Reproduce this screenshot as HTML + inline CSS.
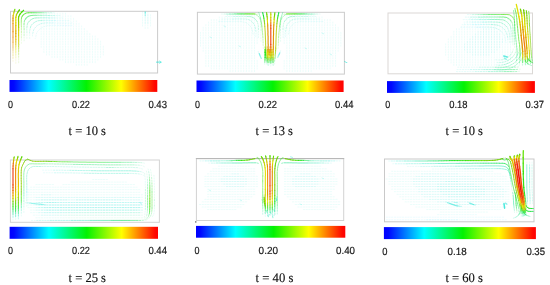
<!DOCTYPE html>
<html lang="en"><head><meta charset="utf-8"><title>Velocity vector fields</title>
<style>
html,body{margin:0;padding:0;background:#fff;}
body{width:550px;height:285px;overflow:hidden;position:relative;}
svg{position:absolute;left:0;top:0;display:block;}
text{text-rendering:geometricPrecision;}
.tk{font-family:"Liberation Sans",sans-serif;font-size:10.4px;fill:#161616;stroke:#161616;stroke-width:0.18px;}
.cp{font-family:"Liberation Serif",serif;font-size:13.1px;fill:#111;stroke:#111;stroke-width:0.15px;}
</style></head><body>
<svg width="550" height="285" viewBox="0 0 550 285">
<defs>
<linearGradient id="jet" x1="0" y1="0" x2="1" y2="0">
<stop offset="0" stop-color="#0000ff"/><stop offset="0.03" stop-color="#0008ff"/><stop offset="0.265" stop-color="#00ffff"/>
<stop offset="0.52" stop-color="#02f202"/><stop offset="0.755" stop-color="#ffff00"/>
<stop offset="0.98" stop-color="#ff0800"/><stop offset="1" stop-color="#ff0000"/>
</linearGradient>
<filter id="soft" x="-5%" y="-5%" width="110%" height="110%"><feGaussianBlur stdDeviation="0.4"/></filter>
</defs>
<rect x="0" y="0" width="550" height="285" fill="#ffffff"/>
<g id="panel1">
<rect x="10.5" y="11.3" width="147.1" height="61.7" fill="none" stroke="#cbcbcb" stroke-width="1"/>
<g fill="none" stroke-linecap="round" filter="url(#soft)">
<path stroke="#00b0ff" stroke-opacity=".1" stroke-width="0.95" d="M65.4 25.6l1.1 0.0"/>
<path stroke="#00c0ff" stroke-opacity=".1" stroke-width="0.95" d="M59.9 23.0l1.2 0.0M62.7 25.5l1.1 0.0M68.1 25.6l1.1 0.0"/>
<path stroke="#00d0ff" stroke-opacity=".1" stroke-width="0.95" d="M57.2 23.0l1.2 0.0M62.6 23.0l1.2 0.0M60.0 25.5l1.1 0.0M70.8 25.6l1.1 -0.0"/>
<path stroke="#00e000" stroke-opacity=".1" stroke-width="1.05" d="M24.1 40.8l0.0 -1.1M24.1 38.1l0.0 -1.2"/>
<path stroke="#00e080" stroke-opacity=".1" stroke-width="0.95" d="M26.9 38.3l0.0 -1.1M26.9 35.6l-0.0 -1.2"/>
<path stroke="#00e0b0" stroke-opacity=".1" stroke-width="0.95" d="M29.7 38.5l0.0 -1.1M29.7 35.8l-0.0 -1.1"/>
<path stroke="#00e0b0" stroke-opacity=".1" stroke-width="1.05" d="M53.1 12.8l1.2 0.0"/>
<path stroke="#00e0c0" stroke-opacity=".1" stroke-width="0.95" d="M32.5 36.0l0.0 -1.1"/>
<path stroke="#00e0c0" stroke-opacity=".1" stroke-width="1.05" d="M56.1 15.4l1.2 0.0"/>
<path stroke="#00e0d0" stroke-opacity=".1" stroke-width="0.8" d="M43.9 14.3l0.0 -1.2M46.6 14.3l0.0 -1.2M49.3 14.3l0.0 -1.2M52.0 14.3l0.0 -1.2M54.7 14.3l0.0 -1.2M57.4 14.3l0.0 -1.2M60.1 14.3l0.0 -1.2M62.8 14.3l0.0 -1.2M65.5 14.3l0.0 -1.2M41.2 16.9l0.0 -1.2M43.9 16.9l0.0 -1.2M46.6 16.9l0.0 -1.2M49.3 16.9l0.0 -1.2M52.0 16.9l0.0 -1.2M54.7 16.9l0.0 -1.2M57.4 16.9l0.0 -1.2M60.1 16.9l0.0 -1.2M62.8 16.9l0.0 -1.2M65.5 16.9l0.0 -1.2M68.2 16.9l0.0 -1.2M70.9 16.9l0.0 -1.2M41.2 19.4l0.0 -1.2M43.9 19.4l0.0 -1.2M46.6 19.4l0.0 -1.2M49.3 19.4l0.0 -1.2M52.0 19.4l0.0 -1.2M54.7 19.4l0.0 -1.2M57.4 19.4l0.0 -1.2M60.1 19.4l0.0 -1.2M62.8 19.4l0.0 -1.2M65.5 19.4l0.0 -1.2M68.2 19.4l0.0 -1.2M70.9 19.4l0.0 -1.2M73.6 19.4l0.0 -1.2M41.2 22.0l0.0 -1.2M43.9 22.0l0.0 -1.2M46.6 22.0l0.0 -1.2M49.3 22.0l0.0 -1.2M52.0 22.0l0.0 -1.2M54.7 22.0l0.0 -1.2M57.4 22.0l0.0 -1.2M60.1 22.0l0.0 -1.2M62.8 22.0l0.0 -1.2M65.5 22.0l0.0 -1.2M68.2 22.0l0.0 -1.2M70.9 22.0l0.0 -1.2M73.6 22.0l0.0 -1.2M76.3 22.0l0.0 -1.2M41.2 24.5l0.0 -1.2M43.9 24.5l0.0 -1.2M46.6 24.5l0.0 -1.2M49.3 24.5l0.0 -1.2M52.0 24.5l0.0 -1.2M54.7 24.5l0.0 -1.2M57.4 24.5l0.0 -1.2M60.1 24.5l0.0 -1.2M62.8 24.5l0.0 -1.2M65.5 24.5l0.0 -1.2M68.2 24.5l0.0 -1.2M70.9 24.5l0.0 -1.2M73.6 24.5l0.0 -1.2M76.3 24.5l0.0 -1.2M79.0 24.5l0.0 -1.2M41.2 27.1l0.0 -1.2M43.9 27.1l0.0 -1.2M46.6 27.1l0.0 -1.2M49.3 27.1l0.0 -1.2M52.0 27.1l0.0 -1.2M54.7 27.1l0.0 -1.2M57.4 27.1l0.0 -1.2M60.1 27.1l0.0 -1.2M62.8 27.1l0.0 -1.2M65.5 27.1l0.0 -1.2M68.2 27.1l0.0 -1.2M70.9 27.1l0.0 -1.2M73.6 27.1l0.0 -1.2M76.3 27.1l0.0 -1.2M79.0 27.1l0.0 -1.2M81.7 27.1l0.0 -1.2M41.2 29.6l0.0 -1.2M43.9 29.6l0.0 -1.2M46.6 29.6l0.0 -1.2M49.3 29.6l0.0 -1.2M52.0 29.6l0.0 -1.2M54.7 29.6l0.0 -1.2M57.4 29.6l0.0 -1.2M60.1 29.6l0.0 -1.2M62.8 29.6l0.0 -1.2M65.5 29.6l0.0 -1.2M68.2 29.6l0.0 -1.2M70.9 29.6l0.0 -1.2M73.6 29.6l0.0 -1.2M76.3 29.6l0.0 -1.2M79.0 29.6l0.0 -1.2M81.7 29.6l0.0 -1.2M84.4 29.6l0.0 -1.2M41.2 32.2l0.0 -1.2M43.9 32.2l0.0 -1.2M46.6 32.2l0.0 -1.2M49.3 32.2l0.0 -1.2M52.0 32.2l0.0 -1.2M54.7 32.2l0.0 -1.2M57.4 32.2l0.0 -1.2M60.1 32.2l0.0 -1.2M62.8 32.2l0.0 -1.2M65.5 32.2l0.0 -1.2M68.2 32.2l0.0 -1.2M70.9 32.2l0.0 -1.2M73.6 32.2l0.0 -1.2M76.3 32.2l0.0 -1.2M79.0 32.2l0.0 -1.2M81.7 32.2l0.0 -1.2M84.4 32.2l0.0 -1.2M87.1 32.2l0.0 -1.2M41.2 34.7l0.0 -1.2M43.9 34.7l0.0 -1.2M46.6 34.7l0.0 -1.2M49.3 34.7l0.0 -1.2M52.0 34.7l0.0 -1.2M54.7 34.7l0.0 -1.2M57.4 34.7l0.0 -1.2M60.1 34.7l0.0 -1.2M62.8 34.7l0.0 -1.2M65.5 34.7l0.0 -1.2M68.2 34.7l0.0 -1.2M70.9 34.7l0.0 -1.2M73.6 34.7l0.0 -1.2M76.3 34.7l0.0 -1.2M79.0 34.7l0.0 -1.2M81.7 34.7l0.0 -1.2M84.4 34.7l0.0 -1.2M87.1 34.7l0.0 -1.2M89.8 34.7l0.0 -1.2M41.2 37.2l0.0 -1.2M43.9 37.2l0.0 -1.2M46.6 37.2l0.0 -1.2M49.3 37.2l0.0 -1.2M52.0 37.2l0.0 -1.2M54.7 37.2l0.0 -1.2M57.4 37.2l0.0 -1.2M60.1 37.2l0.0 -1.2M62.8 37.2l0.0 -1.2M65.5 37.2l0.0 -1.2M68.2 37.2l0.0 -1.2M70.9 37.2l0.0 -1.2M73.6 37.2l0.0 -1.2M76.3 37.2l0.0 -1.2M79.0 37.2l0.0 -1.2M81.7 37.2l0.0 -1.2M84.4 37.2l0.0 -1.2M87.1 37.2l0.0 -1.2M89.8 37.2l0.0 -1.2M92.5 37.2l0.0 -1.2M95.2 37.2l0.0 -1.2M41.2 39.8l0.0 -1.2M43.9 39.8l0.0 -1.2M46.6 39.8l0.0 -1.2M49.3 39.8l0.0 -1.2M52.0 39.8l0.0 -1.2M54.7 39.8l0.0 -1.2M57.4 39.8l0.0 -1.2M60.1 39.8l0.0 -1.2M62.8 39.8l0.0 -1.2M65.5 39.8l0.0 -1.2M68.2 39.8l0.0 -1.2M70.9 39.8l0.0 -1.2M73.6 39.8l0.0 -1.2M76.3 39.8l0.0 -1.2M79.0 39.8l0.0 -1.2M81.7 39.8l0.0 -1.2M84.4 39.8l0.0 -1.2M87.1 39.8l0.0 -1.2M89.8 39.8l0.0 -1.2M92.5 39.8l0.0 -1.2M95.2 39.8l0.0 -1.2M97.9 39.8l0.0 -1.2M41.2 42.3l0.0 -1.2M43.9 42.3l0.0 -1.2M46.6 42.3l0.0 -1.2M49.3 42.3l0.0 -1.2M52.0 42.3l0.0 -1.2M54.7 42.3l0.0 -1.2M57.4 42.3l0.0 -1.2M60.1 42.3l0.0 -1.2M62.8 42.3l0.0 -1.2M65.5 42.3l0.0 -1.2M68.2 42.3l0.0 -1.2M70.9 42.3l0.0 -1.2M73.6 42.3l0.0 -1.2M76.3 42.3l0.0 -1.2M79.0 42.3l0.0 -1.2M81.7 42.3l0.0 -1.2M84.4 42.3l0.0 -1.2M87.1 42.3l0.0 -1.2M89.8 42.3l0.0 -1.2M92.5 42.3l0.0 -1.2M95.2 42.3l0.0 -1.2M97.9 42.3l0.0 -1.2M100.6 42.3l0.0 -1.2M41.2 44.9l0.0 -1.2M43.9 44.9l0.0 -1.2M46.6 44.9l0.0 -1.2M49.3 44.9l0.0 -1.2M52.0 44.9l0.0 -1.2M54.7 44.9l0.0 -1.2M57.4 44.9l0.0 -1.2M60.1 44.9l0.0 -1.2M62.8 44.9l0.0 -1.2M65.5 44.9l0.0 -1.2M68.2 44.9l0.0 -1.2M70.9 44.9l0.0 -1.2M73.6 44.9l0.0 -1.2M76.3 44.9l0.0 -1.2M79.0 44.9l0.0 -1.2M81.7 44.9l0.0 -1.2M84.4 44.9l0.0 -1.2M87.1 44.9l0.0 -1.2M89.8 44.9l0.0 -1.2M92.5 44.9l0.0 -1.2M95.2 44.9l0.0 -1.2M97.9 44.9l0.0 -1.2M100.6 44.9l0.0 -1.2M41.2 47.4l0.0 -1.2M43.9 47.4l0.0 -1.2M46.6 47.4l0.0 -1.2M49.3 47.4l0.0 -1.2M52.0 47.4l0.0 -1.2M54.7 47.4l0.0 -1.2M57.4 47.4l0.0 -1.2M60.1 47.4l0.0 -1.2M62.8 47.4l0.0 -1.2M65.5 47.4l0.0 -1.2M68.2 47.4l0.0 -1.2M70.9 47.4l0.0 -1.2M73.6 47.4l0.0 -1.2M76.3 47.4l0.0 -1.2M79.0 47.4l0.0 -1.2M81.7 47.4l0.0 -1.2M84.4 47.4l0.0 -1.2M87.1 47.4l0.0 -1.2M89.8 47.4l0.0 -1.2M92.5 47.4l0.0 -1.2M95.2 47.4l0.0 -1.2M97.9 47.4l0.0 -1.2M100.6 47.4l0.0 -1.2M103.3 47.4l0.0 -1.2M43.9 50.0l0.0 -1.2M46.6 50.0l0.0 -1.2M49.3 50.0l0.0 -1.2M52.0 50.0l0.0 -1.2M54.7 50.0l0.0 -1.2M57.4 50.0l0.0 -1.2M60.1 50.0l0.0 -1.2M62.8 50.0l0.0 -1.2M65.5 50.0l0.0 -1.2M68.2 50.0l0.0 -1.2M70.9 50.0l0.0 -1.2M73.6 50.0l0.0 -1.2M76.3 50.0l0.0 -1.2M79.0 50.0l0.0 -1.2M81.7 50.0l0.0 -1.2M84.4 50.0l0.0 -1.2M87.1 50.0l0.0 -1.2M89.8 50.0l0.0 -1.2M92.5 50.0l0.0 -1.2M95.2 50.0l0.0 -1.2M97.9 50.0l0.0 -1.2M100.6 50.0l0.0 -1.2M103.3 50.0l0.0 -1.2M43.9 52.5l0.0 -1.2M46.6 52.5l0.0 -1.2M49.3 52.5l0.0 -1.2M52.0 52.5l0.0 -1.2M54.7 52.5l0.0 -1.2M57.4 52.5l0.0 -1.2M60.1 52.5l0.0 -1.2M62.8 52.5l0.0 -1.2M65.5 52.5l0.0 -1.2M68.2 52.5l0.0 -1.2M70.9 52.5l0.0 -1.2M73.6 52.5l0.0 -1.2M76.3 52.5l0.0 -1.2M79.0 52.5l0.0 -1.2M81.7 52.5l0.0 -1.2M84.4 52.5l0.0 -1.2M87.1 52.5l0.0 -1.2M89.8 52.5l0.0 -1.2M92.5 52.5l0.0 -1.2M95.2 52.5l0.0 -1.2M97.9 52.5l0.0 -1.2M100.6 52.5l0.0 -1.2M103.3 52.5l0.0 -1.2M46.6 55.1l0.0 -1.2M49.3 55.1l0.0 -1.2M52.0 55.1l0.0 -1.2M54.7 55.1l0.0 -1.2M57.4 55.1l0.0 -1.2M60.1 55.1l0.0 -1.2M62.8 55.1l0.0 -1.2M65.5 55.1l0.0 -1.2M68.2 55.1l0.0 -1.2M70.9 55.1l0.0 -1.2M73.6 55.1l0.0 -1.2M76.3 55.1l0.0 -1.2M79.0 55.1l0.0 -1.2M81.7 55.1l0.0 -1.2M84.4 55.1l0.0 -1.2M87.1 55.1l0.0 -1.2M89.8 55.1l0.0 -1.2M92.5 55.1l0.0 -1.2M95.2 55.1l0.0 -1.2M97.9 55.1l0.0 -1.2M100.6 55.1l0.0 -1.2M103.3 55.1l0.0 -1.2M52.0 57.6l0.0 -1.2M54.7 57.6l0.0 -1.2M57.4 57.6l0.0 -1.2M60.1 57.6l0.0 -1.2M62.8 57.6l0.0 -1.2M65.5 57.6l0.0 -1.2M68.2 57.6l0.0 -1.2M70.9 57.6l0.0 -1.2M73.6 57.6l0.0 -1.2M76.3 57.6l0.0 -1.2M79.0 57.6l0.0 -1.2M81.7 57.6l0.0 -1.2M84.4 57.6l0.0 -1.2M87.1 57.6l0.0 -1.2M89.8 57.6l0.0 -1.2M92.5 57.6l0.0 -1.2M95.2 57.6l0.0 -1.2M97.9 57.6l0.0 -1.2M100.6 57.6l0.0 -1.2M60.1 60.2l0.0 -1.2M62.8 60.2l0.0 -1.2M65.5 60.2l0.0 -1.2M68.2 60.2l0.0 -1.2M70.9 60.2l0.0 -1.2M73.6 60.2l0.0 -1.2M76.3 60.2l0.0 -1.2M79.0 60.2l0.0 -1.2M81.7 60.2l0.0 -1.2M84.4 60.2l0.0 -1.2M87.1 60.2l0.0 -1.2M89.8 60.2l0.0 -1.2M92.5 60.2l0.0 -1.2M95.2 60.2l0.0 -1.2M97.9 60.2l0.0 -1.2M65.5 62.7l0.0 -1.2M68.2 62.7l0.0 -1.2M70.9 62.7l0.0 -1.2M73.6 62.7l0.0 -1.2M76.3 62.7l0.0 -1.2M79.0 62.7l0.0 -1.2M81.7 62.7l0.0 -1.2M84.4 62.7l0.0 -1.2M87.1 62.7l0.0 -1.2M89.8 62.7l0.0 -1.2M92.5 62.7l0.0 -1.2M95.2 62.7l0.0 -1.2M76.3 65.3l0.0 -1.2M79.0 65.3l0.0 -1.2M81.7 65.3l0.0 -1.2M84.4 65.3l0.0 -1.2M87.1 65.3l0.0 -1.2M142.5 12.0l0.0 1.3M147.9 12.0l0.0 1.3M142.5 14.6l0.0 1.3M150.6 14.6l0.0 1.3M142.5 17.1l0.0 1.3M150.6 17.1l0.0 1.3M142.5 19.7l0.0 1.3M150.6 19.7l0.0 1.3M142.5 22.2l0.0 1.3M150.6 22.2l0.0 1.3M142.5 24.8l0.0 1.3M145.2 24.8l0.0 1.3M147.9 24.8l0.0 1.3M150.6 24.8l0.0 1.3M145.2 27.3l0.0 1.3M147.9 27.3l0.0 1.3"/>
<path stroke="#00e0d0" stroke-opacity=".1" stroke-width="0.95" d="M56.5 17.9l1.3 0.0M59.2 17.9l1.2 0.0M61.9 17.9l1.1 -0.0M35.2 38.5l0.3 -0.5M35.8 36.5l0.3 -1.1M36.4 33.9l0.4 -1.1M37.6 31.5l0.8 -0.9M39.4 29.5l0.9 -0.8M41.6 27.8l1.0 -0.6M44.0 26.6l1.1 -0.4M46.6 25.9l1.2 -0.2"/>
<path stroke="#00e0d0" stroke-opacity=".1" stroke-width="1.05" d="M58.8 15.4l1.1 0.0"/>
<path stroke="#00e0e0" stroke-opacity=".1" stroke-width="0.95" d="M67.7 20.4l1.1 0.0M49.2 25.6l1.2 -0.1"/>
<path stroke="#00e0f0" stroke-opacity=".1" stroke-width="0.95" d="M62.3 20.4l1.2 0.0M65.0 20.4l1.1 0.0M70.7 23.0l1.1 0.0M51.9 25.4l1.2 -0.0"/>
<path stroke="#00e0ff" stroke-opacity=".1" stroke-width="0.95" d="M56.9 20.4l1.3 0.0M59.6 20.4l1.2 0.0M54.5 22.9l1.2 0.0M65.3 23.0l1.1 0.0M68.0 23.0l1.1 0.0M54.6 25.4l1.2 0.0M57.3 25.4l1.2 0.0"/>
<path stroke="#60e000" stroke-opacity=".1" stroke-width="1.05" d="M21.4 43.3l0.0 -1.1M21.4 40.6l0.0 -1.2"/>
<path stroke="#70d000" stroke-opacity=".1" stroke-width="1.2" d="M18.6 62.6l0.0 -1.1"/>
<path stroke="#80d000" stroke-opacity=".1" stroke-width="1.2" d="M18.6 59.9l0.0 -1.2"/>
<path stroke="#c0d000" stroke-opacity=".1" stroke-width="1.2" d="M15.8 63.3l0.0 -1.1M15.8 60.6l0.0 -1.2"/>
<path stroke="#e0d000" stroke-opacity=".1" stroke-width="1.2" d="M13.0 61.3l0.0 -1.1"/>
<path stroke="#00e000" stroke-opacity=".2" stroke-width="1.05" d="M24.1 35.4l0.0 -1.3M24.1 32.7l-0.0 -1.3"/>
<path stroke="#00e070" stroke-opacity=".2" stroke-width="0.95" d="M26.8 30.2l-0.0 -1.4"/>
<path stroke="#00e080" stroke-opacity=".2" stroke-width="0.95" d="M26.9 32.9l-0.0 -1.3"/>
<path stroke="#00e080" stroke-opacity=".2" stroke-width="1.05" d="M47.7 12.8l1.5 -0.0"/>
<path stroke="#00e090" stroke-opacity=".2" stroke-width="1.05" d="M50.4 12.8l1.4 0.0"/>
<path stroke="#00e0a0" stroke-opacity=".2" stroke-width="0.95" d="M29.8 30.4l0.2 -1.4"/>
<path stroke="#00e0a0" stroke-opacity=".2" stroke-width="1.05" d="M50.7 15.4l1.4 0.0"/>
<path stroke="#00e0b0" stroke-opacity=".2" stroke-width="0.95" d="M29.6 33.1l-0.0 -1.3"/>
<path stroke="#00e0b0" stroke-opacity=".2" stroke-width="1.05" d="M53.4 15.4l1.3 0.0"/>
<path stroke="#00e0c0" stroke-opacity=".2" stroke-width="0.95" d="M43.4 20.4l1.5 -0.0M32.8 33.4l0.3 -1.2M33.4 30.7l0.5 -1.2M34.6 28.3l0.9 -1.0M36.4 26.3l1.0 -0.8M38.6 24.8l1.2 -0.6M41.0 23.6l1.3 -0.3M43.7 23.1l1.3 -0.1"/>
<path stroke="#00e0d0" stroke-opacity=".2" stroke-width="0.8" d="M147.9 14.6l0.0 1.3M145.2 17.1l0.0 1.3M147.9 17.1l0.0 1.3M145.2 19.7l0.0 1.3M147.9 19.7l0.0 1.3M145.2 22.2l0.0 1.3M147.9 22.2l0.0 1.3"/>
<path stroke="#00e0d0" stroke-opacity=".2" stroke-width="0.95" d="M51.1 17.9l1.4 0.0M53.8 17.9l1.3 0.0M46.1 20.3l1.4 0.0M46.4 22.9l1.3 -0.0"/>
<path stroke="#00e0e0" stroke-opacity=".2" stroke-width="0.95" d="M48.8 20.4l1.4 0.0M49.1 22.9l1.3 -0.0"/>
<path stroke="#00e0f0" stroke-opacity=".2" stroke-width="0.95" d="M51.5 20.4l1.3 0.0M51.8 22.9l1.3 0.0"/>
<path stroke="#00e0ff" stroke-opacity=".2" stroke-width="0.95" d="M54.2 20.4l1.3 0.0"/>
<path stroke="#60e000" stroke-opacity=".2" stroke-width="1.05" d="M21.4 37.9l-0.0 -1.3M21.4 35.2l0.0 -1.4"/>
<path stroke="#80d000" stroke-opacity=".2" stroke-width="1.2" d="M18.6 57.2l0.0 -1.4"/>
<path stroke="#d0d000" stroke-opacity=".2" stroke-width="1.2" d="M15.8 57.9l-0.0 -1.4"/>
<path stroke="#e0c000" stroke-opacity=".2" stroke-width="1.2" d="M13.0 58.6l0.0 -1.3"/>
<path stroke="#00e000" stroke-opacity=".3" stroke-width="1.05" d="M24.1 30.0l-0.0 -1.4"/>
<path stroke="#00e010" stroke-opacity=".3" stroke-width="1.05" d="M24.0 27.3l-0.0 -1.5"/>
<path stroke="#00e060" stroke-opacity=".3" stroke-width="1.05" d="M45.0 12.8l1.6 0.0"/>
<path stroke="#00e070" stroke-opacity=".3" stroke-width="0.95" d="M26.9 27.5l0.2 -1.5M27.2 24.8l0.5 -1.5"/>
<path stroke="#00e070" stroke-opacity=".3" stroke-width="1.05" d="M42.6 15.3l1.7 0.0"/>
<path stroke="#00e090" stroke-opacity=".3" stroke-width="0.95" d="M40.3 17.8l1.6 0.0"/>
<path stroke="#00e090" stroke-opacity=".3" stroke-width="1.05" d="M45.3 15.3l1.6 0.0"/>
<path stroke="#00e0a0" stroke-opacity=".3" stroke-width="0.95" d="M43.0 17.8l1.6 0.0M30.3 27.8l0.5 -1.4M31.4 25.3l0.9 -1.2M33.3 23.3l1.2 -0.9M35.5 21.8l1.3 -0.6M38.0 20.8l1.5 -0.2M40.7 20.5l1.5 -0.1"/>
<path stroke="#00e0a0" stroke-opacity=".3" stroke-width="1.05" d="M48.0 15.4l1.5 0.0"/>
<path stroke="#00e0b0" stroke-opacity=".3" stroke-width="0.95" d="M45.7 17.8l1.5 0.0"/>
<path stroke="#00e0c0" stroke-opacity=".3" stroke-width="0.95" d="M48.4 17.9l1.5 0.0"/>
<path stroke="#60e000" stroke-opacity=".3" stroke-width="1.05" d="M21.4 32.5l-0.0 -1.5M21.4 29.8l-0.0 -1.6"/>
<path stroke="#90d000" stroke-opacity=".3" stroke-width="1.2" d="M18.6 54.5l0.0 -1.5"/>
<path stroke="#d0e000" stroke-opacity=".3" stroke-width="1.2" d="M15.8 55.2l0.0 -1.5"/>
<path stroke="#e0b000" stroke-opacity=".3" stroke-width="1.2" d="M13.0 53.2l0.0 -1.6"/>
<path stroke="#e0c000" stroke-opacity=".3" stroke-width="1.2" d="M13.0 55.9l0.0 -1.4"/>
<path stroke="#00e010" stroke-opacity=".4" stroke-width="1.05" d="M24.0 24.6l0.1 -1.6"/>
<path stroke="#00e020" stroke-opacity=".4" stroke-width="1.05" d="M24.2 21.9l0.5 -1.7"/>
<path stroke="#00e040" stroke-opacity=".4" stroke-width="1.05" d="M42.3 12.8l1.8 0.0"/>
<path stroke="#00e050" stroke-opacity=".4" stroke-width="1.05" d="M37.2 15.3l1.8 0.0"/>
<path stroke="#00e060" stroke-opacity=".4" stroke-width="1.05" d="M39.9 15.3l1.7 0.0"/>
<path stroke="#00e070" stroke-opacity=".4" stroke-width="0.95" d="M28.3 22.4l1.1 -1.3M30.1 20.4l1.4 -1.0M32.3 18.9l1.6 -0.6M34.9 18.1l1.7 -0.2"/>
<path stroke="#00e080" stroke-opacity=".4" stroke-width="0.95" d="M37.6 17.9l1.7 -0.0"/>
<path stroke="#50e000" stroke-opacity=".4" stroke-width="1.05" d="M21.3 24.4l-0.0 -1.8"/>
<path stroke="#60e000" stroke-opacity=".4" stroke-width="1.05" d="M21.4 27.1l-0.0 -1.7"/>
<path stroke="#a0d000" stroke-opacity=".4" stroke-width="1.2" d="M18.6 51.8l0.0 -1.7"/>
<path stroke="#e0a000" stroke-opacity=".4" stroke-width="1.2" d="M13.0 50.5l0.0 -1.8"/>
<path stroke="#e0e000" stroke-opacity=".4" stroke-width="1.2" d="M15.8 52.5l0.0 -1.7"/>
<path stroke="#00e020" stroke-opacity=".5" stroke-width="1.05" d="M36.9 12.8l2.0 0.0"/>
<path stroke="#00e030" stroke-opacity=".5" stroke-width="1.05" d="M39.6 12.8l1.9 0.0M25.2 19.4l1.2 -1.5M26.9 17.4l1.6 -1.1M29.2 16.0l1.9 -0.5M31.8 15.4l1.9 -0.1"/>
<path stroke="#00e040" stroke-opacity=".5" stroke-width="1.05" d="M34.5 15.3l1.9 -0.0"/>
<path stroke="#50e000" stroke-opacity=".5" stroke-width="1.05" d="M21.3 21.7l0.0 -1.9"/>
<path stroke="#b0d000" stroke-opacity=".5" stroke-width="1.2" d="M18.6 49.1l0.0 -1.9"/>
<path stroke="#e09000" stroke-opacity=".5" stroke-width="1.2" d="M13.0 47.8l0.0 -1.9"/>
<path stroke="#e0e000" stroke-opacity=".5" stroke-width="1.2" d="M15.8 49.8l0.0 -1.9"/>
<path stroke="#00e000" stroke-opacity=".6" stroke-width="1.05" d="M31.5 12.7l2.2 0.0"/>
<path stroke="#00e010" stroke-opacity=".6" stroke-width="1.05" d="M34.2 12.7l2.1 0.0"/>
<path stroke="#00e0d0" stroke-opacity=".6" stroke-width="0.8" d="M145.2 14.6l0.0 1.3"/>
<path stroke="#40e000" stroke-opacity=".6" stroke-width="1.05" d="M21.4 19.0l0.3 -2.0"/>
<path stroke="#b0d000" stroke-opacity=".6" stroke-width="1.2" d="M18.6 46.4l0.0 -2.1"/>
<path stroke="#e0d000" stroke-opacity=".6" stroke-width="1.2" d="M15.8 47.1l0.0 -2.1"/>
<path stroke="#f0a010" stroke-opacity=".6" stroke-width="1.2" d="M13.0 45.1l0.0 -2.1"/>
<path stroke="#20e000" stroke-opacity=".7" stroke-width="1.05" d="M28.8 12.8l2.3 -0.0"/>
<path stroke="#30e000" stroke-opacity=".7" stroke-width="1.05" d="M22.1 16.4l1.4 -1.7M23.8 14.4l2.0 -1.2M26.2 13.1l2.3 -0.3"/>
<path stroke="#c0d000" stroke-opacity=".7" stroke-width="1.2" d="M18.6 43.7l0.0 -2.2"/>
<path stroke="#e0c000" stroke-opacity=".7" stroke-width="1.2" d="M15.8 44.4l0.0 -2.3"/>
<path stroke="#f09010" stroke-opacity=".7" stroke-width="1.2" d="M13.0 42.4l0.0 -2.2M13.0 39.7l0.0 -2.4"/>
<path stroke="#d0d000" stroke-opacity=".8" stroke-width="1.2" d="M18.6 41.0l-0.0 -2.4M18.6 38.3l0.0 -2.5"/>
<path stroke="#e0b000" stroke-opacity=".8" stroke-width="1.2" d="M15.8 39.0l-0.0 -2.6"/>
<path stroke="#e0c000" stroke-opacity=".8" stroke-width="1.2" d="M15.8 41.7l-0.0 -2.4"/>
<path stroke="#f09010" stroke-opacity=".8" stroke-width="1.2" d="M13.0 37.0l0.0 -2.5M13.0 34.3l0.0 -2.6"/>
<path stroke="#00e0d0" stroke-opacity=".9" stroke-width="0.8" d="M145.2 12.0l0.0 1.3"/>
<path stroke="#60e000" stroke-opacity=".9" stroke-width="1.2" d="M14.6 10.2l0.3 -0.9"/>
<path stroke="#a0d000" stroke-opacity=".9" stroke-width="1.2" d="M13.8 12.8l0.8 -2.6"/>
<path stroke="#c0d000" stroke-opacity=".9" stroke-width="1.2" d="M18.6 30.2l0.0 -2.8"/>
<path stroke="#d0d000" stroke-opacity=".9" stroke-width="1.2" d="M18.6 35.6l0.0 -2.6M18.6 32.9l-0.0 -2.7"/>
<path stroke="#e09000" stroke-opacity=".9" stroke-width="1.2" d="M13.0 20.8l-0.0 -2.7"/>
<path stroke="#e0a000" stroke-opacity=".9" stroke-width="1.2" d="M13.0 18.1l0.2 -2.7"/>
<path stroke="#e0b000" stroke-opacity=".9" stroke-width="1.2" d="M15.8 36.3l0.0 -2.7"/>
<path stroke="#e0d000" stroke-opacity=".9" stroke-width="1.2" d="M13.2 15.4l0.7 -2.6"/>
<path stroke="#f09010" stroke-opacity=".9" stroke-width="1.2" d="M13.0 31.6l0.0 -2.7M13.0 28.9l0.0 -2.7M13.0 26.2l-0.0 -2.7"/>
<path stroke="#f0a010" stroke-opacity=".9" stroke-width="1.2" d="M13.0 23.5l-0.0 -2.7"/>
<path stroke="#40e000" stroke-width="1.2" d="M19.3 10.2l0.2 -0.3M21.6 12.3l2.0 -1.9M23.6 10.4l0.0 -0.0"/>
<path stroke="#50e000" stroke-width="1.2" d="M19.8 14.3l1.9 -2.1"/>
<path stroke="#60d000" stroke-width="1.2" d="M17.7 12.4l1.6 -2.3"/>
<path stroke="#60e000" stroke-width="1.2" d="M18.7 16.7l1.2 -2.5"/>
<path stroke="#80d000" stroke-width="1.2" d="M18.5 19.4l0.2 -2.8"/>
<path stroke="#90d000" stroke-width="1.2" d="M16.4 14.8l1.4 -2.5M18.6 22.1l-0.1 -2.8"/>
<path stroke="#a0d000" stroke-width="1.2" d="M18.6 24.8l-0.0 -2.8"/>
<path stroke="#b0d000" stroke-width="1.2" d="M18.6 27.5l0.0 -2.8"/>
<path stroke="#c0d000" stroke-width="1.2" d="M15.8 17.4l0.7 -2.7"/>
<path stroke="#d0e000" stroke-width="1.2" d="M15.8 20.1l0.0 -2.8"/>
<path stroke="#e0b000" stroke-width="1.2" d="M15.8 33.6l0.0 -2.8"/>
<path stroke="#e0c000" stroke-width="1.2" d="M15.8 30.9l-0.0 -2.8M15.8 28.2l0.0 -2.8"/>
<path stroke="#e0d000" stroke-width="1.2" d="M15.8 25.5l0.0 -2.8"/>
<path stroke="#e0e000" stroke-width="1.2" d="M15.8 22.8l-0.0 -2.8"/>
</g>
<g fill="none" stroke-linecap="round" filter="url(#soft)">
<path stroke="#00e0d0" stroke-opacity=".4" stroke-width="0.9" d="M159.5 60.9l1.6 1.3M159.5 63.5l1.6 -1.3"/>
<path stroke="#00e0d0" stroke-opacity=".5" stroke-width="1.2" d="M156.5 62.2l4.2 0.0"/>
</g>
<rect x="9.5" y="80.0" width="147.8" height="11.9" fill="url(#jet)"/>
</g>
<g id="panel2">
<rect x="197.4" y="12.3" width="147.0" height="61.8" fill="none" stroke="#cbcbcb" stroke-width="1"/>
<g fill="none" stroke-linecap="round" filter="url(#soft)">
<path stroke="#00e010" stroke-opacity=".1" stroke-width="0.9" d="M263.4 48.5l-0.2 -1.2M278.1 48.5l0.2 -1.2"/>
<path stroke="#00e060" stroke-opacity=".1" stroke-width="1.0" d="M261.0 33.2l0.0 -1.2M280.5 33.2l-0.0 -1.2"/>
<path stroke="#00e070" stroke-opacity=".1" stroke-width="1.0" d="M260.9 35.9l0.0 -1.2M280.6 35.9l0.0 -1.2"/>
<path stroke="#00e080" stroke-opacity=".1" stroke-width="1.0" d="M260.9 38.6l0.0 -1.1M280.6 38.6l0.0 -1.1"/>
<path stroke="#00e090" stroke-opacity=".1" stroke-width="1.0" d="M260.9 41.3l-0.0 -1.1M280.6 41.3l0.0 -1.1"/>
<path stroke="#00e090" stroke-opacity=".1" stroke-width="1.1" d="M267.0 64.0l-0.1 -1.2M274.5 64.0l0.1 -1.2"/>
<path stroke="#00e0a0" stroke-opacity=".1" stroke-width="1.0" d="M233.3 14.0l-1.3 0.0M258.5 32.3l0.0 -1.2M308.2 14.0l1.3 0.0M283.0 32.3l-0.0 -1.2"/>
<path stroke="#00e0b0" stroke-opacity=".1" stroke-width="1.0" d="M230.6 14.0l-1.2 0.0M258.4 35.0l0.0 -1.1M310.9 14.0l1.2 0.0M283.1 35.0l-0.0 -1.1"/>
<path stroke="#00e0b0" stroke-opacity=".1" stroke-width="1.1" d="M270.8 66.0l0.0 -1.1M222.7 14.0l-1.3 -0.0M318.8 14.0l1.3 -0.0"/>
<path stroke="#00e0b0" stroke-opacity=".1" stroke-width="1.3" d="M267.1 63.0l-0.0 1.0M269.8 63.0l0.0 1.0M272.1 63.0l0.0 1.0M264.7 63.0l-0.1 1.0"/>
<path stroke="#00e0c0" stroke-opacity=".1" stroke-width="1.0" d="M258.4 37.7l0.0 -1.1M232.2 16.5l-1.3 0.0M229.5 16.5l-1.2 0.0M250.6 26.6l-0.8 -1.0M248.8 24.6l-0.9 -0.8M246.7 23.0l-1.1 -0.6M244.2 22.0l-1.2 -0.2M283.1 37.7l0.0 -1.1M309.3 16.5l1.3 0.0M312.0 16.5l1.2 0.0M290.9 26.6l0.8 -1.0M292.7 24.6l0.9 -0.8M294.8 23.0l1.1 -0.6M297.3 22.0l1.2 -0.2"/>
<path stroke="#00e0d0" stroke-opacity=".1" stroke-width="0.8" d="M227.5 15.6l0.0 -1.2M230.2 15.6l0.0 -1.2M232.9 15.6l0.0 -1.2M235.6 15.6l0.0 -1.2M238.3 15.6l0.0 -1.2M241.0 15.6l0.0 -1.2M243.7 15.6l0.0 -1.2M246.4 15.6l0.0 -1.2M249.1 15.6l0.0 -1.2M251.8 15.6l0.0 -1.2M254.5 15.6l0.0 -1.2M286.9 15.6l0.0 -1.2M289.6 15.6l0.0 -1.2M292.3 15.6l0.0 -1.2M295.0 15.6l0.0 -1.2M297.7 15.6l0.0 -1.2M300.4 15.6l0.0 -1.2M303.1 15.6l0.0 -1.2M305.8 15.6l0.0 -1.2M308.5 15.6l0.0 -1.2M311.2 15.6l0.0 -1.2M313.9 15.6l0.0 -1.2M219.4 18.1l0.0 -1.2M222.1 18.1l0.0 -1.2M224.8 18.1l0.0 -1.2M227.5 18.1l0.0 -1.2M230.2 18.1l0.0 -1.2M232.9 18.1l0.0 -1.2M235.6 18.1l0.0 -1.2M238.3 18.1l0.0 -1.2M241.0 18.1l0.0 -1.2M243.7 18.1l0.0 -1.2M246.4 18.1l0.0 -1.2M249.1 18.1l0.0 -1.2M251.8 18.1l0.0 -1.2M254.5 18.1l0.0 -1.2M286.9 18.1l0.0 -1.2M289.6 18.1l0.0 -1.2M292.3 18.1l0.0 -1.2M295.0 18.1l0.0 -1.2M297.7 18.1l0.0 -1.2M300.4 18.1l0.0 -1.2M303.1 18.1l0.0 -1.2M305.8 18.1l0.0 -1.2M308.5 18.1l0.0 -1.2M311.2 18.1l0.0 -1.2M313.9 18.1l0.0 -1.2M316.6 18.1l0.0 -1.2M319.3 18.1l0.0 -1.2M322.0 18.1l0.0 -1.2M211.3 20.7l0.0 -1.2M214.0 20.7l0.0 -1.2M216.7 20.7l0.0 -1.2M219.4 20.7l0.0 -1.2M222.1 20.7l0.0 -1.2M224.8 20.7l0.0 -1.2M227.5 20.7l0.0 -1.2M230.2 20.7l0.0 -1.2M232.9 20.7l0.0 -1.2M235.6 20.7l0.0 -1.2M238.3 20.7l0.0 -1.2M241.0 20.7l0.0 -1.2M243.7 20.7l0.0 -1.2M246.4 20.7l0.0 -1.2M249.1 20.7l0.0 -1.2M251.8 20.7l0.0 -1.2M254.5 20.7l0.0 -1.2M286.9 20.7l0.0 -1.2M289.6 20.7l0.0 -1.2M292.3 20.7l0.0 -1.2M295.0 20.7l0.0 -1.2M297.7 20.7l0.0 -1.2M300.4 20.7l0.0 -1.2M303.1 20.7l0.0 -1.2M305.8 20.7l0.0 -1.2M308.5 20.7l0.0 -1.2M311.2 20.7l0.0 -1.2M313.9 20.7l0.0 -1.2M316.6 20.7l0.0 -1.2M319.3 20.7l0.0 -1.2M322.0 20.7l0.0 -1.2M324.7 20.7l0.0 -1.2M327.4 20.7l0.0 -1.2M330.1 20.7l0.0 -1.2M208.6 23.2l0.0 -1.2M211.3 23.2l0.0 -1.2M214.0 23.2l0.0 -1.2M216.7 23.2l0.0 -1.2M219.4 23.2l0.0 -1.2M222.1 23.2l0.0 -1.2M224.8 23.2l0.0 -1.2M227.5 23.2l0.0 -1.2M230.2 23.2l0.0 -1.2M232.9 23.2l0.0 -1.2M235.6 23.2l0.0 -1.2M238.3 23.2l0.0 -1.2M241.0 23.2l0.0 -1.2M243.7 23.2l0.0 -1.2M246.4 23.2l0.0 -1.2M249.1 23.2l0.0 -1.2M251.8 23.2l0.0 -1.2M254.5 23.2l0.0 -1.2M286.9 23.2l0.0 -1.2M289.6 23.2l0.0 -1.2M292.3 23.2l0.0 -1.2M295.0 23.2l0.0 -1.2M297.7 23.2l0.0 -1.2M300.4 23.2l0.0 -1.2M303.1 23.2l0.0 -1.2M305.8 23.2l0.0 -1.2M308.5 23.2l0.0 -1.2M311.2 23.2l0.0 -1.2M313.9 23.2l0.0 -1.2M316.6 23.2l0.0 -1.2M319.3 23.2l0.0 -1.2M322.0 23.2l0.0 -1.2M324.7 23.2l0.0 -1.2M327.4 23.2l0.0 -1.2M330.1 23.2l0.0 -1.2M332.8 23.2l0.0 -1.2M205.9 25.8l0.0 -1.2M208.6 25.8l0.0 -1.2M211.3 25.8l0.0 -1.2M214.0 25.8l0.0 -1.2M216.7 25.8l0.0 -1.2M219.4 25.8l0.0 -1.2M222.1 25.8l0.0 -1.2M224.8 25.8l0.0 -1.2M227.5 25.8l0.0 -1.2M230.2 25.8l0.0 -1.2M232.9 25.8l0.0 -1.2M235.6 25.8l0.0 -1.2M238.3 25.8l0.0 -1.2M241.0 25.8l0.0 -1.2M243.7 25.8l0.0 -1.2M246.4 25.8l0.0 -1.2M249.1 25.8l0.0 -1.2M251.8 25.8l0.0 -1.2M254.5 25.8l0.0 -1.2M286.9 25.8l0.0 -1.2M289.6 25.8l0.0 -1.2M292.3 25.8l0.0 -1.2M295.0 25.8l0.0 -1.2M297.7 25.8l0.0 -1.2M300.4 25.8l0.0 -1.2M303.1 25.8l0.0 -1.2M305.8 25.8l0.0 -1.2M308.5 25.8l0.0 -1.2M311.2 25.8l0.0 -1.2M313.9 25.8l0.0 -1.2M316.6 25.8l0.0 -1.2M319.3 25.8l0.0 -1.2M322.0 25.8l0.0 -1.2M324.7 25.8l0.0 -1.2M327.4 25.8l0.0 -1.2M330.1 25.8l0.0 -1.2M332.8 25.8l0.0 -1.2M335.5 25.8l0.0 -1.2M203.2 28.4l0.0 -1.2M205.9 28.4l0.0 -1.2M208.6 28.4l0.0 -1.2M211.3 28.4l0.0 -1.2M214.0 28.4l0.0 -1.2M216.7 28.4l0.0 -1.2M219.4 28.4l0.0 -1.2M222.1 28.4l0.0 -1.2M224.8 28.4l0.0 -1.2M227.5 28.4l0.0 -1.2M230.2 28.4l0.0 -1.2M232.9 28.4l0.0 -1.2M235.6 28.4l0.0 -1.2M238.3 28.4l0.0 -1.2M241.0 28.4l0.0 -1.2M243.7 28.4l0.0 -1.2M246.4 28.4l0.0 -1.2M249.1 28.4l0.0 -1.2M251.8 28.4l0.0 -1.2M254.5 28.4l0.0 -1.2M257.2 28.4l0.0 -1.2M284.2 28.4l0.0 -1.2M286.9 28.4l0.0 -1.2M289.6 28.4l0.0 -1.2M292.3 28.4l0.0 -1.2M295.0 28.4l0.0 -1.2M297.7 28.4l0.0 -1.2M300.4 28.4l0.0 -1.2M303.1 28.4l0.0 -1.2M305.8 28.4l0.0 -1.2M308.5 28.4l0.0 -1.2M311.2 28.4l0.0 -1.2M313.9 28.4l0.0 -1.2M316.6 28.4l0.0 -1.2M319.3 28.4l0.0 -1.2M322.0 28.4l0.0 -1.2M324.7 28.4l0.0 -1.2M327.4 28.4l0.0 -1.2M330.1 28.4l0.0 -1.2M332.8 28.4l0.0 -1.2M335.5 28.4l0.0 -1.2M338.2 28.4l0.0 -1.2M203.2 30.9l0.0 -1.2M205.9 30.9l0.0 -1.2M208.6 30.9l0.0 -1.2M211.3 30.9l0.0 -1.2M214.0 30.9l0.0 -1.2M216.7 30.9l0.0 -1.2M219.4 30.9l0.0 -1.2M222.1 30.9l0.0 -1.2M224.8 30.9l0.0 -1.2M227.5 30.9l0.0 -1.2M230.2 30.9l0.0 -1.2M232.9 30.9l0.0 -1.2M235.6 30.9l0.0 -1.2M238.3 30.9l0.0 -1.2M241.0 30.9l0.0 -1.2M243.7 30.9l0.0 -1.2M246.4 30.9l0.0 -1.2M249.1 30.9l0.0 -1.2M251.8 30.9l0.0 -1.2M254.5 30.9l0.0 -1.2M257.2 30.9l0.0 -1.2M284.2 30.9l0.0 -1.2M286.9 30.9l0.0 -1.2M289.6 30.9l0.0 -1.2M292.3 30.9l0.0 -1.2M295.0 30.9l0.0 -1.2M297.7 30.9l0.0 -1.2M300.4 30.9l0.0 -1.2M303.1 30.9l0.0 -1.2M305.8 30.9l0.0 -1.2M308.5 30.9l0.0 -1.2M311.2 30.9l0.0 -1.2M313.9 30.9l0.0 -1.2M316.6 30.9l0.0 -1.2M319.3 30.9l0.0 -1.2M322.0 30.9l0.0 -1.2M324.7 30.9l0.0 -1.2M327.4 30.9l0.0 -1.2M330.1 30.9l0.0 -1.2M332.8 30.9l0.0 -1.2M335.5 30.9l0.0 -1.2M338.2 30.9l0.0 -1.2M200.5 33.5l0.0 -1.2M203.2 33.5l0.0 -1.2M205.9 33.5l0.0 -1.2M208.6 33.5l0.0 -1.2M211.3 33.5l0.0 -1.2M214.0 33.5l0.0 -1.2M216.7 33.5l0.0 -1.2M219.4 33.5l0.0 -1.2M222.1 33.5l0.0 -1.2M224.8 33.5l0.0 -1.2M227.5 33.5l0.0 -1.2M230.2 33.5l0.0 -1.2M232.9 33.5l0.0 -1.2M235.6 33.5l0.0 -1.2M238.3 33.5l0.0 -1.2M241.0 33.5l0.0 -1.2M243.7 33.5l0.0 -1.2M246.4 33.5l0.0 -1.2M249.1 33.5l0.0 -1.2M251.8 33.5l0.0 -1.2M254.5 33.5l0.0 -1.2M257.2 33.5l0.0 -1.2M284.2 33.5l0.0 -1.2M286.9 33.5l0.0 -1.2M289.6 33.5l0.0 -1.2M292.3 33.5l0.0 -1.2M295.0 33.5l0.0 -1.2M297.7 33.5l0.0 -1.2M300.4 33.5l0.0 -1.2M303.1 33.5l0.0 -1.2M305.8 33.5l0.0 -1.2M308.5 33.5l0.0 -1.2M311.2 33.5l0.0 -1.2M313.9 33.5l0.0 -1.2M316.6 33.5l0.0 -1.2M319.3 33.5l0.0 -1.2M322.0 33.5l0.0 -1.2M324.7 33.5l0.0 -1.2M327.4 33.5l0.0 -1.2M330.1 33.5l0.0 -1.2M332.8 33.5l0.0 -1.2M335.5 33.5l0.0 -1.2M338.2 33.5l0.0 -1.2M340.9 33.5l0.0 -1.2M200.5 36.0l0.0 -1.2M203.2 36.0l0.0 -1.2M205.9 36.0l0.0 -1.2M208.6 36.0l0.0 -1.2M211.3 36.0l0.0 -1.2M214.0 36.0l0.0 -1.2M216.7 36.0l0.0 -1.2M219.4 36.0l0.0 -1.2M222.1 36.0l0.0 -1.2M224.8 36.0l0.0 -1.2M227.5 36.0l0.0 -1.2M230.2 36.0l0.0 -1.2M232.9 36.0l0.0 -1.2M235.6 36.0l0.0 -1.2M238.3 36.0l0.0 -1.2M241.0 36.0l0.0 -1.2M243.7 36.0l0.0 -1.2M246.4 36.0l0.0 -1.2M249.1 36.0l0.0 -1.2M251.8 36.0l0.0 -1.2M254.5 36.0l0.0 -1.2M257.2 36.0l0.0 -1.2M284.2 36.0l0.0 -1.2M286.9 36.0l0.0 -1.2M289.6 36.0l0.0 -1.2M292.3 36.0l0.0 -1.2M295.0 36.0l0.0 -1.2M297.7 36.0l0.0 -1.2M300.4 36.0l0.0 -1.2M303.1 36.0l0.0 -1.2M305.8 36.0l0.0 -1.2M308.5 36.0l0.0 -1.2M311.2 36.0l0.0 -1.2M313.9 36.0l0.0 -1.2M316.6 36.0l0.0 -1.2M319.3 36.0l0.0 -1.2M322.0 36.0l0.0 -1.2M324.7 36.0l0.0 -1.2M327.4 36.0l0.0 -1.2M330.1 36.0l0.0 -1.2M332.8 36.0l0.0 -1.2M335.5 36.0l0.0 -1.2M338.2 36.0l0.0 -1.2M340.9 36.0l0.0 -1.2M200.5 38.5l0.0 -1.2M203.2 38.5l0.0 -1.2M205.9 38.5l0.0 -1.2M208.6 38.5l0.0 -1.2M211.3 38.5l0.0 -1.2M214.0 38.5l0.0 -1.2M216.7 38.5l0.0 -1.2M219.4 38.5l0.0 -1.2M222.1 38.5l0.0 -1.2M224.8 38.5l0.0 -1.2M227.5 38.5l0.0 -1.2M230.2 38.5l0.0 -1.2M232.9 38.5l0.0 -1.2M235.6 38.5l0.0 -1.2M238.3 38.5l0.0 -1.2M241.0 38.5l0.0 -1.2M243.7 38.5l0.0 -1.2M246.4 38.5l0.0 -1.2M249.1 38.5l0.0 -1.2M251.8 38.5l0.0 -1.2M254.5 38.5l0.0 -1.2M257.2 38.5l0.0 -1.2M284.2 38.5l0.0 -1.2M286.9 38.5l0.0 -1.2M289.6 38.5l0.0 -1.2M292.3 38.5l0.0 -1.2M295.0 38.5l0.0 -1.2M297.7 38.5l0.0 -1.2M300.4 38.5l0.0 -1.2M303.1 38.5l0.0 -1.2M305.8 38.5l0.0 -1.2M308.5 38.5l0.0 -1.2M311.2 38.5l0.0 -1.2M313.9 38.5l0.0 -1.2M316.6 38.5l0.0 -1.2M319.3 38.5l0.0 -1.2M322.0 38.5l0.0 -1.2M324.7 38.5l0.0 -1.2M327.4 38.5l0.0 -1.2M330.1 38.5l0.0 -1.2M332.8 38.5l0.0 -1.2M335.5 38.5l0.0 -1.2M338.2 38.5l0.0 -1.2M340.9 38.5l0.0 -1.2M200.5 41.1l0.0 -1.2M203.2 41.1l0.0 -1.2M205.9 41.1l0.0 -1.2M208.6 41.1l0.0 -1.2M211.3 41.1l0.0 -1.2M214.0 41.1l0.0 -1.2M216.7 41.1l0.0 -1.2M219.4 41.1l0.0 -1.2M222.1 41.1l0.0 -1.2M224.8 41.1l0.0 -1.2M227.5 41.1l0.0 -1.2M230.2 41.1l0.0 -1.2M232.9 41.1l0.0 -1.2M235.6 41.1l0.0 -1.2M238.3 41.1l0.0 -1.2M241.0 41.1l0.0 -1.2M243.7 41.1l0.0 -1.2M246.4 41.1l0.0 -1.2M249.1 41.1l0.0 -1.2M251.8 41.1l0.0 -1.2M254.5 41.1l0.0 -1.2M257.2 41.1l0.0 -1.2M284.2 41.1l0.0 -1.2M286.9 41.1l0.0 -1.2M289.6 41.1l0.0 -1.2M292.3 41.1l0.0 -1.2M295.0 41.1l0.0 -1.2M297.7 41.1l0.0 -1.2M300.4 41.1l0.0 -1.2M303.1 41.1l0.0 -1.2M305.8 41.1l0.0 -1.2M308.5 41.1l0.0 -1.2M311.2 41.1l0.0 -1.2M313.9 41.1l0.0 -1.2M316.6 41.1l0.0 -1.2M319.3 41.1l0.0 -1.2M322.0 41.1l0.0 -1.2M324.7 41.1l0.0 -1.2M327.4 41.1l0.0 -1.2M330.1 41.1l0.0 -1.2M332.8 41.1l0.0 -1.2M335.5 41.1l0.0 -1.2M338.2 41.1l0.0 -1.2M340.9 41.1l0.0 -1.2M200.5 43.6l0.0 -1.2M203.2 43.6l0.0 -1.2M205.9 43.6l0.0 -1.2M208.6 43.6l0.0 -1.2M211.3 43.6l0.0 -1.2M214.0 43.6l0.0 -1.2M216.7 43.6l0.0 -1.2M219.4 43.6l0.0 -1.2M222.1 43.6l0.0 -1.2M224.8 43.6l0.0 -1.2M227.5 43.6l0.0 -1.2M230.2 43.6l0.0 -1.2M232.9 43.6l0.0 -1.2M235.6 43.6l0.0 -1.2M238.3 43.6l0.0 -1.2M241.0 43.6l0.0 -1.2M243.7 43.6l0.0 -1.2M246.4 43.6l0.0 -1.2M249.1 43.6l0.0 -1.2M251.8 43.6l0.0 -1.2M254.5 43.6l0.0 -1.2M257.2 43.6l0.0 -1.2M284.2 43.6l0.0 -1.2M286.9 43.6l0.0 -1.2M289.6 43.6l0.0 -1.2M292.3 43.6l0.0 -1.2M295.0 43.6l0.0 -1.2M297.7 43.6l0.0 -1.2M300.4 43.6l0.0 -1.2M303.1 43.6l0.0 -1.2M305.8 43.6l0.0 -1.2M308.5 43.6l0.0 -1.2M311.2 43.6l0.0 -1.2M313.9 43.6l0.0 -1.2M316.6 43.6l0.0 -1.2M319.3 43.6l0.0 -1.2M322.0 43.6l0.0 -1.2M324.7 43.6l0.0 -1.2M327.4 43.6l0.0 -1.2M330.1 43.6l0.0 -1.2M332.8 43.6l0.0 -1.2M335.5 43.6l0.0 -1.2M338.2 43.6l0.0 -1.2M340.9 43.6l0.0 -1.2M200.5 46.2l0.0 -1.2M203.2 46.2l0.0 -1.2M205.9 46.2l0.0 -1.2M208.6 46.2l0.0 -1.2M211.3 46.2l0.0 -1.2M214.0 46.2l0.0 -1.2M216.7 46.2l0.0 -1.2M219.4 46.2l0.0 -1.2M222.1 46.2l0.0 -1.2M224.8 46.2l0.0 -1.2M227.5 46.2l0.0 -1.2M230.2 46.2l0.0 -1.2M232.9 46.2l0.0 -1.2M235.6 46.2l0.0 -1.2M238.3 46.2l0.0 -1.2M241.0 46.2l0.0 -1.2M243.7 46.2l0.0 -1.2M246.4 46.2l0.0 -1.2M249.1 46.2l0.0 -1.2M251.8 46.2l0.0 -1.2M254.5 46.2l0.0 -1.2M286.9 46.2l0.0 -1.2M289.6 46.2l0.0 -1.2M292.3 46.2l0.0 -1.2M295.0 46.2l0.0 -1.2M297.7 46.2l0.0 -1.2M300.4 46.2l0.0 -1.2M303.1 46.2l0.0 -1.2M305.8 46.2l0.0 -1.2M308.5 46.2l0.0 -1.2M311.2 46.2l0.0 -1.2M313.9 46.2l0.0 -1.2M316.6 46.2l0.0 -1.2M319.3 46.2l0.0 -1.2M322.0 46.2l0.0 -1.2M324.7 46.2l0.0 -1.2M327.4 46.2l0.0 -1.2M330.1 46.2l0.0 -1.2M332.8 46.2l0.0 -1.2M335.5 46.2l0.0 -1.2M338.2 46.2l0.0 -1.2M340.9 46.2l0.0 -1.2M203.2 48.7l0.0 -1.2M205.9 48.7l0.0 -1.2M208.6 48.7l0.0 -1.2M211.3 48.7l0.0 -1.2M214.0 48.7l0.0 -1.2M216.7 48.7l0.0 -1.2M219.4 48.7l0.0 -1.2M222.1 48.7l0.0 -1.2M224.8 48.7l0.0 -1.2M227.5 48.7l0.0 -1.2M230.2 48.7l0.0 -1.2M232.9 48.7l0.0 -1.2M235.6 48.7l0.0 -1.2M238.3 48.7l0.0 -1.2M241.0 48.7l0.0 -1.2M243.7 48.7l0.0 -1.2M246.4 48.7l0.0 -1.2M249.1 48.7l0.0 -1.2M251.8 48.7l0.0 -1.2M254.5 48.7l0.0 -1.2M286.9 48.7l0.0 -1.2M289.6 48.7l0.0 -1.2M292.3 48.7l0.0 -1.2M295.0 48.7l0.0 -1.2M297.7 48.7l0.0 -1.2M300.4 48.7l0.0 -1.2M303.1 48.7l0.0 -1.2M305.8 48.7l0.0 -1.2M308.5 48.7l0.0 -1.2M311.2 48.7l0.0 -1.2M313.9 48.7l0.0 -1.2M316.6 48.7l0.0 -1.2M319.3 48.7l0.0 -1.2M322.0 48.7l0.0 -1.2M324.7 48.7l0.0 -1.2M327.4 48.7l0.0 -1.2M330.1 48.7l0.0 -1.2M332.8 48.7l0.0 -1.2M335.5 48.7l0.0 -1.2M338.2 48.7l0.0 -1.2M203.2 51.3l0.0 -1.2M205.9 51.3l0.0 -1.2M208.6 51.3l0.0 -1.2M211.3 51.3l0.0 -1.2M214.0 51.3l0.0 -1.2M216.7 51.3l0.0 -1.2M219.4 51.3l0.0 -1.2M222.1 51.3l0.0 -1.2M224.8 51.3l0.0 -1.2M227.5 51.3l0.0 -1.2M230.2 51.3l0.0 -1.2M232.9 51.3l0.0 -1.2M235.6 51.3l0.0 -1.2M238.3 51.3l0.0 -1.2M241.0 51.3l0.0 -1.2M243.7 51.3l0.0 -1.2M246.4 51.3l0.0 -1.2M249.1 51.3l0.0 -1.2M251.8 51.3l0.0 -1.2M254.5 51.3l0.0 -1.2M286.9 51.3l0.0 -1.2M289.6 51.3l0.0 -1.2M292.3 51.3l0.0 -1.2M295.0 51.3l0.0 -1.2M297.7 51.3l0.0 -1.2M300.4 51.3l0.0 -1.2M303.1 51.3l0.0 -1.2M305.8 51.3l0.0 -1.2M308.5 51.3l0.0 -1.2M311.2 51.3l0.0 -1.2M313.9 51.3l0.0 -1.2M316.6 51.3l0.0 -1.2M319.3 51.3l0.0 -1.2M322.0 51.3l0.0 -1.2M324.7 51.3l0.0 -1.2M327.4 51.3l0.0 -1.2M330.1 51.3l0.0 -1.2M332.8 51.3l0.0 -1.2M335.5 51.3l0.0 -1.2M338.2 51.3l0.0 -1.2M205.9 53.8l0.0 -1.2M208.6 53.8l0.0 -1.2M211.3 53.8l0.0 -1.2M214.0 53.8l0.0 -1.2M216.7 53.8l0.0 -1.2M219.4 53.8l0.0 -1.2M222.1 53.8l0.0 -1.2M224.8 53.8l0.0 -1.2M227.5 53.8l0.0 -1.2M230.2 53.8l0.0 -1.2M232.9 53.8l0.0 -1.2M235.6 53.8l0.0 -1.2M238.3 53.8l0.0 -1.2M241.0 53.8l0.0 -1.2M243.7 53.8l0.0 -1.2M246.4 53.8l0.0 -1.2M249.1 53.8l0.0 -1.2M251.8 53.8l0.0 -1.2M254.5 53.8l0.0 -1.2M286.9 53.8l0.0 -1.2M289.6 53.8l0.0 -1.2M292.3 53.8l0.0 -1.2M295.0 53.8l0.0 -1.2M297.7 53.8l0.0 -1.2M300.4 53.8l0.0 -1.2M303.1 53.8l0.0 -1.2M305.8 53.8l0.0 -1.2M308.5 53.8l0.0 -1.2M311.2 53.8l0.0 -1.2M313.9 53.8l0.0 -1.2M316.6 53.8l0.0 -1.2M319.3 53.8l0.0 -1.2M322.0 53.8l0.0 -1.2M324.7 53.8l0.0 -1.2M327.4 53.8l0.0 -1.2M330.1 53.8l0.0 -1.2M332.8 53.8l0.0 -1.2M335.5 53.8l0.0 -1.2M205.9 56.4l0.0 -1.2M208.6 56.4l0.0 -1.2M211.3 56.4l0.0 -1.2M214.0 56.4l0.0 -1.2M216.7 56.4l0.0 -1.2M219.4 56.4l0.0 -1.2M222.1 56.4l0.0 -1.2M224.8 56.4l0.0 -1.2M227.5 56.4l0.0 -1.2M230.2 56.4l0.0 -1.2M232.9 56.4l0.0 -1.2M235.6 56.4l0.0 -1.2M238.3 56.4l0.0 -1.2M241.0 56.4l0.0 -1.2M243.7 56.4l0.0 -1.2M246.4 56.4l0.0 -1.2M249.1 56.4l0.0 -1.2M251.8 56.4l0.0 -1.2M254.5 56.4l0.0 -1.2M286.9 56.4l0.0 -1.2M289.6 56.4l0.0 -1.2M292.3 56.4l0.0 -1.2M295.0 56.4l0.0 -1.2M297.7 56.4l0.0 -1.2M300.4 56.4l0.0 -1.2M303.1 56.4l0.0 -1.2M305.8 56.4l0.0 -1.2M308.5 56.4l0.0 -1.2M311.2 56.4l0.0 -1.2M313.9 56.4l0.0 -1.2M316.6 56.4l0.0 -1.2M319.3 56.4l0.0 -1.2M322.0 56.4l0.0 -1.2M324.7 56.4l0.0 -1.2M327.4 56.4l0.0 -1.2M330.1 56.4l0.0 -1.2M332.8 56.4l0.0 -1.2M335.5 56.4l0.0 -1.2M205.9 58.9l0.0 -1.2M208.6 58.9l0.0 -1.2M211.3 58.9l0.0 -1.2M214.0 58.9l0.0 -1.2M216.7 58.9l0.0 -1.2M219.4 58.9l0.0 -1.2M222.1 58.9l0.0 -1.2M224.8 58.9l0.0 -1.2M227.5 58.9l0.0 -1.2M230.2 58.9l0.0 -1.2M232.9 58.9l0.0 -1.2M235.6 58.9l0.0 -1.2M238.3 58.9l0.0 -1.2M241.0 58.9l0.0 -1.2M243.7 58.9l0.0 -1.2M246.4 58.9l0.0 -1.2M249.1 58.9l0.0 -1.2M251.8 58.9l0.0 -1.2M254.5 58.9l0.0 -1.2M286.9 58.9l0.0 -1.2M289.6 58.9l0.0 -1.2M292.3 58.9l0.0 -1.2M295.0 58.9l0.0 -1.2M297.7 58.9l0.0 -1.2M300.4 58.9l0.0 -1.2M303.1 58.9l0.0 -1.2M305.8 58.9l0.0 -1.2M308.5 58.9l0.0 -1.2M311.2 58.9l0.0 -1.2M313.9 58.9l0.0 -1.2M316.6 58.9l0.0 -1.2M319.3 58.9l0.0 -1.2M322.0 58.9l0.0 -1.2M324.7 58.9l0.0 -1.2M327.4 58.9l0.0 -1.2M330.1 58.9l0.0 -1.2M332.8 58.9l0.0 -1.2M335.5 58.9l0.0 -1.2M205.9 61.5l0.0 -1.2M208.6 61.5l0.0 -1.2M211.3 61.5l0.0 -1.2M214.0 61.5l0.0 -1.2M216.7 61.5l0.0 -1.2M219.4 61.5l0.0 -1.2M222.1 61.5l0.0 -1.2M224.8 61.5l0.0 -1.2M227.5 61.5l0.0 -1.2M230.2 61.5l0.0 -1.2M232.9 61.5l0.0 -1.2M235.6 61.5l0.0 -1.2M238.3 61.5l0.0 -1.2M241.0 61.5l0.0 -1.2M243.7 61.5l0.0 -1.2M246.4 61.5l0.0 -1.2M249.1 61.5l0.0 -1.2M251.8 61.5l0.0 -1.2M254.5 61.5l0.0 -1.2M257.2 61.5l0.0 -1.2M284.2 61.5l0.0 -1.2M286.9 61.5l0.0 -1.2M289.6 61.5l0.0 -1.2M292.3 61.5l0.0 -1.2M295.0 61.5l0.0 -1.2M297.7 61.5l0.0 -1.2M300.4 61.5l0.0 -1.2M303.1 61.5l0.0 -1.2M305.8 61.5l0.0 -1.2M308.5 61.5l0.0 -1.2M311.2 61.5l0.0 -1.2M313.9 61.5l0.0 -1.2M316.6 61.5l0.0 -1.2M319.3 61.5l0.0 -1.2M322.0 61.5l0.0 -1.2M324.7 61.5l0.0 -1.2M327.4 61.5l0.0 -1.2M330.1 61.5l0.0 -1.2M332.8 61.5l0.0 -1.2M335.5 61.5l0.0 -1.2M205.9 64.0l0.0 -1.2M208.6 64.0l0.0 -1.2M211.3 64.0l0.0 -1.2M214.0 64.0l0.0 -1.2M216.7 64.0l0.0 -1.2M219.4 64.0l0.0 -1.2M222.1 64.0l0.0 -1.2M224.8 64.0l0.0 -1.2M227.5 64.0l0.0 -1.2M230.2 64.0l0.0 -1.2M232.9 64.0l0.0 -1.2M235.6 64.0l0.0 -1.2M238.3 64.0l0.0 -1.2M241.0 64.0l0.0 -1.2M243.7 64.0l0.0 -1.2M246.4 64.0l0.0 -1.2M249.1 64.0l0.0 -1.2M251.8 64.0l0.0 -1.2M254.5 64.0l0.0 -1.2M257.2 64.0l0.0 -1.2M284.2 64.0l0.0 -1.2M286.9 64.0l0.0 -1.2M289.6 64.0l0.0 -1.2M292.3 64.0l0.0 -1.2M295.0 64.0l0.0 -1.2M297.7 64.0l0.0 -1.2M300.4 64.0l0.0 -1.2M303.1 64.0l0.0 -1.2M305.8 64.0l0.0 -1.2M308.5 64.0l0.0 -1.2M311.2 64.0l0.0 -1.2M313.9 64.0l0.0 -1.2M316.6 64.0l0.0 -1.2M319.3 64.0l0.0 -1.2M322.0 64.0l0.0 -1.2M324.7 64.0l0.0 -1.2M327.4 64.0l0.0 -1.2M330.1 64.0l0.0 -1.2M332.8 64.0l0.0 -1.2M335.5 64.0l0.0 -1.2M205.9 66.6l0.0 -1.2M208.6 66.6l0.0 -1.2M211.3 66.6l0.0 -1.2M214.0 66.6l0.0 -1.2M216.7 66.6l0.0 -1.2M219.4 66.6l0.0 -1.2M222.1 66.6l0.0 -1.2M224.8 66.6l0.0 -1.2M227.5 66.6l0.0 -1.2M230.2 66.6l0.0 -1.2M232.9 66.6l0.0 -1.2M235.6 66.6l0.0 -1.2M238.3 66.6l0.0 -1.2M241.0 66.6l0.0 -1.2M243.7 66.6l0.0 -1.2M246.4 66.6l0.0 -1.2M249.1 66.6l0.0 -1.2M251.8 66.6l0.0 -1.2M254.5 66.6l0.0 -1.2M257.2 66.6l0.0 -1.2M284.2 66.6l0.0 -1.2M286.9 66.6l0.0 -1.2M289.6 66.6l0.0 -1.2M292.3 66.6l0.0 -1.2M295.0 66.6l0.0 -1.2M297.7 66.6l0.0 -1.2M300.4 66.6l0.0 -1.2M303.1 66.6l0.0 -1.2M305.8 66.6l0.0 -1.2M308.5 66.6l0.0 -1.2M311.2 66.6l0.0 -1.2M313.9 66.6l0.0 -1.2M316.6 66.6l0.0 -1.2M319.3 66.6l0.0 -1.2M322.0 66.6l0.0 -1.2M324.7 66.6l0.0 -1.2M327.4 66.6l0.0 -1.2M330.1 66.6l0.0 -1.2M332.8 66.6l0.0 -1.2M335.5 66.6l0.0 -1.2M211.3 69.1l0.0 -1.2M214.0 69.1l0.0 -1.2M216.7 69.1l0.0 -1.2M219.4 69.1l0.0 -1.2M222.1 69.1l0.0 -1.2M224.8 69.1l0.0 -1.2M227.5 69.1l0.0 -1.2M230.2 69.1l0.0 -1.2M232.9 69.1l0.0 -1.2M235.6 69.1l0.0 -1.2M238.3 69.1l0.0 -1.2M241.0 69.1l0.0 -1.2M243.7 69.1l0.0 -1.2M246.4 69.1l0.0 -1.2M249.1 69.1l0.0 -1.2M251.8 69.1l0.0 -1.2M254.5 69.1l0.0 -1.2M257.2 69.1l0.0 -1.2M284.2 69.1l0.0 -1.2M286.9 69.1l0.0 -1.2M289.6 69.1l0.0 -1.2M292.3 69.1l0.0 -1.2M295.0 69.1l0.0 -1.2M297.7 69.1l0.0 -1.2M300.4 69.1l0.0 -1.2M303.1 69.1l0.0 -1.2M305.8 69.1l0.0 -1.2M308.5 69.1l0.0 -1.2M311.2 69.1l0.0 -1.2M313.9 69.1l0.0 -1.2M316.6 69.1l0.0 -1.2M319.3 69.1l0.0 -1.2M322.0 69.1l0.0 -1.2M324.7 69.1l0.0 -1.2M327.4 69.1l0.0 -1.2M330.1 69.1l0.0 -1.2M230.2 71.7l0.0 -1.2M232.9 71.7l0.0 -1.2M235.6 71.7l0.0 -1.2M238.3 71.7l0.0 -1.2M241.0 71.7l0.0 -1.2M243.7 71.7l0.0 -1.2M246.4 71.7l0.0 -1.2M249.1 71.7l0.0 -1.2M251.8 71.7l0.0 -1.2M254.5 71.7l0.0 -1.2M286.9 71.7l0.0 -1.2M289.6 71.7l0.0 -1.2M292.3 71.7l0.0 -1.2M295.0 71.7l0.0 -1.2M297.7 71.7l0.0 -1.2M300.4 71.7l0.0 -1.2M303.1 71.7l0.0 -1.2M305.8 71.7l0.0 -1.2M308.5 71.7l0.0 -1.2M311.2 71.7l0.0 -1.2"/>
<path stroke="#00e0d0" stroke-opacity=".1" stroke-width="1.0" d="M226.8 16.5l-1.1 0.0M255.9 34.1l0.1 -1.1M230.9 19.0l-1.2 0.0M228.2 19.0l-1.2 0.0M225.5 19.0l-1.1 0.0M222.8 19.0l-1.1 0.0M253.1 34.2l-0.2 -1.2M252.6 31.6l-0.3 -1.2M251.9 29.0l-0.5 -1.1M241.5 21.5l-1.2 -0.1M238.8 21.4l-1.2 -0.0M314.7 16.5l1.1 0.0M285.6 34.1l-0.1 -1.1M310.6 19.0l1.2 0.0M313.3 19.0l1.2 0.0M316.0 19.0l1.1 -0.0M318.7 19.0l1.1 0.0M288.4 34.2l0.2 -1.2M288.9 31.6l0.3 -1.2M289.6 29.0l0.5 -1.1M300.0 21.5l1.2 -0.1M302.7 21.4l1.2 -0.0"/>
<path stroke="#00e0d0" stroke-opacity=".1" stroke-width="1.2" d="M258.2 51.5l0.4 0.8M280.6 50.8l-0.3 0.8"/>
<path stroke="#00e0e0" stroke-opacity=".1" stroke-width="1.0" d="M236.1 21.4l-1.2 0.0M233.4 21.4l-1.2 0.0M219.9 21.5l-1.1 0.0M305.4 21.4l1.2 0.0M308.1 21.4l1.2 0.0M321.6 21.5l1.1 0.0"/>
<path stroke="#00e0f0" stroke-opacity=".1" stroke-width="1.0" d="M255.8 36.8l0.0 -1.1M230.7 21.5l-1.2 0.0M228.0 21.5l-1.2 0.0M225.3 21.5l-1.1 0.0M222.6 21.5l-1.1 0.0M285.6 36.8l-0.0 -1.1M310.8 21.5l1.2 0.0M313.5 21.5l1.2 0.0M316.2 21.5l1.1 0.0M318.9 21.5l1.1 0.0"/>
<path stroke="#00e050" stroke-opacity=".2" stroke-width="1.0" d="M261.0 27.8l0.0 -1.4M280.5 27.8l-0.0 -1.4"/>
<path stroke="#00e060" stroke-opacity=".2" stroke-width="1.0" d="M261.0 30.5l0.0 -1.3M280.5 30.5l-0.0 -1.3"/>
<path stroke="#00e070" stroke-opacity=".2" stroke-width="1.0" d="M238.7 14.0l-1.5 0.0M302.8 14.0l1.5 0.0"/>
<path stroke="#00e080" stroke-opacity=".2" stroke-width="1.0" d="M258.4 26.9l-0.2 -1.4M258.0 24.2l-0.4 -1.4M283.1 26.9l0.2 -1.4M283.5 24.2l0.4 -1.4"/>
<path stroke="#00e090" stroke-opacity=".2" stroke-width="1.0" d="M236.0 14.0l-1.4 0.0M258.5 29.6l-0.0 -1.3M245.7 16.4l-1.4 0.0M305.5 14.0l1.4 0.0M283.0 29.6l0.0 -1.3M295.8 16.4l1.4 0.0"/>
<path stroke="#00e090" stroke-opacity=".2" stroke-width="1.1" d="M268.2 65.5l0.0 -1.2M273.2 65.5l0.0 -1.2M225.4 14.0l-1.4 -0.0M316.1 14.0l1.4 -0.0"/>
<path stroke="#00e0a0" stroke-opacity=".2" stroke-width="1.0" d="M243.0 16.4l-1.4 0.0M240.3 16.5l-1.4 0.0M253.6 23.7l-0.8 -1.1M251.9 21.7l-1.0 -0.8M249.7 20.1l-1.2 -0.6M298.5 16.4l1.4 0.0M301.2 16.5l1.4 0.0M287.9 23.7l0.8 -1.1M289.6 21.7l1.0 -0.8M291.8 20.1l1.2 -0.6"/>
<path stroke="#00e0b0" stroke-opacity=".2" stroke-width="1.0" d="M237.6 16.5l-1.4 0.0M234.9 16.5l-1.3 0.0M255.9 31.4l-0.2 -1.2M255.5 28.7l-0.3 -1.3M254.9 26.1l-0.5 -1.2M247.1 19.2l-1.3 -0.2M244.4 19.0l-1.3 -0.1M303.9 16.5l1.4 0.0M306.6 16.5l1.3 0.0M285.6 31.4l0.2 -1.2M286.0 28.7l0.3 -1.3M286.6 26.1l0.5 -1.2M294.4 19.2l1.3 -0.2M297.1 19.0l1.3 -0.1"/>
<path stroke="#00e0c0" stroke-opacity=".2" stroke-width="1.0" d="M241.7 18.9l-1.3 0.0M239.0 18.9l-1.3 0.0M299.8 18.9l1.3 0.0M302.5 18.9l1.3 0.0"/>
<path stroke="#00e0d0" stroke-opacity=".2" stroke-width="1.0" d="M236.3 18.9l-1.3 0.0M233.6 19.0l-1.3 0.0M305.2 18.9l1.3 0.0M307.9 19.0l1.3 0.0M210.0 37.0l1.6 0.8M239.0 46.0l1.6 0.8M305.0 48.0l1.6 0.8M322.0 33.0l1.6 0.8M330.0 54.0l1.6 0.8M224.0 26.0l1.6 0.8"/>
<path stroke="#30e000" stroke-opacity=".2" stroke-width="0.9" d="M263.2 45.8l-0.1 -1.4M278.3 45.8l0.1 -1.4"/>
<path stroke="#50e000" stroke-opacity=".2" stroke-width="1.1" d="M257.8 14.2l-1.1 -0.2M283.8 14.2l1.1 -0.2"/>
<path stroke="#00e020" stroke-opacity=".3" stroke-width="1.0" d="M257.3 15.5l-1.4 -0.9M254.9 14.2l-1.6 -0.2M252.2 14.0l-1.6 -0.0M284.2 15.5l1.4 -0.9M286.6 14.2l1.6 -0.2M289.3 14.0l1.6 -0.0"/>
<path stroke="#00e030" stroke-opacity=".3" stroke-width="1.0" d="M259.2 17.4l-1.1 -1.2M249.5 13.9l-1.6 0.0M282.3 17.4l1.1 -1.2M292.0 13.9l1.6 0.0"/>
<path stroke="#00e040" stroke-opacity=".3" stroke-width="1.0" d="M261.0 25.1l-0.0 -1.4M260.9 22.4l-0.2 -1.5M260.4 19.8l-0.7 -1.4M246.8 13.9l-1.6 0.0M280.5 25.1l0.0 -1.4M280.6 22.4l0.2 -1.5M281.1 19.8l0.7 -1.4M294.7 13.9l1.6 0.0"/>
<path stroke="#00e040" stroke-opacity=".3" stroke-width="1.1" d="M266.9 61.3l-0.1 -1.5M274.6 61.3l0.1 -1.5"/>
<path stroke="#00e050" stroke-opacity=".3" stroke-width="1.0" d="M244.1 14.0l-1.5 0.0M297.4 14.0l1.5 0.0"/>
<path stroke="#00e060" stroke-opacity=".3" stroke-width="1.0" d="M241.4 14.0l-1.5 0.0M300.1 14.0l1.5 0.0"/>
<path stroke="#00e070" stroke-opacity=".3" stroke-width="1.0" d="M255.6 19.5l-1.1 -1.0M253.5 17.8l-1.3 -0.7M285.9 19.5l1.1 -1.0M288.0 17.8l1.3 -0.7"/>
<path stroke="#00e080" stroke-opacity=".3" stroke-width="1.0" d="M257.2 21.7l-0.8 -1.2M251.1 16.7l-1.5 -0.2M284.3 21.7l0.8 -1.2M290.4 16.7l1.5 -0.2"/>
<path stroke="#00e080" stroke-opacity=".3" stroke-width="1.1" d="M228.1 14.0l-1.6 0.0M313.4 14.0l1.6 0.0"/>
<path stroke="#00e090" stroke-opacity=".3" stroke-width="1.0" d="M248.4 16.5l-1.5 -0.0M293.1 16.5l1.5 -0.0"/>
<path stroke="#30e000" stroke-opacity=".3" stroke-width="0.9" d="M263.1 43.1l-0.0 -1.5M263.0 40.4l-0.1 -1.6M278.4 43.1l0.0 -1.5M278.5 40.4l0.1 -1.6"/>
<path stroke="#00e010" stroke-opacity=".4" stroke-width="0.9" d="M261.2 21.6l-0.4 -1.8M280.3 21.6l0.4 -1.8"/>
<path stroke="#00e030" stroke-opacity=".4" stroke-width="1.3" d="M267.2 60.3l-0.1 1.9M269.8 60.3l0.0 1.9M272.1 60.3l0.1 1.9M264.9 60.3l-0.1 1.9"/>
<path stroke="#00e040" stroke-opacity=".4" stroke-width="1.1" d="M236.2 13.9l-1.9 0.0M305.3 13.9l1.9 0.0"/>
<path stroke="#00e050" stroke-opacity=".4" stroke-width="1.1" d="M233.5 14.0l-1.8 0.0M308.0 14.0l1.8 0.0"/>
<path stroke="#00e060" stroke-opacity=".4" stroke-width="0.9" d="M260.0 16.4l-0.6 -1.8M281.5 16.4l0.6 -1.8"/>
<path stroke="#00e070" stroke-opacity=".4" stroke-width="0.9" d="M259.2 13.8l-0.4 -1.2M282.3 13.8l0.4 -1.2"/>
<path stroke="#00e070" stroke-opacity=".4" stroke-width="1.1" d="M230.8 14.0l-1.7 0.0M310.7 14.0l1.7 0.0"/>
<path stroke="#00e0d0" stroke-opacity=".4" stroke-width="1.2" d="M260.0 55.5l0.6 1.4M260.9 57.5l0.4 1.0M278.9 54.8l-0.6 1.3M278.0 56.8l-0.2 0.4"/>
<path stroke="#10e000" stroke-opacity=".4" stroke-width="0.9" d="M261.7 24.3l-0.3 -1.8M279.8 24.3l0.3 -1.8"/>
<path stroke="#30e000" stroke-opacity=".4" stroke-width="0.9" d="M262.9 37.7l-0.1 -1.7M262.7 35.0l-0.1 -1.8M262.5 32.3l-0.2 -1.8M262.3 29.7l-0.2 -1.8M278.6 37.7l0.1 -1.7M278.8 35.0l0.1 -1.8M279.0 32.3l0.2 -1.8M279.2 29.7l0.2 -1.8"/>
<path stroke="#30e000" stroke-opacity=".4" stroke-width="1.3" d="M265.1 46.8l0.0 1.3"/>
<path stroke="#e0b000" stroke-opacity=".4" stroke-width="1.3" d="M267.4 46.8l0.0 1.3"/>
<path stroke="#e0e000" stroke-opacity=".4" stroke-width="1.3" d="M271.9 46.8l0.0 1.3"/>
<path stroke="#f09010" stroke-opacity=".4" stroke-width="1.3" d="M269.8 46.8l0.0 1.3"/>
<path stroke="#00e000" stroke-opacity=".5" stroke-width="1.1" d="M241.6 13.9l-2.0 0.0M299.9 13.9l2.0 0.0"/>
<path stroke="#00e010" stroke-opacity=".5" stroke-width="1.1" d="M268.2 62.8l0.0 -1.8M273.2 62.8l0.0 -1.8"/>
<path stroke="#00e020" stroke-opacity=".5" stroke-width="1.1" d="M270.8 63.3l0.0 -1.7M238.9 13.9l-1.9 0.0M302.6 13.9l1.9 0.0"/>
<path stroke="#00e040" stroke-opacity=".5" stroke-width="0.9" d="M260.7 19.0l-0.4 -1.8M280.8 19.0l0.4 -1.8"/>
<path stroke="#00e0d0" stroke-opacity=".5" stroke-width="1.2" d="M259.2 53.5l0.6 1.4M279.8 52.8l-0.6 1.4"/>
<path stroke="#10e000" stroke-opacity=".5" stroke-width="1.1" d="M244.3 13.9l-2.1 0.0M297.2 13.9l2.1 0.0"/>
<path stroke="#30e000" stroke-opacity=".5" stroke-width="0.9" d="M262.0 27.0l-0.2 -1.8M279.5 27.0l0.2 -1.8"/>
<path stroke="#30e000" stroke-opacity=".5" stroke-width="1.1" d="M266.6 58.6l-0.2 -1.9M274.9 58.6l0.2 -1.9"/>
<path stroke="#00e000" stroke-opacity=".6" stroke-width="1.3" d="M265.1 57.6l-0.1 2.3"/>
<path stroke="#30e000" stroke-opacity=".6" stroke-width="1.1" d="M247.0 13.9l-2.1 -0.0M294.5 13.9l2.1 -0.0"/>
<path stroke="#30e000" stroke-opacity=".6" stroke-width="1.3" d="M272.0 57.6l0.1 2.3"/>
<path stroke="#40e000" stroke-opacity=".6" stroke-width="1.1" d="M249.7 13.9l-2.2 0.0M291.8 13.9l2.2 0.0"/>
<path stroke="#40e000" stroke-opacity=".6" stroke-width="1.3" d="M267.3 57.6l-0.1 2.3"/>
<path stroke="#50e000" stroke-opacity=".6" stroke-width="1.1" d="M252.4 13.9l-2.2 0.0M289.1 13.9l2.2 0.0"/>
<path stroke="#60e000" stroke-opacity=".6" stroke-width="1.1" d="M255.1 13.9l-2.2 -0.0M286.4 13.9l2.2 -0.0"/>
<path stroke="#60e000" stroke-opacity=".6" stroke-width="1.3" d="M269.8 57.6l0.0 2.3"/>
<path stroke="#70d000" stroke-opacity=".6" stroke-width="1.1" d="M266.4 55.9l-0.2 -2.1M275.1 55.9l0.2 -2.1"/>
<path stroke="#60d000" stroke-opacity=".7" stroke-width="1.1" d="M270.8 60.6l0.0 -2.3"/>
<path stroke="#90d000" stroke-opacity=".7" stroke-width="1.1" d="M266.1 53.2l-0.2 -2.3M275.4 53.2l0.2 -2.3"/>
<path stroke="#00e000" stroke-opacity=".8" stroke-width="1.1" d="M263.9 18.2l-0.5 -2.5M277.6 18.2l0.5 -2.5"/>
<path stroke="#00e000" stroke-opacity=".8" stroke-width="1.3" d="M265.2 54.9l-0.1 2.6"/>
<path stroke="#00e030" stroke-opacity=".8" stroke-width="1.1" d="M263.4 15.6l-0.6 -2.5M278.1 15.6l0.6 -2.5"/>
<path stroke="#00e040" stroke-opacity=".8" stroke-width="1.1" d="M262.8 12.9l-0.1 -0.3M278.7 12.9l0.1 -0.3"/>
<path stroke="#40e000" stroke-opacity=".8" stroke-width="1.1" d="M264.3 20.9l-0.4 -2.5M277.2 20.9l0.4 -2.5"/>
<path stroke="#70d000" stroke-opacity=".8" stroke-width="1.1" d="M268.2 60.1l0.0 -2.3M264.6 23.6l-0.3 -2.5M273.2 60.1l0.0 -2.3M276.9 23.6l0.3 -2.5"/>
<path stroke="#80d000" stroke-opacity=".8" stroke-width="1.3" d="M271.9 54.9l0.0 2.6"/>
<path stroke="#a0d000" stroke-opacity=".8" stroke-width="1.1" d="M265.9 50.5l-0.2 -2.4M264.8 26.3l-0.2 -2.5M275.6 50.5l0.2 -2.4M276.7 26.3l0.2 -2.5"/>
<path stroke="#b0d000" stroke-opacity=".8" stroke-width="1.1" d="M265.8 47.9l-0.1 -2.5M265.6 45.2l-0.0 -2.5M265.6 42.5l-0.1 -2.5M265.5 39.8l-0.1 -2.5M265.4 37.1l-0.1 -2.5M265.3 34.4l-0.1 -2.5M265.2 31.7l-0.2 -2.5M265.0 29.0l-0.2 -2.5M275.7 47.9l0.1 -2.5M275.9 45.2l0.0 -2.5M275.9 42.5l0.1 -2.5M276.0 39.8l0.1 -2.5M276.1 37.1l0.1 -2.5M276.2 34.4l0.1 -2.5M276.3 31.7l0.2 -2.5M276.5 29.0l0.2 -2.5"/>
<path stroke="#b0d000" stroke-opacity=".8" stroke-width="1.3" d="M267.4 54.9l-0.0 2.6"/>
<path stroke="#e0e000" stroke-opacity=".8" stroke-width="1.3" d="M269.8 54.9l0.0 2.6"/>
<path stroke="#10e000" stroke-opacity=".9" stroke-width="1.3" d="M265.2 52.2l-0.0 2.7"/>
<path stroke="#20e000" stroke-opacity=".9" stroke-width="1.3" d="M265.1 49.5l0.0 2.7"/>
<path stroke="#b0d000" stroke-opacity=".9" stroke-width="1.3" d="M271.9 52.2l0.0 2.7"/>
<path stroke="#c0d000" stroke-opacity=".9" stroke-width="1.1" d="M270.8 57.9l0.0 -2.6"/>
<path stroke="#d0e000" stroke-opacity=".9" stroke-width="1.1" d="M268.2 57.4l0.0 -2.7M273.2 57.4l-0.0 -2.7"/>
<path stroke="#d0e000" stroke-opacity=".9" stroke-width="1.3" d="M271.9 49.5l-0.0 2.7"/>
<path stroke="#e09000" stroke-opacity=".9" stroke-width="1.3" d="M269.8 49.5l0.0 2.7"/>
<path stroke="#e0a000" stroke-opacity=".9" stroke-width="1.3" d="M269.8 52.2l0.0 2.7"/>
<path stroke="#e0c000" stroke-opacity=".9" stroke-width="1.3" d="M267.4 49.5l0.0 2.7"/>
<path stroke="#e0e000" stroke-opacity=".9" stroke-width="1.3" d="M267.4 52.2l-0.0 2.7"/>
<path stroke="#60e000" stroke-width="1.1" d="M266.8 14.2l-0.2 -1.6M274.7 14.2l0.2 -1.6"/>
<path stroke="#70d000" stroke-width="1.1" d="M267.1 16.9l-0.3 -2.8M274.4 16.9l0.3 -2.8"/>
<path stroke="#a0d000" stroke-width="1.1" d="M267.4 19.6l-0.2 -2.8M274.1 19.6l0.2 -2.8"/>
<path stroke="#b0d000" stroke-width="1.1" d="M270.8 14.7l0.0 -2.1"/>
<path stroke="#d0e000" stroke-width="1.1" d="M270.8 17.4l0.0 -2.8"/>
<path stroke="#e09000" stroke-width="1.1" d="M270.8 52.5l0.0 -2.8M268.2 49.3l-0.1 -2.8M268.2 46.6l-0.0 -2.8M268.1 43.9l-0.0 -2.8M268.1 41.2l-0.0 -2.8M268.1 38.5l-0.0 -2.8M268.0 35.8l-0.1 -2.8M268.0 33.1l-0.1 -2.8M267.9 30.4l-0.1 -2.8M267.8 27.7l-0.1 -2.8M273.3 49.3l0.1 -2.8M273.3 46.6l0.0 -2.8M273.4 43.9l0.0 -2.8M273.4 41.2l0.0 -2.8M273.4 38.5l0.0 -2.8M273.5 35.8l0.1 -2.8M273.5 33.1l0.1 -2.8M273.6 30.4l0.1 -2.8M273.7 27.7l0.1 -2.8"/>
<path stroke="#e0a000" stroke-width="1.1" d="M268.3 52.0l-0.0 -2.8M273.2 52.0l0.0 -2.8"/>
<path stroke="#e0b000" stroke-width="1.1" d="M267.7 25.0l-0.2 -2.8M273.8 25.0l0.2 -2.8"/>
<path stroke="#e0c000" stroke-width="1.1" d="M270.8 55.2l0.0 -2.8M270.8 20.1l0.0 -2.8M268.3 54.7l-0.0 -2.8M273.2 54.7l0.0 -2.8"/>
<path stroke="#e0e000" stroke-width="1.1" d="M267.5 22.3l-0.2 -2.8M274.0 22.3l0.2 -2.8"/>
<path stroke="#f04010" stroke-width="1.1" d="M270.8 44.4l0.0 -2.8M270.8 41.7l0.0 -2.8M270.8 39.0l0.0 -2.8M270.8 36.3l0.0 -2.8M270.8 33.6l0.0 -2.8M270.8 30.9l0.0 -2.8"/>
<path stroke="#f05010" stroke-width="1.1" d="M270.8 47.1l0.0 -2.8M270.8 28.2l0.0 -2.8"/>
<path stroke="#f06010" stroke-width="1.1" d="M270.8 25.5l0.0 -2.8"/>
<path stroke="#f07010" stroke-width="1.1" d="M270.8 49.8l0.0 -2.8"/>
<path stroke="#f0a010" stroke-width="1.1" d="M270.8 22.8l0.0 -2.8"/>
</g>
<g fill="none" stroke-linecap="round" filter="url(#soft)">
<path stroke="#00e0d0" stroke-opacity=".5" stroke-width="1.0" d="M344.6 61.5l2.6 1.4"/>
</g>
<rect x="196.5" y="80.5" width="147.1" height="11.5" fill="url(#jet)"/>
</g>
<g id="panel3">
<rect x="388.0" y="13.0" width="144.5" height="60.8" fill="none" stroke="#dbd8d5" stroke-width="1"/>
<g fill="none" stroke-linecap="round" filter="url(#soft)">
<path stroke="#00d0ff" stroke-opacity=".1" stroke-width="0.95" d="M475.3 27.2l-1.3 0.0M472.6 27.2l-1.2 0.0M469.9 27.2l-1.2 0.0"/>
<path stroke="#00e040" stroke-opacity=".1" stroke-width="1.0" d="M516.3 46.6l-0.0 1.1M519.2 46.8l-0.0 1.1M522.2 46.9l-0.0 1.1M525.2 47.1l-0.0 1.1"/>
<path stroke="#00e050" stroke-opacity=".1" stroke-width="1.0" d="M513.2 49.1l-0.2 1.1M516.1 49.3l-0.1 1.2M519.1 49.5l-0.1 1.2M522.1 49.6l-0.1 1.2M525.0 49.8l-0.1 1.2M520.3 69.2l-1.1 0.1M519.6 71.3l-1.2 0.1"/>
<path stroke="#00e050" stroke-opacity=".1" stroke-width="1.05" d="M516.2 63.3l0.2 -1.2"/>
<path stroke="#00e060" stroke-opacity=".1" stroke-width="1.05" d="M514.6 47.3l0.0 -1.1M512.9 44.8l0.0 -1.2"/>
<path stroke="#00e080" stroke-opacity=".1" stroke-width="0.95" d="M511.2 42.3l0.0 -1.1M511.2 39.6l-0.0 -1.2"/>
<path stroke="#00e080" stroke-opacity=".1" stroke-width="1.05" d="M519.2 65.6l0.1 -1.1"/>
<path stroke="#00e090" stroke-opacity=".1" stroke-width="0.95" d="M509.5 42.5l0.0 -1.1"/>
<path stroke="#00e0a0" stroke-opacity=".1" stroke-width="1.0" d="M499.6 60.0l-1.2 0.0M498.4 62.6l-1.3 -0.1M497.6 70.4l-1.2 -0.1"/>
<path stroke="#00e0a0" stroke-opacity=".1" stroke-width="1.05" d="M471.2 14.5l-1.2 0.0"/>
<path stroke="#00e0b0" stroke-opacity=".1" stroke-width="0.95" d="M509.5 39.8l0.0 -1.2"/>
<path stroke="#00e0b0" stroke-opacity=".1" stroke-width="1.0" d="M496.9 59.9l-1.1 -0.2M497.2 65.1l-1.2 -0.2M496.1 67.6l-1.2 -0.2M494.9 70.1l-1.1 -0.2"/>
<path stroke="#00e0c0" stroke-opacity=".1" stroke-width="1.0" d="M477.8 67.2l-1.3 0.0M475.1 67.2l-1.2 0.0M472.4 67.2l-1.2 0.0M473.7 71.6l-1.3 0.0"/>
<path stroke="#00e0c0" stroke-opacity=".1" stroke-width="1.05" d="M468.5 14.5l-1.1 0.0M469.1 17.1l-1.2 -0.0"/>
<path stroke="#00e0d0" stroke-opacity=".1" stroke-width="0.8" d="M472.7 15.9l0.0 1.2M475.4 15.9l0.0 1.2M478.1 15.9l0.0 1.2M480.8 15.9l0.0 1.2M483.5 15.9l0.0 1.2M486.2 15.9l0.0 1.2M488.9 15.9l0.0 1.2M491.6 15.9l0.0 1.2M494.3 15.9l0.0 1.2M497.0 15.9l0.0 1.2M499.7 15.9l0.0 1.2M502.4 15.9l0.0 1.2M505.1 15.9l0.0 1.2M470.0 18.4l0.0 1.2M472.7 18.4l0.0 1.2M475.4 18.4l0.0 1.2M478.1 18.4l0.0 1.2M480.8 18.4l0.0 1.2M483.5 18.4l0.0 1.2M486.2 18.4l0.0 1.2M488.9 18.4l0.0 1.2M491.6 18.4l0.0 1.2M494.3 18.4l0.0 1.2M497.0 18.4l0.0 1.2M499.7 18.4l0.0 1.2M502.4 18.4l0.0 1.2M505.1 18.4l0.0 1.2M507.8 18.4l0.0 1.2M467.3 21.0l0.0 1.2M470.0 21.0l0.0 1.2M472.7 21.0l0.0 1.2M475.4 21.0l0.0 1.2M478.1 21.0l0.0 1.2M480.8 21.0l0.0 1.2M483.5 21.0l0.0 1.2M486.2 21.0l0.0 1.2M488.9 21.0l0.0 1.2M491.6 21.0l0.0 1.2M494.3 21.0l0.0 1.2M497.0 21.0l0.0 1.2M499.7 21.0l0.0 1.2M502.4 21.0l0.0 1.2M505.1 21.0l0.0 1.2M507.8 21.0l0.0 1.2M510.5 21.0l0.0 1.2M464.6 23.6l0.0 1.2M467.3 23.6l0.0 1.2M470.0 23.6l0.0 1.2M472.7 23.6l0.0 1.2M475.4 23.6l0.0 1.2M478.1 23.6l0.0 1.2M480.8 23.6l0.0 1.2M483.5 23.6l0.0 1.2M486.2 23.6l0.0 1.2M488.9 23.6l0.0 1.2M491.6 23.6l0.0 1.2M494.3 23.6l0.0 1.2M497.0 23.6l0.0 1.2M499.7 23.6l0.0 1.2M502.4 23.6l0.0 1.2M505.1 23.6l0.0 1.2M507.8 23.6l0.0 1.2M510.5 23.6l0.0 1.2M461.9 26.1l0.0 1.2M464.6 26.1l0.0 1.2M467.3 26.1l0.0 1.2M470.0 26.1l0.0 1.2M472.7 26.1l0.0 1.2M475.4 26.1l0.0 1.2M478.1 26.1l0.0 1.2M480.8 26.1l0.0 1.2M483.5 26.1l0.0 1.2M486.2 26.1l0.0 1.2M488.9 26.1l0.0 1.2M491.6 26.1l0.0 1.2M494.3 26.1l0.0 1.2M497.0 26.1l0.0 1.2M499.7 26.1l0.0 1.2M502.4 26.1l0.0 1.2M505.1 26.1l0.0 1.2M507.8 26.1l0.0 1.2M510.5 26.1l0.0 1.2M456.5 28.7l0.0 1.2M459.2 28.7l0.0 1.2M461.9 28.7l0.0 1.2M464.6 28.7l0.0 1.2M467.3 28.7l0.0 1.2M470.0 28.7l0.0 1.2M472.7 28.7l0.0 1.2M475.4 28.7l0.0 1.2M478.1 28.7l0.0 1.2M480.8 28.7l0.0 1.2M497.0 28.7l0.0 1.2M499.7 28.7l0.0 1.2M502.4 28.7l0.0 1.2M505.1 28.7l0.0 1.2M507.8 28.7l0.0 1.2M510.5 28.7l0.0 1.2M453.8 31.2l0.0 1.2M456.5 31.2l0.0 1.2M459.2 31.2l0.0 1.2M461.9 31.2l0.0 1.2M464.6 31.2l0.0 1.2M467.3 31.2l0.0 1.2M470.0 31.2l0.0 1.2M472.7 31.2l0.0 1.2M475.4 31.2l0.0 1.2M499.7 31.2l0.0 1.2M502.4 31.2l0.0 1.2M505.1 31.2l0.0 1.2M507.8 31.2l0.0 1.2M510.5 31.2l0.0 1.2M453.8 33.8l0.0 1.2M456.5 33.8l0.0 1.2M459.2 33.8l0.0 1.2M461.9 33.8l0.0 1.2M464.6 33.8l0.0 1.2M467.3 33.8l0.0 1.2M470.0 33.8l0.0 1.2M472.7 33.8l0.0 1.2M502.4 33.8l0.0 1.2M505.1 33.8l0.0 1.2M507.8 33.8l0.0 1.2M510.5 33.8l0.0 1.2M451.1 36.3l0.0 1.2M453.8 36.3l0.0 1.2M456.5 36.3l0.0 1.2M459.2 36.3l0.0 1.2M461.9 36.3l0.0 1.2M464.6 36.3l0.0 1.2M467.3 36.3l0.0 1.2M470.0 36.3l0.0 1.2M502.4 36.3l0.0 1.2M505.1 36.3l0.0 1.2M507.8 36.3l0.0 1.2M510.5 36.3l0.0 1.2M448.4 38.8l0.0 1.2M451.1 38.8l0.0 1.2M453.8 38.8l0.0 1.2M456.5 38.8l0.0 1.2M459.2 38.8l0.0 1.2M461.9 38.8l0.0 1.2M464.6 38.8l0.0 1.2M467.3 38.8l0.0 1.2M505.1 38.8l0.0 1.2M507.8 38.8l0.0 1.2M510.5 38.8l0.0 1.2M448.4 41.4l0.0 1.2M451.1 41.4l0.0 1.2M453.8 41.4l0.0 1.2M456.5 41.4l0.0 1.2M459.2 41.4l0.0 1.2M461.9 41.4l0.0 1.2M464.6 41.4l0.0 1.2M505.1 41.4l0.0 1.2M507.8 41.4l0.0 1.2M510.5 41.4l0.0 1.2M445.7 43.9l0.0 1.2M448.4 43.9l0.0 1.2M451.1 43.9l0.0 1.2M453.8 43.9l0.0 1.2M456.5 43.9l0.0 1.2M459.2 43.9l0.0 1.2M461.9 43.9l0.0 1.2M502.4 43.9l0.0 1.2M505.1 43.9l0.0 1.2M507.8 43.9l0.0 1.2M510.5 43.9l0.0 1.2M445.7 46.5l0.0 1.2M448.4 46.5l0.0 1.2M451.1 46.5l0.0 1.2M453.8 46.5l0.0 1.2M456.5 46.5l0.0 1.2M459.2 46.5l0.0 1.2M461.9 46.5l0.0 1.2M502.4 46.5l0.0 1.2M505.1 46.5l0.0 1.2M507.8 46.5l0.0 1.2M510.5 46.5l0.0 1.2M445.7 49.0l0.0 1.2M448.4 49.0l0.0 1.2M451.1 49.0l0.0 1.2M453.8 49.0l0.0 1.2M456.5 49.0l0.0 1.2M459.2 49.0l0.0 1.2M461.9 49.0l0.0 1.2M499.7 49.0l0.0 1.2M502.4 49.0l0.0 1.2M505.1 49.0l0.0 1.2M507.8 49.0l0.0 1.2M510.5 49.0l0.0 1.2M445.7 51.6l0.0 1.2M448.4 51.6l0.0 1.2M451.1 51.6l0.0 1.2M453.8 51.6l0.0 1.2M456.5 51.6l0.0 1.2M459.2 51.6l0.0 1.2M461.9 51.6l0.0 1.2M464.6 51.6l0.0 1.2M497.0 51.6l0.0 1.2M499.7 51.6l0.0 1.2M502.4 51.6l0.0 1.2M505.1 51.6l0.0 1.2M507.8 51.6l0.0 1.2M510.5 51.6l0.0 1.2M445.7 54.1l0.0 1.2M448.4 54.1l0.0 1.2M451.1 54.1l0.0 1.2M453.8 54.1l0.0 1.2M456.5 54.1l0.0 1.2M459.2 54.1l0.0 1.2M461.9 54.1l0.0 1.2M464.6 54.1l0.0 1.2M467.3 54.1l0.0 1.2M470.0 54.1l0.0 1.2M491.6 54.1l0.0 1.2M494.3 54.1l0.0 1.2M497.0 54.1l0.0 1.2M499.7 54.1l0.0 1.2M502.4 54.1l0.0 1.2M505.1 54.1l0.0 1.2M507.8 54.1l0.0 1.2M510.5 54.1l0.0 1.2M448.4 56.7l0.0 1.2M451.1 56.7l0.0 1.2M453.8 56.7l0.0 1.2M456.5 56.7l0.0 1.2M459.2 56.7l0.0 1.2M461.9 56.7l0.0 1.2M464.6 56.7l0.0 1.2M467.3 56.7l0.0 1.2M470.0 56.7l0.0 1.2M472.7 56.7l0.0 1.2M475.4 56.7l0.0 1.2M478.1 56.7l0.0 1.2M480.8 56.7l0.0 1.2M483.5 56.7l0.0 1.2M486.2 56.7l0.0 1.2M488.9 56.7l0.0 1.2M491.6 56.7l0.0 1.2M494.3 56.7l0.0 1.2M497.0 56.7l0.0 1.2M499.7 56.7l0.0 1.2M502.4 56.7l0.0 1.2M505.1 56.7l0.0 1.2M507.8 56.7l0.0 1.2M510.5 56.7l0.0 1.2M448.4 59.2l0.0 1.2M451.1 59.2l0.0 1.2M453.8 59.2l0.0 1.2M456.5 59.2l0.0 1.2M459.2 59.2l0.0 1.2M461.9 59.2l0.0 1.2M464.6 59.2l0.0 1.2M467.3 59.2l0.0 1.2M470.0 59.2l0.0 1.2M472.7 59.2l0.0 1.2M475.4 59.2l0.0 1.2M478.1 59.2l0.0 1.2M480.8 59.2l0.0 1.2M483.5 59.2l0.0 1.2M486.2 59.2l0.0 1.2M488.9 59.2l0.0 1.2M491.6 59.2l0.0 1.2M494.3 59.2l0.0 1.2M497.0 59.2l0.0 1.2M499.7 59.2l0.0 1.2M502.4 59.2l0.0 1.2M505.1 59.2l0.0 1.2M507.8 59.2l0.0 1.2M510.5 59.2l0.0 1.2M451.1 61.8l0.0 1.2M453.8 61.8l0.0 1.2M456.5 61.8l0.0 1.2M459.2 61.8l0.0 1.2M461.9 61.8l0.0 1.2M464.6 61.8l0.0 1.2M467.3 61.8l0.0 1.2M470.0 61.8l0.0 1.2M472.7 61.8l0.0 1.2M475.4 61.8l0.0 1.2M478.1 61.8l0.0 1.2M480.8 61.8l0.0 1.2M483.5 61.8l0.0 1.2M486.2 61.8l0.0 1.2M488.9 61.8l0.0 1.2M491.6 61.8l0.0 1.2M494.3 61.8l0.0 1.2M497.0 61.8l0.0 1.2M499.7 61.8l0.0 1.2M502.4 61.8l0.0 1.2M505.1 61.8l0.0 1.2M507.8 61.8l0.0 1.2M453.8 64.3l0.0 1.2M456.5 64.3l0.0 1.2M459.2 64.3l0.0 1.2M461.9 64.3l0.0 1.2M464.6 64.3l0.0 1.2M467.3 64.3l0.0 1.2M470.0 64.3l0.0 1.2M472.7 64.3l0.0 1.2M475.4 64.3l0.0 1.2M478.1 64.3l0.0 1.2M480.8 64.3l0.0 1.2M483.5 64.3l0.0 1.2M486.2 64.3l0.0 1.2M488.9 64.3l0.0 1.2M491.6 64.3l0.0 1.2M494.3 64.3l0.0 1.2M497.0 64.3l0.0 1.2M499.7 64.3l0.0 1.2M502.4 64.3l0.0 1.2M505.1 64.3l0.0 1.2"/>
<path stroke="#00e0d0" stroke-opacity=".1" stroke-width="0.95" d="M469.8 19.6l-1.2 0.0M467.1 19.6l-1.2 0.0M464.4 19.6l-1.1 0.0M507.9 40.0l-0.0 -1.2M504.4 35.8l-0.6 -1.1M503.0 33.5l-0.8 -1.0"/>
<path stroke="#00e0d0" stroke-opacity=".1" stroke-width="1.0" d="M469.7 67.2l-1.2 0.0M467.0 67.2l-1.1 0.0M464.3 67.2l-1.1 0.0M461.6 67.2l-1.1 0.0M458.9 67.2l-1.1 0.0M469.0 69.6l-1.2 0.0M466.3 69.6l-1.2 0.0M463.6 69.6l-1.2 0.0M460.9 69.6l-1.1 0.0M458.2 69.6l-1.1 0.0M471.0 71.6l-1.2 0.0M468.3 71.6l-1.2 0.0M465.6 71.6l-1.2 0.0M462.9 71.6l-1.1 0.0M460.2 71.6l-1.1 0.0M457.5 71.6l-1.1 0.0"/>
<path stroke="#00e0d0" stroke-opacity=".1" stroke-width="1.05" d="M466.4 17.1l-1.1 0.0"/>
<path stroke="#00e0e0" stroke-opacity=".1" stroke-width="0.95" d="M470.5 22.1l-1.3 0.0M467.8 22.1l-1.2 0.0M465.1 22.1l-1.1 -0.0M463.1 24.7l-1.1 0.0M505.7 41.0l-0.2 -1.2M505.2 38.4l-0.3 -1.2"/>
<path stroke="#00e0f0" stroke-opacity=".1" stroke-width="0.95" d="M468.5 24.7l-1.2 -0.0M465.8 24.7l-1.2 -0.0M506.2 42.5l-0.2 0.0M461.8 27.2l-1.1 -0.0"/>
<path stroke="#00e0ff" stroke-opacity=".1" stroke-width="0.95" d="M471.2 24.7l-1.3 0.0M467.2 27.2l-1.2 0.0M464.5 27.2l-1.1 0.0"/>
<path stroke="#30e000" stroke-opacity=".1" stroke-width="1.0" d="M524.6 57.0l0.1 0.9"/>
<path stroke="#60e000" stroke-opacity=".1" stroke-width="1.1" d="M526.6 54.0l0.1 0.9"/>
<path stroke="#00d0ff" stroke-opacity=".2" stroke-width="0.95" d="M478.0 27.2l-1.3 0.0"/>
<path stroke="#00e050" stroke-opacity=".2" stroke-width="1.0" d="M515.6 51.9l-0.5 1.2M518.7 52.1l-0.5 1.3M521.7 52.3l-0.4 1.3M524.7 52.5l-0.3 1.2M523.9 55.0l-0.6 1.2M518.3 67.0l-1.3 0.1"/>
<path stroke="#00e050" stroke-opacity=".2" stroke-width="1.05" d="M532.8 63.4l-0.3 -1.3M512.9 39.4l0.0 -1.4"/>
<path stroke="#00e060" stroke-opacity=".2" stroke-width="1.0" d="M512.5 51.7l-0.5 1.1M511.2 54.1l-0.8 1.1M514.5 54.4l-0.8 1.2M520.8 54.8l-0.6 1.3M522.7 57.5l-0.7 1.2"/>
<path stroke="#00e060" stroke-opacity=".2" stroke-width="1.05" d="M514.6 44.6l0.0 -1.2M514.6 41.9l0.0 -1.4M512.9 42.1l0.0 -1.3"/>
<path stroke="#00e070" stroke-opacity=".2" stroke-width="1.0" d="M509.4 56.1l-1.0 0.9"/>
<path stroke="#00e070" stroke-opacity=".2" stroke-width="1.05" d="M476.6 14.5l-1.5 0.0"/>
<path stroke="#00e070" stroke-opacity=".2" stroke-width="1.3" d="M522.5 65.1l0.0 -1.2"/>
<path stroke="#00e080" stroke-opacity=".2" stroke-width="0.95" d="M511.2 36.9l0.0 -1.3M511.3 34.2l0.0 -1.3M511.3 31.5l-0.1 -1.4"/>
<path stroke="#00e080" stroke-opacity=".2" stroke-width="1.0" d="M507.3 57.7l-1.2 0.6M506.3 61.2l-1.4 0.5M510.7 68.0l-1.4 0.5"/>
<path stroke="#00e090" stroke-opacity=".2" stroke-width="1.0" d="M504.9 58.9l-1.3 0.4M502.3 59.7l-1.3 0.2M503.8 62.0l-1.4 0.3M502.6 64.9l-1.4 0.2M504.1 67.3l-1.5 0.2M508.2 68.9l-1.4 0.4M505.6 69.7l-1.4 0.3M503.0 70.1l-1.4 0.1M494.0 67.2l-1.5 0.0"/>
<path stroke="#00e090" stroke-opacity=".2" stroke-width="1.05" d="M473.9 14.5l-1.4 0.0"/>
<path stroke="#00e0a0" stroke-opacity=".2" stroke-width="0.95" d="M509.0 31.8l-0.3 -1.4M508.2 29.2l-0.7 -1.3M500.6 26.4l-1.3 -0.7"/>
<path stroke="#00e0a0" stroke-opacity=".2" stroke-width="1.0" d="M501.1 62.5l-1.4 0.1M499.9 65.2l-1.4 0.0M501.4 67.7l-1.4 0.1M498.8 67.8l-1.3 -0.0M500.3 70.3l-1.3 0.0M491.3 67.2l-1.4 0.0M488.6 67.2l-1.4 0.0M487.2 71.6l-1.4 0.0"/>
<path stroke="#00e0a0" stroke-opacity=".2" stroke-width="1.05" d="M477.2 17.1l-1.5 0.0"/>
<path stroke="#00e0b0" stroke-opacity=".2" stroke-width="0.95" d="M509.6 37.1l0.0 -1.3M509.5 34.4l-0.2 -1.4M506.2 32.2l-0.7 -1.2M504.7 29.9l-0.9 -1.0M502.8 28.0l-1.1 -0.9"/>
<path stroke="#00e0b0" stroke-opacity=".2" stroke-width="1.0" d="M485.9 67.2l-1.4 0.0M483.2 67.2l-1.3 0.0M480.5 67.2l-1.3 0.0M482.5 69.6l-1.5 0.0M479.8 69.6l-1.4 0.0M484.5 71.6l-1.4 0.0M481.8 71.6l-1.4 0.0"/>
<path stroke="#00e0b0" stroke-opacity=".2" stroke-width="1.05" d="M474.5 17.1l-1.4 0.0M471.8 17.1l-1.3 0.0"/>
<path stroke="#00e0c0" stroke-opacity=".2" stroke-width="0.95" d="M477.9 19.6l-1.5 0.0M507.6 37.4l-0.2 -1.3M507.0 34.7l-0.4 -1.3M490.1 24.6l-1.5 -0.0M499.1 29.8l-1.1 -0.7M496.7 28.5l-1.2 -0.5M494.2 27.7l-1.3 -0.2M491.5 27.3l-1.4 -0.1"/>
<path stroke="#00e0c0" stroke-opacity=".2" stroke-width="1.0" d="M477.1 69.6l-1.4 -0.0M474.4 69.6l-1.3 0.0M479.1 71.6l-1.3 0.0M476.4 71.6l-1.3 -0.0"/>
<path stroke="#00e0d0" stroke-opacity=".2" stroke-width="0.8" d="M483.5 28.7l0.0 1.2M486.2 28.7l0.0 1.2M488.9 28.7l0.0 1.2M491.6 28.7l0.0 1.2M494.3 28.7l0.0 1.2M478.1 31.2l0.0 1.2M480.8 31.2l0.0 1.2M483.5 31.2l0.0 1.2M486.2 31.2l0.0 1.2M488.9 31.2l0.0 1.2M491.6 31.2l0.0 1.2M494.3 31.2l0.0 1.2M497.0 31.2l0.0 1.2M475.4 33.8l0.0 1.2M478.1 33.8l0.0 1.2M480.8 33.8l0.0 1.2M483.5 33.8l0.0 1.2M486.2 33.8l0.0 1.2M488.9 33.8l0.0 1.2M491.6 33.8l0.0 1.2M494.3 33.8l0.0 1.2M497.0 33.8l0.0 1.2M499.7 33.8l0.0 1.2M472.7 36.3l0.0 1.2M475.4 36.3l0.0 1.2M478.1 36.3l0.0 1.2M480.8 36.3l0.0 1.2M483.5 36.3l0.0 1.2M486.2 36.3l0.0 1.2M488.9 36.3l0.0 1.2M491.6 36.3l0.0 1.2M494.3 36.3l0.0 1.2M497.0 36.3l0.0 1.2M499.7 36.3l0.0 1.2M470.0 38.8l0.0 1.2M472.7 38.8l0.0 1.2M475.4 38.8l0.0 1.2M478.1 38.8l0.0 1.2M480.8 38.8l0.0 1.2M483.5 38.8l0.0 1.2M486.2 38.8l0.0 1.2M488.9 38.8l0.0 1.2M491.6 38.8l0.0 1.2M494.3 38.8l0.0 1.2M497.0 38.8l0.0 1.2M499.7 38.8l0.0 1.2M502.4 38.8l0.0 1.2M467.3 41.4l0.0 1.2M470.0 41.4l0.0 1.2M472.7 41.4l0.0 1.2M475.4 41.4l0.0 1.2M478.1 41.4l0.0 1.2M480.8 41.4l0.0 1.2M483.5 41.4l0.0 1.2M486.2 41.4l0.0 1.2M488.9 41.4l0.0 1.2M491.6 41.4l0.0 1.2M494.3 41.4l0.0 1.2M497.0 41.4l0.0 1.2M499.7 41.4l0.0 1.2M502.4 41.4l0.0 1.2M464.6 43.9l0.0 1.2M467.3 43.9l0.0 1.2M470.0 43.9l0.0 1.2M472.7 43.9l0.0 1.2M475.4 43.9l0.0 1.2M478.1 43.9l0.0 1.2M480.8 43.9l0.0 1.2M483.5 43.9l0.0 1.2M486.2 43.9l0.0 1.2M488.9 43.9l0.0 1.2M491.6 43.9l0.0 1.2M494.3 43.9l0.0 1.2M497.0 43.9l0.0 1.2M499.7 43.9l0.0 1.2M464.6 46.5l0.0 1.2M467.3 46.5l0.0 1.2M470.0 46.5l0.0 1.2M472.7 46.5l0.0 1.2M475.4 46.5l0.0 1.2M478.1 46.5l0.0 1.2M480.8 46.5l0.0 1.2M483.5 46.5l0.0 1.2M486.2 46.5l0.0 1.2M488.9 46.5l0.0 1.2M491.6 46.5l0.0 1.2M494.3 46.5l0.0 1.2M497.0 46.5l0.0 1.2M499.7 46.5l0.0 1.2M464.6 49.0l0.0 1.2M467.3 49.0l0.0 1.2M470.0 49.0l0.0 1.2M472.7 49.0l0.0 1.2M475.4 49.0l0.0 1.2M478.1 49.0l0.0 1.2M480.8 49.0l0.0 1.2M483.5 49.0l0.0 1.2M486.2 49.0l0.0 1.2M488.9 49.0l0.0 1.2M491.6 49.0l0.0 1.2M494.3 49.0l0.0 1.2M497.0 49.0l0.0 1.2M467.3 51.6l0.0 1.2M470.0 51.6l0.0 1.2M472.7 51.6l0.0 1.2M475.4 51.6l0.0 1.2M478.1 51.6l0.0 1.2M480.8 51.6l0.0 1.2M483.5 51.6l0.0 1.2M486.2 51.6l0.0 1.2M488.9 51.6l0.0 1.2M491.6 51.6l0.0 1.2M494.3 51.6l0.0 1.2M472.7 54.1l0.0 1.2M475.4 54.1l0.0 1.2M478.1 54.1l0.0 1.2M480.8 54.1l0.0 1.2M483.5 54.1l0.0 1.2M486.2 54.1l0.0 1.2M488.9 54.1l0.0 1.2"/>
<path stroke="#00e0d0" stroke-opacity=".2" stroke-width="0.95" d="M475.2 19.6l-1.4 0.0M472.5 19.6l-1.3 0.0M487.4 24.6l-1.4 0.0M501.2 31.5l-1.0 -0.8M488.8 27.1l-1.3 -0.0"/>
<path stroke="#00e0d0" stroke-opacity=".2" stroke-width="1.0" d="M471.7 69.6l-1.3 0.0"/>
<path stroke="#00e0e0" stroke-opacity=".2" stroke-width="0.95" d="M481.3 22.1l-1.5 0.0M475.9 22.1l-1.4 0.0M473.2 22.1l-1.3 0.0M484.7 24.6l-1.4 0.0M486.1 27.1l-1.3 0.0"/>
<path stroke="#00e0f0" stroke-opacity=".2" stroke-width="0.95" d="M478.6 22.1l-1.4 0.0M482.0 24.6l-1.4 0.0M483.4 27.1l-1.3 0.0"/>
<path stroke="#00e0ff" stroke-opacity=".2" stroke-width="0.95" d="M479.3 24.7l-1.4 0.0M476.6 24.7l-1.3 0.0M473.9 24.7l-1.3 0.0M480.7 27.2l-1.3 0.0"/>
<path stroke="#00e010" stroke-opacity=".3" stroke-width="1.05" d="M514.7 28.4l0.0 -1.6"/>
<path stroke="#00e020" stroke-opacity=".3" stroke-width="1.05" d="M514.6 31.1l0.0 -1.6"/>
<path stroke="#00e030" stroke-opacity=".3" stroke-width="1.05" d="M512.3 23.3l-0.7 -1.5"/>
<path stroke="#00e040" stroke-opacity=".3" stroke-width="1.05" d="M519.5 62.9l0.1 -1.4M514.6 33.8l0.0 -1.6M512.8 25.9l-0.2 -1.5"/>
<path stroke="#00e050" stroke-opacity=".3" stroke-width="1.0" d="M515.6 67.1l-1.5 0.0M512.9 67.2l-1.6 0.0M517.6 69.4l-1.4 0.1M516.9 71.5l-1.4 0.1M514.2 71.6l-1.6 0.0M529.1 64.5l1.3 0.6"/>
<path stroke="#00e050" stroke-opacity=".3" stroke-width="1.05" d="M516.5 60.7l0.2 -1.4M530.6 63.8l-0.3 -1.4M514.6 39.2l0.0 -1.5M514.6 36.5l0.0 -1.6M482.0 14.5l-1.6 0.0M512.9 36.7l0.0 -1.5M512.9 34.0l0.0 -1.5M513.0 31.3l0.0 -1.5M513.0 28.6l-0.1 -1.5"/>
<path stroke="#00e060" stroke-opacity=".3" stroke-width="0.95" d="M507.0 22.0l-1.3 -0.9"/>
<path stroke="#00e060" stroke-opacity=".3" stroke-width="1.0" d="M517.6 54.6l-0.7 1.3M516.2 56.9l-0.9 1.2M519.5 57.2l-0.8 1.2M521.2 59.8l-0.9 1.1M510.2 67.2l-1.6 -0.0M507.5 67.2l-1.6 -0.0M504.8 67.2l-1.6 -0.0M503.4 71.6l-1.7 -0.0M531.2 65.4l0.3 0.1"/>
<path stroke="#00e060" stroke-opacity=".3" stroke-width="1.05" d="M479.3 14.5l-1.6 0.0"/>
<path stroke="#00e060" stroke-opacity=".3" stroke-width="1.3" d="M527.9 64.2l-0.1 -1.4"/>
<path stroke="#00e070" stroke-opacity=".3" stroke-width="0.95" d="M510.3 26.2l-0.7 -1.4M508.9 23.9l-1.1 -1.2"/>
<path stroke="#00e070" stroke-opacity=".3" stroke-width="1.0" d="M512.9 56.6l-1.0 1.1M511.0 58.4l-1.2 0.9M514.5 59.0l-1.1 1.1M512.5 60.8l-1.3 0.9M517.9 59.4l-1.0 1.2M516.1 61.4l-1.2 1.0M514.0 63.1l-1.3 0.9M519.5 61.8l-1.0 1.1M517.6 63.7l-1.1 0.9M502.1 67.2l-1.6 -0.0M499.4 67.2l-1.5 0.0M500.7 71.6l-1.6 0.0"/>
<path stroke="#00e070" stroke-opacity=".3" stroke-width="1.3" d="M525.5 64.7l-0.1 -1.3"/>
<path stroke="#00e080" stroke-opacity=".3" stroke-width="0.95" d="M511.0 28.8l-0.3 -1.5M502.6 23.5l-1.4 -0.7M500.2 22.5l-1.6 -0.2"/>
<path stroke="#00e080" stroke-opacity=".3" stroke-width="1.0" d="M508.8 60.0l-1.3 0.7M510.2 62.3l-1.4 0.7M507.8 63.4l-1.4 0.5M511.7 64.5l-1.4 0.7M509.3 65.7l-1.4 0.6M515.5 65.4l-1.2 0.8M513.2 66.8l-1.3 0.7M496.7 67.2l-1.5 0.0M498.0 71.6l-1.6 0.0"/>
<path stroke="#00e090" stroke-opacity=".3" stroke-width="0.95" d="M506.8 26.9l-1.0 -1.1M504.9 25.0l-1.2 -0.9M497.5 22.2l-1.6 -0.1"/>
<path stroke="#00e090" stroke-opacity=".3" stroke-width="1.0" d="M505.3 64.3l-1.5 0.4M506.7 66.6l-1.4 0.4M493.3 69.6l-1.6 -0.0M495.3 71.6l-1.5 0.0M492.6 71.6l-1.5 0.0"/>
<path stroke="#00e090" stroke-opacity=".3" stroke-width="1.05" d="M516.8 58.0l0.1 -1.6M482.6 17.1l-1.6 0.0M479.9 17.1l-1.5 0.0"/>
<path stroke="#00e0a0" stroke-opacity=".3" stroke-width="0.95" d="M488.7 19.5l-1.6 0.0M494.8 22.1l-1.6 -0.0M498.1 25.3l-1.4 -0.3M495.5 24.9l-1.5 -0.1"/>
<path stroke="#00e0a0" stroke-opacity=".3" stroke-width="1.0" d="M490.6 69.6l-1.6 0.0M487.9 69.6l-1.5 0.0M489.9 71.6l-1.5 0.0"/>
<path stroke="#00e0b0" stroke-opacity=".3" stroke-width="0.95" d="M486.0 19.6l-1.6 0.0M492.1 22.0l-1.6 0.0M489.4 22.0l-1.5 0.0M492.8 24.6l-1.5 -0.0"/>
<path stroke="#00e0b0" stroke-opacity=".3" stroke-width="1.0" d="M485.2 69.6l-1.5 0.0"/>
<path stroke="#00e0c0" stroke-opacity=".3" stroke-width="0.95" d="M483.3 19.6l-1.6 0.0M480.6 19.6l-1.5 0.0M486.7 22.1l-1.5 0.0"/>
<path stroke="#00e0d0" stroke-opacity=".3" stroke-width="0.95" d="M484.0 22.1l-1.5 0.0"/>
<path stroke="#00e000" stroke-opacity=".4" stroke-width="1.0" d="M524.9 59.3l0.6 1.4"/>
<path stroke="#00e000" stroke-opacity=".4" stroke-width="1.05" d="M514.7 25.7l-0.0 -1.7"/>
<path stroke="#00e010" stroke-opacity=".4" stroke-width="1.05" d="M532.2 60.8l-0.4 -1.6"/>
<path stroke="#00e020" stroke-opacity=".4" stroke-width="1.05" d="M519.8 60.2l0.1 -1.7M487.4 14.5l-1.8 0.0M509.1 19.0l-1.5 -1.0"/>
<path stroke="#00e030" stroke-opacity=".4" stroke-width="1.0" d="M527.2 63.2l1.3 0.9"/>
<path stroke="#00e030" stroke-opacity=".4" stroke-width="1.05" d="M514.4 20.3l-0.1 -1.7M514.3 17.6l-0.1 -1.7M514.1 14.9l-0.2 -1.7M513.8 12.2l-0.3 -1.7M484.7 14.5l-1.8 -0.0M511.0 20.9l-1.1 -1.3"/>
<path stroke="#00e040" stroke-opacity=".4" stroke-width="1.05" d="M517.0 49.9l-0.1 -1.7M516.8 47.2l-0.2 -1.7M516.5 44.5l-0.2 -1.7M516.2 41.8l-0.2 -1.7M515.9 39.1l-0.2 -1.7M515.7 36.5l-0.2 -1.7M515.4 33.8l-0.2 -1.7M515.1 31.1l-0.2 -1.7M514.9 28.4l-0.2 -1.7M514.7 25.7l-0.1 -1.7M514.5 23.0l-0.1 -1.7M498.8 17.0l-1.9 0.0"/>
<path stroke="#00e050" stroke-opacity=".4" stroke-width="1.0" d="M514.9 69.6l-1.7 0.0M512.2 69.6l-1.8 0.0M511.5 71.6l-1.7 0.0"/>
<path stroke="#00e050" stroke-opacity=".4" stroke-width="1.05" d="M517.1 52.6l-0.0 -1.7M496.1 17.0l-1.8 0.0"/>
<path stroke="#00e060" stroke-opacity=".4" stroke-width="0.95" d="M504.8 20.5l-1.6 -0.6M502.2 19.8l-1.8 -0.1M499.5 19.6l-1.8 -0.1"/>
<path stroke="#00e060" stroke-opacity=".4" stroke-width="1.0" d="M509.5 69.6l-1.8 -0.0M506.8 69.6l-1.8 -0.0M504.1 69.6l-1.8 -0.0M508.8 71.6l-1.7 -0.0M506.1 71.6l-1.7 -0.0"/>
<path stroke="#00e060" stroke-opacity=".4" stroke-width="1.05" d="M493.4 17.0l-1.8 0.0M490.7 17.0l-1.7 0.0"/>
<path stroke="#00e070" stroke-opacity=".4" stroke-width="0.95" d="M496.8 19.5l-1.7 -0.0"/>
<path stroke="#00e070" stroke-opacity=".4" stroke-width="1.0" d="M501.4 69.6l-1.8 0.0"/>
<path stroke="#00e070" stroke-opacity=".4" stroke-width="1.05" d="M517.0 55.3l0.1 -1.7M488.0 17.0l-1.7 0.0"/>
<path stroke="#00e080" stroke-opacity=".4" stroke-width="0.95" d="M494.1 19.5l-1.7 0.0"/>
<path stroke="#00e080" stroke-opacity=".4" stroke-width="1.0" d="M498.7 69.6l-1.7 0.0M496.0 69.6l-1.7 0.0"/>
<path stroke="#00e080" stroke-opacity=".4" stroke-width="1.05" d="M485.3 17.0l-1.7 0.0"/>
<path stroke="#00e090" stroke-opacity=".4" stroke-width="0.95" d="M491.4 19.5l-1.7 0.0"/>
<path stroke="#00e0d0" stroke-opacity=".4" stroke-width="1.2" d="M504.2 58.0l2.2 1.4"/>
<path stroke="#20e000" stroke-opacity=".4" stroke-width="1.05" d="M514.6 23.0l-0.1 -1.7"/>
<path stroke="#30e000" stroke-opacity=".4" stroke-width="1.05" d="M514.4 20.3l-0.7 -1.6"/>
<path stroke="#00e000" stroke-opacity=".5" stroke-width="1.05" d="M495.5 14.4l-2.0 0.0M492.8 14.5l-1.9 0.0"/>
<path stroke="#00e000" stroke-opacity=".5" stroke-width="1.3" d="M525.4 62.0l-0.1 -1.8"/>
<path stroke="#00e010" stroke-opacity=".5" stroke-width="1.0" d="M525.9 61.4l0.9 1.4"/>
<path stroke="#00e010" stroke-opacity=".5" stroke-width="1.05" d="M519.9 57.5l0.1 -1.9M490.1 14.5l-1.9 0.0"/>
<path stroke="#00e010" stroke-opacity=".5" stroke-width="1.1" d="M530.9 61.7l1.3 0.7"/>
<path stroke="#00e020" stroke-opacity=".5" stroke-width="1.05" d="M506.9 17.5l-1.8 -0.3M504.2 17.1l-1.9 -0.1"/>
<path stroke="#00e020" stroke-opacity=".5" stroke-width="1.3" d="M522.6 62.4l0.0 -1.8"/>
<path stroke="#00e030" stroke-opacity=".5" stroke-width="1.05" d="M501.5 17.0l-1.9 -0.0"/>
<path stroke="#10e000" stroke-opacity=".5" stroke-width="1.05" d="M530.1 61.1l-0.3 -1.9M498.2 14.4l-2.0 0.0"/>
<path stroke="#20e000" stroke-opacity=".5" stroke-width="1.05" d="M500.9 14.4l-2.1 0.0"/>
<path stroke="#30e000" stroke-opacity=".5" stroke-width="1.05" d="M531.7 58.1l-0.2 -1.9"/>
<path stroke="#30e000" stroke-opacity=".5" stroke-width="1.1" d="M526.9 56.3l0.5 1.5"/>
<path stroke="#40e000" stroke-opacity=".5" stroke-width="1.05" d="M513.2 17.9l-1.2 -1.4M511.3 16.0l-1.6 -1.2"/>
<path stroke="#00e000" stroke-opacity=".6" stroke-width="1.1" d="M529.1 60.3l1.4 1.1"/>
<path stroke="#00e0d0" stroke-opacity=".6" stroke-width="1.6" d="M503.8 56.0l3.4 0.9"/>
<path stroke="#10e000" stroke-opacity=".6" stroke-width="1.05" d="M520.1 54.8l0.0 -2.0"/>
<path stroke="#10e000" stroke-opacity=".6" stroke-width="1.1" d="M527.8 58.4l1.0 1.5"/>
<path stroke="#10e000" stroke-opacity=".6" stroke-width="1.3" d="M527.6 61.5l-0.2 -1.9"/>
<path stroke="#30e000" stroke-opacity=".6" stroke-width="1.05" d="M520.1 52.1l-0.1 -2.1M517.9 30.6l-0.2 -2.1M517.6 27.9l-0.2 -2.1M517.3 25.2l-0.2 -2.1M517.1 22.6l-0.2 -2.1M516.9 19.9l-0.2 -2.1M516.6 17.2l-0.3 -2.1M516.3 14.5l-0.4 -2.1M515.7 11.9l-0.5 -2.1M515.1 9.2l-0.1 -0.6M503.6 14.4l-2.1 -0.0"/>
<path stroke="#40e000" stroke-opacity=".6" stroke-width="1.05" d="M520.0 49.4l-0.2 -2.1M519.7 46.7l-0.2 -2.1M519.4 44.0l-0.3 -2.1M519.0 41.3l-0.3 -2.1M518.7 38.7l-0.2 -2.1M518.4 36.0l-0.2 -2.1M518.1 33.3l-0.2 -2.1M509.0 14.7l-2.1 -0.2M506.3 14.5l-2.2 -0.1"/>
<path stroke="#50e000" stroke-opacity=".6" stroke-width="1.05" d="M529.3 17.7l-0.1 -2.2M529.1 15.0l-0.2 -2.2M528.8 12.3l-0.1 -1.0"/>
<path stroke="#60d000" stroke-opacity=".6" stroke-width="1.05" d="M529.4 23.1l-0.1 -2.2"/>
<path stroke="#60e000" stroke-opacity=".6" stroke-width="1.05" d="M531.4 55.4l-0.2 -2.1M529.4 20.4l-0.1 -2.2"/>
<path stroke="#70d000" stroke-opacity=".6" stroke-width="1.05" d="M531.2 52.7l-0.1 -2.2M530.0 33.9l-0.1 -2.2M529.8 31.2l-0.1 -2.2M529.7 28.5l-0.1 -2.2"/>
<path stroke="#80d000" stroke-opacity=".6" stroke-width="1.05" d="M531.0 50.0l-0.1 -2.2M530.8 47.4l-0.1 -2.2M530.7 44.7l-0.1 -2.2M530.5 42.0l-0.1 -2.2M530.2 36.6l-0.1 -2.2"/>
<path stroke="#60d000" stroke-opacity=".7" stroke-width="1.05" d="M529.5 25.8l-0.1 -2.2"/>
<path stroke="#80d000" stroke-opacity=".7" stroke-width="1.05" d="M529.7 58.5l-0.2 -2.3M530.3 39.3l-0.1 -2.2"/>
<path stroke="#90d000" stroke-opacity=".7" stroke-width="1.3" d="M522.7 59.7l0.0 -2.2"/>
<path stroke="#b0d000" stroke-opacity=".8" stroke-width="1.05" d="M529.5 55.8l-0.1 -2.5"/>
<path stroke="#b0d000" stroke-opacity=".8" stroke-width="1.3" d="M527.4 58.8l-0.1 -2.4"/>
<path stroke="#d0d000" stroke-opacity=".8" stroke-width="1.3" d="M525.3 59.3l-0.1 -2.3"/>
<path stroke="#60d000" stroke-opacity=".9" stroke-width="1.05" d="M526.6 12.7l-0.3 -2.2"/>
<path stroke="#70d000" stroke-opacity=".9" stroke-width="1.05" d="M526.9 15.4l-0.3 -2.7"/>
<path stroke="#80d000" stroke-opacity=".9" stroke-width="1.05" d="M527.0 18.1l-0.2 -2.7"/>
<path stroke="#90d000" stroke-opacity=".9" stroke-width="1.05" d="M527.1 20.7l-0.1 -2.7"/>
<path stroke="#a0d000" stroke-opacity=".9" stroke-width="1.05" d="M527.2 23.4l-0.1 -2.7"/>
<path stroke="#b0d000" stroke-opacity=".9" stroke-width="1.05" d="M527.6 28.8l-0.2 -2.7M527.4 26.1l-0.2 -2.7"/>
<path stroke="#c0d000" stroke-opacity=".9" stroke-width="1.05" d="M527.8 31.5l-0.2 -2.7"/>
<path stroke="#d0d000" stroke-opacity=".9" stroke-width="1.05" d="M529.4 53.1l-0.1 -2.6M528.0 34.2l-0.2 -2.7"/>
<path stroke="#d0e000" stroke-opacity=".9" stroke-width="1.05" d="M528.2 36.9l-0.2 -2.7"/>
<path stroke="#e0a000" stroke-opacity=".9" stroke-width="1.3" d="M525.2 56.6l-0.0 -2.6"/>
<path stroke="#e0b000" stroke-opacity=".9" stroke-width="1.3" d="M522.7 54.3l-0.0 -2.8"/>
<path stroke="#e0d000" stroke-opacity=".9" stroke-width="1.3" d="M522.7 57.0l0.0 -2.6M527.2 56.1l-0.1 -2.7"/>
<path stroke="#e0e000" stroke-opacity=".9" stroke-width="1.05" d="M529.2 50.4l-0.2 -2.7M529.0 47.7l-0.2 -2.7M528.8 45.0l-0.2 -2.7M528.6 42.3l-0.2 -2.7M528.4 39.6l-0.2 -2.7"/>
<path stroke="#60d000" stroke-width="1.3" d="M523.7 10.4l-0.1 -0.5"/>
<path stroke="#70d000" stroke-width="1.3" d="M520.8 10.9l-0.4 -1.7M524.1 13.1l-0.4 -2.8"/>
<path stroke="#90d000" stroke-width="1.3" d="M524.4 15.7l-0.3 -2.8"/>
<path stroke="#a0d000" stroke-width="1.3" d="M521.4 13.6l-0.6 -2.8"/>
<path stroke="#b0d000" stroke-width="1.3" d="M524.6 18.4l-0.2 -2.8"/>
<path stroke="#c0d000" stroke-width="1.3" d="M524.7 21.1l-0.1 -2.8"/>
<path stroke="#d0d000" stroke-width="1.3" d="M521.9 16.2l-0.5 -2.8"/>
<path stroke="#d0e000" stroke-width="1.3" d="M524.8 23.8l-0.1 -2.8"/>
<path stroke="#e09000" stroke-width="1.3" d="M522.5 48.9l-0.3 -2.8M522.3 46.2l-0.3 -2.8M522.0 43.5l-0.3 -2.8M521.7 40.9l-0.3 -2.8M521.4 38.2l-0.3 -2.8M523.3 32.3l-0.3 -2.8"/>
<path stroke="#e0a000" stroke-width="1.3" d="M522.7 51.6l-0.2 -2.8M521.2 35.5l-0.2 -2.8M520.9 32.8l-0.2 -2.8M523.0 29.7l-0.3 -2.8M526.8 48.0l-0.2 -2.8M526.6 45.4l-0.3 -2.8M526.4 42.7l-0.3 -2.8M526.1 40.0l-0.2 -2.8"/>
<path stroke="#e0b000" stroke-width="1.3" d="M520.7 30.1l-0.3 -2.8M520.5 27.4l-0.3 -2.8M522.8 27.0l-0.3 -2.8M527.2 53.4l-0.1 -2.8M527.0 50.7l-0.2 -2.8M525.9 37.3l-0.2 -2.8"/>
<path stroke="#e0c000" stroke-width="1.3" d="M520.2 24.7l-0.4 -2.8M522.5 24.3l-0.2 -2.8M525.7 34.6l-0.2 -2.8"/>
<path stroke="#e0d000" stroke-width="1.3" d="M519.8 22.0l-0.4 -2.8M519.4 19.4l-0.5 -2.8M522.3 21.6l-0.2 -2.8M525.4 31.9l-0.2 -2.8M525.2 29.2l-0.2 -2.8"/>
<path stroke="#e0e000" stroke-width="1.3" d="M519.0 16.7l-0.6 -2.8M518.4 14.1l-0.6 -2.8M517.9 11.4l-0.6 -2.8M517.3 8.8l-0.6 -2.8M516.7 6.2l-0.4 -1.8M522.1 18.9l-0.3 -2.8M525.0 26.5l-0.2 -2.8"/>
<path stroke="#f08010" stroke-width="1.3" d="M525.1 51.2l-0.2 -2.8M524.9 48.5l-0.3 -2.8M524.6 45.8l-0.3 -2.8M524.3 43.1l-0.3 -2.8M524.0 40.4l-0.3 -2.8"/>
<path stroke="#f09010" stroke-width="1.3" d="M523.8 37.7l-0.3 -2.8"/>
<path stroke="#f0a010" stroke-width="1.3" d="M525.2 53.9l-0.1 -2.8M523.5 35.0l-0.3 -2.8"/>
</g>
<g fill="none" stroke-linecap="round" filter="url(#soft)">
</g>
<rect x="387.0" y="81.1" width="147.9" height="11.8" fill="url(#jet)"/>
</g>
<g id="panel4">
<rect x="10.4" y="160.0" width="149.0" height="62.3" fill="none" stroke="#d4d4d4" stroke-width="1"/>
<g fill="none" stroke-linecap="round" filter="url(#soft)">
<path stroke="#00e050" stroke-opacity=".1" stroke-width="1.0" d="M146.4 216.8l-0.6 1.1M149.7 217.4l-0.9 0.8"/>
<path stroke="#00e060" stroke-opacity=".1" stroke-width="1.0" d="M144.6 216.4l-0.3 1.0M144.7 218.9l-0.9 0.7M146.1 219.0l-1.0 0.7M151.4 174.7l0.1 1.2M147.5 219.1l-1.0 0.6M154.4 196.8l-0.0 1.3M146.0 220.2l-1.1 0.0"/>
<path stroke="#00e070" stroke-opacity=".1" stroke-width="1.0" d="M154.4 194.1l-0.0 1.2M154.4 202.2l0.0 1.3"/>
<path stroke="#00e080" stroke-opacity=".1" stroke-width="0.8" d="M72.4 217.8l-1.4 0.0M75.1 217.8l-1.4 0.0M77.8 217.8l-1.4 0.0M80.5 217.8l-1.4 0.0M83.2 217.8l-1.4 0.0M85.9 217.8l-1.4 0.0M88.6 217.8l-1.4 0.0M91.3 217.8l-1.4 0.0M94.0 217.8l-1.4 0.0M96.7 217.8l-1.4 0.0M99.4 217.8l-1.4 0.0M102.1 217.8l-1.4 0.0M104.8 217.8l-1.4 0.0M107.5 217.8l-1.4 0.0M110.2 217.8l-1.4 0.0M112.9 217.8l-1.4 0.0M115.6 217.8l-1.4 0.0M118.3 217.8l-1.4 0.0M121.0 217.8l-1.4 0.0M123.7 217.8l-1.4 0.0M126.4 217.8l-1.4 0.0M129.1 217.8l-1.4 0.0M131.8 217.8l-1.4 0.0M134.5 217.8l-1.4 0.0M137.2 217.8l-1.4 0.0M139.9 217.8l-1.4 0.0M142.6 217.8l-1.4 0.0"/>
<path stroke="#00e080" stroke-opacity=".1" stroke-width="1.0" d="M144.6 173.3l0.1 1.1M146.4 171.1l0.2 1.1M146.9 173.7l0.1 1.2M147.2 176.4l0.1 1.2M151.0 172.1l0.2 1.1M154.4 188.7l0.0 1.2M154.4 191.4l-0.0 1.2M154.4 207.6l-0.0 1.3M153.1 215.5l-0.6 0.9"/>
<path stroke="#00e090" stroke-opacity=".1" stroke-width="0.8" d="M142.6 215.2l-1.4 0.0M69.7 217.8l-1.4 0.0"/>
<path stroke="#00e090" stroke-opacity=".1" stroke-width="0.95" d="M143.4 162.9l1.1 0.3M140.7 165.4l1.2 0.2M143.3 166.1l1.0 0.5M26.8 203.6l0.0 -1.2"/>
<path stroke="#00e090" stroke-opacity=".1" stroke-width="1.0" d="M145.4 186.7l0.0 1.2M148.1 169.0l0.3 1.0M150.4 169.4l0.3 1.0"/>
<path stroke="#00e0a0" stroke-opacity=".1" stroke-width="0.8" d="M142.6 212.7l-1.4 0.0M64.3 217.8l-1.4 0.0M67.0 217.8l-1.4 0.0"/>
<path stroke="#00e0a0" stroke-opacity=".1" stroke-width="0.95" d="M138.9 168.0l1.2 0.3M141.5 168.7l1.1 0.4"/>
<path stroke="#00e0a0" stroke-opacity=".1" stroke-width="1.0" d="M144.9 175.9l0.1 1.1M145.3 184.0l0.0 1.2M144.9 213.7l-0.1 1.2M153.9 175.2l0.1 1.1M154.4 186.0l0.0 1.2M154.3 210.3l-0.1 1.2"/>
<path stroke="#00e0b0" stroke-opacity=".1" stroke-width="0.8" d="M61.6 217.8l-1.4 0.0"/>
<path stroke="#00e0b0" stroke-opacity=".1" stroke-width="0.9" d="M142.5 172.2l1.2 0.5M140.6 174.3l1.2 0.3M143.2 175.1l1.0 0.5"/>
<path stroke="#00e0b0" stroke-opacity=".1" stroke-width="0.95" d="M23.9 209.8l0.0 -1.2M26.8 206.3l0.0 -1.1"/>
<path stroke="#00e0b0" stroke-opacity=".1" stroke-width="1.0" d="M145.2 211.0l-0.1 1.2M154.3 183.3l0.0 1.1M154.0 213.0l-0.3 1.1"/>
<path stroke="#00e0c0" stroke-opacity=".1" stroke-width="0.8" d="M56.2 217.8l-1.4 0.0M58.9 217.8l-1.4 0.0"/>
<path stroke="#00e0c0" stroke-opacity=".1" stroke-width="0.95" d="M21.3 216.0l0.0 -1.1M23.9 212.5l0.0 -1.1"/>
<path stroke="#00e0c0" stroke-opacity=".1" stroke-width="1.0" d="M145.1 178.6l0.1 1.1M145.3 181.3l0.0 1.2M154.1 177.9l0.1 1.1M154.2 180.6l0.0 1.1"/>
<path stroke="#00e0d0" stroke-opacity=".1" stroke-width="0.8" d="M94.0 179.5l-1.4 0.0M96.7 179.5l-1.4 0.0M99.4 179.5l-1.4 0.0M102.1 179.5l-1.4 0.0M104.8 179.5l-1.4 0.0M107.5 179.5l-1.4 0.0M72.4 182.1l-1.4 0.0M75.1 182.1l-1.4 0.0M77.8 182.1l-1.4 0.0M80.5 182.1l-1.4 0.0M83.2 182.1l-1.4 0.0M85.9 182.1l-1.4 0.0M88.6 182.1l-1.4 0.0M91.3 182.1l-1.4 0.0M94.0 182.1l-1.4 0.0M96.7 182.1l-1.4 0.0M99.4 182.1l-1.4 0.0M102.1 182.1l-1.4 0.0M104.8 182.1l-1.4 0.0M107.5 182.1l-1.4 0.0M110.2 182.1l-1.4 0.0M112.9 182.1l-1.4 0.0M115.6 182.1l-1.4 0.0M118.3 182.1l-1.4 0.0M121.0 182.1l-1.4 0.0M123.7 182.1l-1.4 0.0M126.4 182.1l-1.4 0.0M37.3 184.6l-1.4 0.0M40.0 184.6l-1.4 0.0M42.7 184.6l-1.4 0.0M45.4 184.6l-1.4 0.0M48.1 184.6l-1.4 0.0M50.8 184.6l-1.4 0.0M53.5 184.6l-1.4 0.0M64.3 184.6l-1.4 0.0M67.0 184.6l-1.4 0.0M69.7 184.6l-1.4 0.0M72.4 184.6l-1.4 0.0M75.1 184.6l-1.4 0.0M77.8 184.6l-1.4 0.0M80.5 184.6l-1.4 0.0M83.2 184.6l-1.4 0.0M85.9 184.6l-1.4 0.0M88.6 184.6l-1.4 0.0M91.3 184.6l-1.4 0.0M94.0 184.6l-1.4 0.0M96.7 184.6l-1.4 0.0M99.4 184.6l-1.4 0.0M102.1 184.6l-1.4 0.0M104.8 184.6l-1.4 0.0M107.5 184.6l-1.4 0.0M110.2 184.6l-1.4 0.0M112.9 184.6l-1.4 0.0M115.6 184.6l-1.4 0.0M118.3 184.6l-1.4 0.0M121.0 184.6l-1.4 0.0M123.7 184.6l-1.4 0.0M126.4 184.6l-1.4 0.0M129.1 184.6l-1.4 0.0M131.8 184.6l-1.4 0.0M134.5 184.6l-1.4 0.0M31.9 187.2l-1.4 0.0M34.6 187.2l-1.4 0.0M37.3 187.2l-1.4 0.0M40.0 187.2l-1.4 0.0M42.7 187.2l-1.4 0.0M45.4 187.2l-1.4 0.0M48.1 187.2l-1.4 0.0M50.8 187.2l-1.4 0.0M53.5 187.2l-1.4 0.0M56.2 187.2l-1.4 0.0M58.9 187.2l-1.4 0.0M61.6 187.2l-1.4 0.0M64.3 187.2l-1.4 0.0M67.0 187.2l-1.4 0.0M69.7 187.2l-1.4 0.0M72.4 187.2l-1.4 0.0M75.1 187.2l-1.4 0.0M77.8 187.2l-1.4 0.0M80.5 187.2l-1.4 0.0M83.2 187.2l-1.4 0.0M85.9 187.2l-1.4 0.0M88.6 187.2l-1.4 0.0M91.3 187.2l-1.4 0.0M94.0 187.2l-1.4 0.0M96.7 187.2l-1.4 0.0M99.4 187.2l-1.4 0.0M102.1 187.2l-1.4 0.0M104.8 187.2l-1.4 0.0M107.5 187.2l-1.4 0.0M110.2 187.2l-1.4 0.0M112.9 187.2l-1.4 0.0M115.6 187.2l-1.4 0.0M118.3 187.2l-1.4 0.0M121.0 187.2l-1.4 0.0M123.7 187.2l-1.4 0.0M126.4 187.2l-1.4 0.0M129.1 187.2l-1.4 0.0M131.8 187.2l-1.4 0.0M134.5 187.2l-1.4 0.0M137.2 187.2l-1.4 0.0M29.2 189.7l-1.4 0.0M31.9 189.7l-1.4 0.0M34.6 189.7l-1.4 0.0M37.3 189.7l-1.4 0.0M40.0 189.7l-1.4 0.0M42.7 189.7l-1.4 0.0M45.4 189.7l-1.4 0.0M48.1 189.7l-1.4 0.0M50.8 189.7l-1.4 0.0M53.5 189.7l-1.4 0.0M56.2 189.7l-1.4 0.0M58.9 189.7l-1.4 0.0M61.6 189.7l-1.4 0.0M64.3 189.7l-1.4 0.0M67.0 189.7l-1.4 0.0M69.7 189.7l-1.4 0.0M72.4 189.7l-1.4 0.0M75.1 189.7l-1.4 0.0M77.8 189.7l-1.4 0.0M80.5 189.7l-1.4 0.0M83.2 189.7l-1.4 0.0M85.9 189.7l-1.4 0.0M88.6 189.7l-1.4 0.0M91.3 189.7l-1.4 0.0M94.0 189.7l-1.4 0.0M96.7 189.7l-1.4 0.0M99.4 189.7l-1.4 0.0M102.1 189.7l-1.4 0.0M104.8 189.7l-1.4 0.0M107.5 189.7l-1.4 0.0M110.2 189.7l-1.4 0.0M112.9 189.7l-1.4 0.0M115.6 189.7l-1.4 0.0M118.3 189.7l-1.4 0.0M121.0 189.7l-1.4 0.0M123.7 189.7l-1.4 0.0M126.4 189.7l-1.4 0.0M129.1 189.7l-1.4 0.0M131.8 189.7l-1.4 0.0M134.5 189.7l-1.4 0.0M137.2 189.7l-1.4 0.0M139.9 189.7l-1.4 0.0M29.2 192.3l-1.4 0.0M31.9 192.3l-1.4 0.0M34.6 192.3l-1.4 0.0M37.3 192.3l-1.4 0.0M40.0 192.3l-1.4 0.0M42.7 192.3l-1.4 0.0M45.4 192.3l-1.4 0.0M48.1 192.3l-1.4 0.0M50.8 192.3l-1.4 0.0M53.5 192.3l-1.4 0.0M56.2 192.3l-1.4 0.0M58.9 192.3l-1.4 0.0M61.6 192.3l-1.4 0.0M64.3 192.3l-1.4 0.0M67.0 192.3l-1.4 0.0M69.7 192.3l-1.4 0.0M72.4 192.3l-1.4 0.0M75.1 192.3l-1.4 0.0M77.8 192.3l-1.4 0.0M80.5 192.3l-1.4 0.0M83.2 192.3l-1.4 0.0M85.9 192.3l-1.4 0.0M88.6 192.3l-1.4 0.0M91.3 192.3l-1.4 0.0M94.0 192.3l-1.4 0.0M96.7 192.3l-1.4 0.0M99.4 192.3l-1.4 0.0M102.1 192.3l-1.4 0.0M104.8 192.3l-1.4 0.0M107.5 192.3l-1.4 0.0M110.2 192.3l-1.4 0.0M112.9 192.3l-1.4 0.0M115.6 192.3l-1.4 0.0M118.3 192.3l-1.4 0.0M121.0 192.3l-1.4 0.0M123.7 192.3l-1.4 0.0M126.4 192.3l-1.4 0.0M129.1 192.3l-1.4 0.0M131.8 192.3l-1.4 0.0M134.5 192.3l-1.4 0.0M137.2 192.3l-1.4 0.0M139.9 192.3l-1.4 0.0M29.2 194.8l-1.4 0.0M31.9 194.8l-1.4 0.0M34.6 194.8l-1.4 0.0M37.3 194.8l-1.4 0.0M40.0 194.8l-1.4 0.0M53.5 194.8l-1.4 0.0M56.2 194.8l-1.4 0.0M58.9 194.8l-1.4 0.0M61.6 194.8l-1.4 0.0M64.3 194.8l-1.4 0.0M67.0 194.8l-1.4 0.0M69.7 194.8l-1.4 0.0M72.4 194.8l-1.4 0.0M75.1 194.8l-1.4 0.0M77.8 194.8l-1.4 0.0M80.5 194.8l-1.4 0.0M83.2 194.8l-1.4 0.0M85.9 194.8l-1.4 0.0M88.6 194.8l-1.4 0.0M91.3 194.8l-1.4 0.0M94.0 194.8l-1.4 0.0M96.7 194.8l-1.4 0.0M99.4 194.8l-1.4 0.0M102.1 194.8l-1.4 0.0M104.8 194.8l-1.4 0.0M107.5 194.8l-1.4 0.0M110.2 194.8l-1.4 0.0M112.9 194.8l-1.4 0.0M115.6 194.8l-1.4 0.0M118.3 194.8l-1.4 0.0M121.0 194.8l-1.4 0.0M123.7 194.8l-1.4 0.0M126.4 194.8l-1.4 0.0M129.1 194.8l-1.4 0.0M131.8 194.8l-1.4 0.0M134.5 194.8l-1.4 0.0M137.2 194.8l-1.4 0.0M139.9 194.8l-1.4 0.0M142.6 194.8l-1.4 0.0M29.2 197.4l-1.4 0.0M31.9 197.4l-1.4 0.0M34.6 197.4l-1.4 0.0M142.6 197.4l-1.4 0.0M29.2 199.9l-1.4 0.0M31.9 199.9l-1.4 0.0M34.6 199.9l-1.4 0.0M142.6 199.9l-1.4 0.0M29.2 202.5l-1.4 0.0M31.9 202.5l-1.4 0.0M34.6 202.5l-1.4 0.0M29.2 205.0l-1.4 0.0M31.9 205.0l-1.4 0.0M34.6 205.0l-1.4 0.0M29.2 207.6l-1.4 0.0M31.9 207.6l-1.4 0.0M34.6 207.6l-1.4 0.0M31.9 210.1l-1.4 0.0M34.6 210.1l-1.4 0.0M31.9 212.7l-1.4 0.0M34.6 212.7l-1.4 0.0M37.3 212.7l-1.4 0.0M34.6 215.2l-1.4 0.0M37.3 215.2l-1.4 0.0M40.0 215.2l-1.4 0.0M37.3 217.8l-1.4 0.0M40.0 217.8l-1.4 0.0M42.7 217.8l-1.4 0.0M45.4 217.8l-1.4 0.0M48.1 217.8l-1.4 0.0M50.8 217.8l-1.4 0.0M53.5 217.8l-1.4 0.0"/>
<path stroke="#00e0d0" stroke-opacity=".1" stroke-width="0.9" d="M42.7 170.2l1.1 -0.0M45.4 170.2l1.1 -0.0M48.1 170.2l1.2 -0.0M50.8 170.2l1.2 0.0M43.5 172.8l1.1 -0.0M46.2 172.8l1.1 -0.0M48.9 172.8l1.2 -0.0M51.6 172.8l1.2 0.0"/>
<path stroke="#00e0d0" stroke-opacity=".1" stroke-width="1.0" d="M35.3 220.4l-1.2 0.0M32.6 220.4l-1.1 0.0"/>
<path stroke="#00e0d0" stroke-opacity=".1" stroke-width="1.15" d="M15.6 219.4l0.0 -1.1"/>
<path stroke="#00e0d0" stroke-opacity=".1" stroke-width="1.2" d="M25.0 202.6l0.9 0.1M44.7 204.6l1.1 0.1"/>
<path stroke="#00e0e0" stroke-opacity=".1" stroke-width="1.15" d="M13.0 220.0l0.0 -1.1"/>
<path stroke="#00e030" stroke-opacity=".2" stroke-width="1.0" d="M151.8 180.1l0.1 1.3M151.7 212.5l-0.3 1.5"/>
<path stroke="#00e040" stroke-opacity=".2" stroke-width="1.0" d="M151.0 215.1l-0.6 1.2"/>
<path stroke="#00e050" stroke-opacity=".2" stroke-width="1.0" d="M148.0 217.2l-0.9 1.1M151.6 177.4l0.1 1.3"/>
<path stroke="#00e060" stroke-opacity=".2" stroke-width="1.0" d="M145.4 197.5l0.0 1.3M145.4 200.2l0.0 1.3M149.2 174.2l0.1 1.4M154.4 199.5l0.0 1.3"/>
<path stroke="#00e070" stroke-opacity=".2" stroke-width="0.95" d="M138.0 162.4l1.5 0.1M135.3 165.0l1.5 0.1"/>
<path stroke="#00e070" stroke-opacity=".2" stroke-width="1.0" d="M145.4 192.1l-0.0 1.3M145.4 194.8l-0.0 1.3M145.4 202.9l0.0 1.3M145.4 205.6l-0.0 1.3M147.5 181.8l0.0 1.4M147.4 211.5l-0.2 1.5M147.0 214.2l-0.3 1.3M154.4 204.9l-0.0 1.3"/>
<path stroke="#00e080" stroke-opacity=".2" stroke-width="0.95" d="M140.7 162.6l1.3 0.2M138.0 165.1l1.4 0.1M114.6 167.5l1.5 -0.0M117.3 167.5l1.4 -0.0"/>
<path stroke="#00e080" stroke-opacity=".2" stroke-width="1.0" d="M145.4 189.4l0.0 1.3M147.4 179.1l0.1 1.3M148.7 171.6l0.2 1.2"/>
<path stroke="#00e090" stroke-opacity=".2" stroke-width="0.8" d="M72.4 215.2l-1.4 0.0M75.1 215.2l-1.4 0.0M77.8 215.2l-1.4 0.0M80.5 215.2l-1.4 0.0M83.2 215.2l-1.4 0.0M85.9 215.2l-1.4 0.0M88.6 215.2l-1.4 0.0M91.3 215.2l-1.4 0.0M94.0 215.2l-1.4 0.0M96.7 215.2l-1.4 0.0M99.4 215.2l-1.4 0.0M102.1 215.2l-1.4 0.0M104.8 215.2l-1.4 0.0M107.5 215.2l-1.4 0.0M110.2 215.2l-1.4 0.0M112.9 215.2l-1.4 0.0M115.6 215.2l-1.4 0.0M118.3 215.2l-1.4 0.0M121.0 215.2l-1.4 0.0M123.7 215.2l-1.4 0.0M126.4 215.2l-1.4 0.0M129.1 215.2l-1.4 0.0M131.8 215.2l-1.4 0.0M134.5 215.2l-1.4 0.0M137.2 215.2l-1.4 0.0M139.9 215.2l-1.4 0.0"/>
<path stroke="#00e090" stroke-opacity=".2" stroke-width="0.95" d="M23.9 204.4l0.0 -1.4M95.7 167.3l1.4 0.0M98.4 167.4l1.4 0.0M101.1 167.4l1.4 0.0M103.8 167.4l1.5 0.0M120.0 167.5l1.4 -0.0M122.7 167.4l1.4 -0.0M125.4 167.4l1.4 -0.0M128.1 167.4l1.4 0.0M130.8 167.4l1.4 0.0M133.5 167.5l1.4 0.1M136.2 167.6l1.3 0.1"/>
<path stroke="#00e090" stroke-opacity=".2" stroke-width="1.0" d="M145.4 208.3l-0.1 1.3"/>
<path stroke="#00e0a0" stroke-opacity=".2" stroke-width="0.8" d="M67.0 215.2l-1.4 0.0M69.7 215.2l-1.4 0.0"/>
<path stroke="#00e0a0" stroke-opacity=".2" stroke-width="0.95" d="M23.9 207.1l0.0 -1.3M41.7 166.5l1.5 -0.0M84.9 167.2l1.4 0.0M87.6 167.2l1.4 0.0M90.3 167.3l1.4 0.0M93.0 167.3l1.4 0.0"/>
<path stroke="#00e0b0" stroke-opacity=".2" stroke-width="0.8" d="M61.6 215.2l-1.4 0.0M64.3 215.2l-1.4 0.0"/>
<path stroke="#00e0b0" stroke-opacity=".2" stroke-width="0.9" d="M139.9 171.5l1.4 0.3M129.9 173.4l1.5 0.0M132.6 173.5l1.4 0.1M135.3 173.6l1.4 0.1M138.0 173.8l1.4 0.2"/>
<path stroke="#00e0b0" stroke-opacity=".2" stroke-width="0.95" d="M21.3 213.3l0.0 -1.3M26.8 200.9l0.0 -1.3M44.4 166.4l1.4 0.0M47.1 166.5l1.4 0.0M49.8 166.5l1.3 0.0M52.5 166.5l1.3 0.0M55.2 166.6l1.3 0.0M57.9 166.6l1.3 0.0M60.6 166.7l1.4 0.0M63.3 166.8l1.4 0.0M66.0 166.8l1.4 0.0M68.7 166.9l1.4 0.0M71.4 166.9l1.4 0.0M74.1 167.0l1.4 0.0M76.8 167.0l1.4 0.0M79.5 167.1l1.4 0.0M82.2 167.1l1.4 0.0"/>
<path stroke="#00e0c0" stroke-opacity=".2" stroke-width="0.8" d="M142.6 210.1l-1.4 0.0M56.2 215.2l-1.4 0.0M58.9 215.2l-1.4 0.0"/>
<path stroke="#00e0c0" stroke-opacity=".2" stroke-width="0.9" d="M64.3 170.3l1.4 0.0M67.0 170.3l1.4 0.0M65.1 172.9l1.4 0.0M67.8 172.9l1.4 0.0M70.5 172.9l1.4 0.0M73.2 173.0l1.4 0.0M75.9 173.0l1.4 0.0M78.6 173.1l1.4 0.0M81.3 173.1l1.4 0.0"/>
<path stroke="#00e0d0" stroke-opacity=".2" stroke-width="0.8" d="M42.7 194.8l-1.4 0.0M45.4 194.8l-1.4 0.0M48.1 194.8l-1.4 0.0M50.8 194.8l-1.4 0.0M37.3 197.4l-1.4 0.0M40.0 197.4l-1.4 0.0M42.7 197.4l-1.4 0.0M45.4 197.4l-1.4 0.0M48.1 197.4l-1.4 0.0M50.8 197.4l-1.4 0.0M53.5 197.4l-1.4 0.0M56.2 197.4l-1.4 0.0M58.9 197.4l-1.4 0.0M61.6 197.4l-1.4 0.0M64.3 197.4l-1.4 0.0M67.0 197.4l-1.4 0.0M69.7 197.4l-1.4 0.0M72.4 197.4l-1.4 0.0M75.1 197.4l-1.4 0.0M77.8 197.4l-1.4 0.0M80.5 197.4l-1.4 0.0M83.2 197.4l-1.4 0.0M85.9 197.4l-1.4 0.0M88.6 197.4l-1.4 0.0M91.3 197.4l-1.4 0.0M94.0 197.4l-1.4 0.0M96.7 197.4l-1.4 0.0M99.4 197.4l-1.4 0.0M102.1 197.4l-1.4 0.0M104.8 197.4l-1.4 0.0M107.5 197.4l-1.4 0.0M110.2 197.4l-1.4 0.0M112.9 197.4l-1.4 0.0M115.6 197.4l-1.4 0.0M118.3 197.4l-1.4 0.0M121.0 197.4l-1.4 0.0M123.7 197.4l-1.4 0.0M126.4 197.4l-1.4 0.0M129.1 197.4l-1.4 0.0M131.8 197.4l-1.4 0.0M134.5 197.4l-1.4 0.0M137.2 197.4l-1.4 0.0M139.9 197.4l-1.4 0.0M37.3 199.9l-1.4 0.0M40.0 199.9l-1.4 0.0M69.7 199.9l-1.4 0.0M72.4 199.9l-1.4 0.0M75.1 199.9l-1.4 0.0M123.7 199.9l-1.4 0.0M126.4 199.9l-1.4 0.0M129.1 199.9l-1.4 0.0M131.8 199.9l-1.4 0.0M134.5 199.9l-1.4 0.0M137.2 199.9l-1.4 0.0M139.9 199.9l-1.4 0.0M37.3 202.5l-1.4 0.0M142.6 202.5l-1.4 0.0M37.3 205.0l-1.4 0.0M142.6 205.0l-1.4 0.0M37.3 207.6l-1.4 0.0M142.6 207.6l-1.4 0.0M37.3 210.1l-1.4 0.0M40.0 210.1l-1.4 0.0M40.0 212.7l-1.4 0.0M42.7 212.7l-1.4 0.0M42.7 215.2l-1.4 0.0M45.4 215.2l-1.4 0.0M48.1 215.2l-1.4 0.0M50.8 215.2l-1.4 0.0M53.5 215.2l-1.4 0.0"/>
<path stroke="#00e0d0" stroke-opacity=".2" stroke-width="0.9" d="M53.5 170.2l1.3 0.0M56.2 170.2l1.3 0.0M58.9 170.2l1.3 0.0M61.6 170.2l1.4 0.0M54.3 172.8l1.3 0.0M57.0 172.8l1.3 0.0M59.7 172.8l1.4 0.0M62.4 172.8l1.4 0.0"/>
<path stroke="#00e0d0" stroke-opacity=".2" stroke-width="0.95" d="M26.8 198.2l0.0 -1.3"/>
<path stroke="#00e0d0" stroke-opacity=".2" stroke-width="1.0" d="M48.8 220.4l-1.5 0.0M46.1 220.4l-1.4 0.0M43.4 220.4l-1.4 -0.0M40.7 220.4l-1.4 0.0M38.0 220.4l-1.3 0.0"/>
<path stroke="#00e0d0" stroke-opacity=".2" stroke-width="1.15" d="M18.4 218.8l0.0 -1.2"/>
<path stroke="#00e0d0" stroke-opacity=".2" stroke-width="1.2" d="M27.2 202.9l1.1 0.1"/>
<path stroke="#00e0e0" stroke-opacity=".2" stroke-width="1.4" d="M140.2 202.4l1.2 1.8"/>
<path stroke="#00e0ff" stroke-opacity=".2" stroke-width="0.95" d="M26.8 195.5l0.0 -1.4"/>
<path stroke="#00e000" stroke-opacity=".3" stroke-width="1.0" d="M152.0 188.2l0.0 1.6"/>
<path stroke="#00e010" stroke-opacity=".3" stroke-width="1.0" d="M152.0 185.5l0.0 1.5M151.9 209.8l-0.1 1.6"/>
<path stroke="#00e020" stroke-opacity=".3" stroke-width="1.0" d="M151.9 182.8l0.0 1.4"/>
<path stroke="#00e030" stroke-opacity=".3" stroke-width="1.0" d="M147.6 192.6l-0.0 1.6M149.4 176.9l0.1 1.5M149.0 214.7l-0.5 1.6"/>
<path stroke="#00e040" stroke-opacity=".3" stroke-width="1.0" d="M147.6 187.2l0.0 1.5M147.6 189.9l0.0 1.6"/>
<path stroke="#00e050" stroke-opacity=".3" stroke-width="0.95" d="M46.2 163.9l1.6 0.0M48.9 163.9l1.6 0.0M51.6 163.9l1.6 0.0M54.3 164.0l1.6 0.0M57.0 164.0l1.6 0.0"/>
<path stroke="#00e050" stroke-opacity=".3" stroke-width="1.0" d="M147.5 208.8l-0.1 1.6"/>
<path stroke="#00e060" stroke-opacity=".3" stroke-width="0.95" d="M132.6 162.3l1.7 0.0M59.7 164.1l1.6 0.0M62.4 164.1l1.6 0.0M65.1 164.2l1.6 0.0M67.8 164.3l1.6 0.0M70.5 164.3l1.6 0.0M121.8 164.9l1.7 -0.0M124.5 164.9l1.6 -0.0M127.2 164.9l1.6 0.0M129.9 164.9l1.6 0.0"/>
<path stroke="#00e060" stroke-opacity=".3" stroke-width="1.0" d="M147.6 184.5l0.0 1.5M143.3 220.3l-1.4 0.0"/>
<path stroke="#00e070" stroke-opacity=".3" stroke-width="0.95" d="M135.3 162.4l1.6 0.0M132.6 164.9l1.6 0.0"/>
<path stroke="#00e080" stroke-opacity=".3" stroke-width="0.95" d="M109.2 167.5l1.5 0.0M111.9 167.5l1.5 -0.0"/>
<path stroke="#00e090" stroke-opacity=".3" stroke-width="0.95" d="M23.9 201.7l-0.0 -1.5M23.9 199.0l-0.0 -1.6M106.5 167.5l1.5 0.0"/>
<path stroke="#00e0a0" stroke-opacity=".3" stroke-width="0.8" d="M80.5 212.7l-1.4 0.0M83.2 212.7l-1.4 0.0M85.9 212.7l-1.4 0.0M88.6 212.7l-1.4 0.0M91.3 212.7l-1.4 0.0M94.0 212.7l-1.4 0.0M96.7 212.7l-1.4 0.0M99.4 212.7l-1.4 0.0M102.1 212.7l-1.4 0.0M104.8 212.7l-1.4 0.0M107.5 212.7l-1.4 0.0M110.2 212.7l-1.4 0.0M112.9 212.7l-1.4 0.0M115.6 212.7l-1.4 0.0M118.3 212.7l-1.4 0.0M121.0 212.7l-1.4 0.0M123.7 212.7l-1.4 0.0M126.4 212.7l-1.4 0.0M129.1 212.7l-1.4 0.0M131.8 212.7l-1.4 0.0M134.5 212.7l-1.4 0.0M137.2 212.7l-1.4 0.0M139.9 212.7l-1.4 0.0"/>
<path stroke="#00e0a0" stroke-opacity=".3" stroke-width="0.95" d="M21.3 210.6l0.0 -1.6M26.8 184.7l-0.0 -1.6M26.7 182.0l-0.0 -1.6M26.7 179.3l0.0 -1.6M26.7 176.6l0.1 -1.6M27.0 173.9l0.3 -1.5M27.6 171.3l0.7 -1.4M29.0 169.0l1.1 -1.1M31.1 167.3l1.4 -0.6M33.6 166.4l1.6 -0.0M36.3 166.4l1.6 0.1M39.0 166.5l1.5 -0.0"/>
<path stroke="#00e0b0" stroke-opacity=".3" stroke-width="0.8" d="M67.0 212.7l-1.4 0.0M69.7 212.7l-1.4 0.0M72.4 212.7l-1.4 0.0M75.1 212.7l-1.4 0.0M77.8 212.7l-1.4 0.0"/>
<path stroke="#00e0b0" stroke-opacity=".3" stroke-width="0.9" d="M85.9 170.6l1.6 0.0M88.6 170.6l1.6 0.0M137.2 171.2l1.6 0.2M86.7 173.2l1.5 0.0M89.4 173.3l1.5 0.0M92.1 173.3l1.5 0.0M94.8 173.3l1.5 0.0M97.5 173.4l1.5 0.0M100.2 173.4l1.5 0.0M102.9 173.4l1.5 0.0M105.6 173.4l1.5 0.0M108.3 173.4l1.5 -0.0M111.0 173.4l1.5 -0.0M113.7 173.4l1.5 -0.0M116.4 173.4l1.5 -0.0M119.1 173.4l1.5 -0.0M121.8 173.4l1.5 0.0M124.5 173.4l1.5 0.0M127.2 173.4l1.5 0.0"/>
<path stroke="#00e0b0" stroke-opacity=".3" stroke-width="0.95" d="M26.8 187.4l-0.0 -1.5"/>
<path stroke="#00e0c0" stroke-opacity=".3" stroke-width="0.8" d="M139.9 210.1l-1.4 0.0M56.2 212.7l-1.4 0.0M58.9 212.7l-1.4 0.0M61.6 212.7l-1.4 0.0M64.3 212.7l-1.4 0.0"/>
<path stroke="#00e0c0" stroke-opacity=".3" stroke-width="0.9" d="M69.7 170.3l1.5 0.0M72.4 170.4l1.5 0.0M75.1 170.4l1.5 0.0M77.8 170.5l1.5 0.0M80.5 170.5l1.6 0.0M83.2 170.6l1.6 0.0M84.0 173.2l1.5 0.0"/>
<path stroke="#00e0c0" stroke-opacity=".3" stroke-width="1.15" d="M13.0 217.3l-0.0 -1.5"/>
<path stroke="#00e0d0" stroke-opacity=".3" stroke-width="0.8" d="M42.7 199.9l-1.4 0.0M45.4 199.9l-1.4 0.0M48.1 199.9l-1.4 0.0M50.8 199.9l-1.4 0.0M53.5 199.9l-1.4 0.0M56.2 199.9l-1.4 0.0M58.9 199.9l-1.4 0.0M61.6 199.9l-1.4 0.0M64.3 199.9l-1.4 0.0M67.0 199.9l-1.4 0.0M77.8 199.9l-1.4 0.0M80.5 199.9l-1.4 0.0M83.2 199.9l-1.4 0.0M85.9 199.9l-1.4 0.0M88.6 199.9l-1.4 0.0M91.3 199.9l-1.4 0.0M94.0 199.9l-1.4 0.0M96.7 199.9l-1.4 0.0M99.4 199.9l-1.4 0.0M102.1 199.9l-1.4 0.0M104.8 199.9l-1.4 0.0M107.5 199.9l-1.4 0.0M110.2 199.9l-1.4 0.0M112.9 199.9l-1.4 0.0M115.6 199.9l-1.4 0.0M118.3 199.9l-1.4 0.0M121.0 199.9l-1.4 0.0M40.0 202.5l-1.4 0.0M42.7 202.5l-1.4 0.0M45.4 202.5l-1.4 0.0M58.9 202.5l-1.4 0.0M61.6 202.5l-1.4 0.0M64.3 202.5l-1.4 0.0M67.0 202.5l-1.4 0.0M69.7 202.5l-1.4 0.0M72.4 202.5l-1.4 0.0M75.1 202.5l-1.4 0.0M77.8 202.5l-1.4 0.0M80.5 202.5l-1.4 0.0M83.2 202.5l-1.4 0.0M85.9 202.5l-1.4 0.0M88.6 202.5l-1.4 0.0M91.3 202.5l-1.4 0.0M94.0 202.5l-1.4 0.0M96.7 202.5l-1.4 0.0M99.4 202.5l-1.4 0.0M102.1 202.5l-1.4 0.0M104.8 202.5l-1.4 0.0M107.5 202.5l-1.4 0.0M110.2 202.5l-1.4 0.0M112.9 202.5l-1.4 0.0M115.6 202.5l-1.4 0.0M118.3 202.5l-1.4 0.0M121.0 202.5l-1.4 0.0M123.7 202.5l-1.4 0.0M126.4 202.5l-1.4 0.0M129.1 202.5l-1.4 0.0M131.8 202.5l-1.4 0.0M134.5 202.5l-1.4 0.0M137.2 202.5l-1.4 0.0M139.9 202.5l-1.4 0.0M40.0 205.0l-1.4 0.0M42.7 205.0l-1.4 0.0M40.0 207.6l-1.4 0.0M42.7 207.6l-1.4 0.0M42.7 210.1l-1.4 0.0M45.4 210.1l-1.4 0.0M45.4 212.7l-1.4 0.0M48.1 212.7l-1.4 0.0M50.8 212.7l-1.4 0.0M53.5 212.7l-1.4 0.0"/>
<path stroke="#00e0d0" stroke-opacity=".3" stroke-width="0.95" d="M26.8 190.1l-0.0 -1.5"/>
<path stroke="#00e0d0" stroke-opacity=".3" stroke-width="1.0" d="M70.4 220.4l-1.7 0.0M67.7 220.4l-1.6 0.0M65.0 220.4l-1.6 0.0M62.3 220.4l-1.6 -0.0M59.6 220.4l-1.6 0.0M56.9 220.4l-1.5 0.0M54.2 220.4l-1.5 -0.0M51.5 220.4l-1.5 0.0"/>
<path stroke="#00e0d0" stroke-opacity=".3" stroke-width="1.2" d="M29.4 203.1l1.3 0.1M42.5 204.4l1.2 0.1"/>
<path stroke="#00e0f0" stroke-opacity=".3" stroke-width="0.95" d="M26.8 192.8l-0.0 -1.5"/>
<path stroke="#00e000" stroke-opacity=".4" stroke-width="1.0" d="M149.6 179.6l0.1 1.6"/>
<path stroke="#00e010" stroke-opacity=".4" stroke-width="1.0" d="M147.6 198.0l0.0 1.7"/>
<path stroke="#00e020" stroke-opacity=".4" stroke-width="1.0" d="M147.6 195.3l-0.0 1.7M147.6 200.7l0.0 1.7"/>
<path stroke="#00e030" stroke-opacity=".4" stroke-width="0.95" d="M23.9 188.2l0.0 -1.8M23.9 185.5l-0.0 -1.8M23.9 182.8l-0.0 -1.8M23.8 180.1l-0.0 -1.8M23.8 177.4l0.0 -1.8M23.8 174.7l0.1 -1.8M24.0 172.0l0.3 -1.8M24.5 169.4l0.8 -1.7M25.7 167.0l1.2 -1.4M27.6 165.0l1.6 -0.9M30.0 163.9l1.8 -0.1M32.7 163.8l1.8 0.1M35.4 163.9l1.8 -0.0M38.1 163.9l1.8 -0.0"/>
<path stroke="#00e030" stroke-opacity=".4" stroke-width="1.0" d="M147.6 203.4l-0.0 1.7M147.6 206.1l-0.0 1.7"/>
<path stroke="#00e040" stroke-opacity=".4" stroke-width="0.95" d="M121.8 162.3l1.8 -0.0M40.8 163.9l1.7 -0.0M43.5 163.8l1.7 0.0"/>
<path stroke="#00e050" stroke-opacity=".4" stroke-width="0.95" d="M124.5 162.3l1.8 0.0M127.2 162.3l1.8 0.0M23.9 190.9l-0.0 -1.8M102.9 164.8l1.7 0.0M105.6 164.9l1.7 0.0M108.3 164.9l1.7 0.0M111.0 164.9l1.7 0.0M113.7 164.9l1.7 -0.0M116.4 164.9l1.7 -0.0"/>
<path stroke="#00e050" stroke-opacity=".4" stroke-width="1.0" d="M140.6 220.4l-1.7 0.0"/>
<path stroke="#00e060" stroke-opacity=".4" stroke-width="0.95" d="M129.9 162.3l1.7 0.0M73.2 164.4l1.7 0.0M75.9 164.4l1.7 0.0M78.6 164.5l1.7 0.0M81.3 164.5l1.7 0.0M84.0 164.6l1.7 0.0M86.7 164.6l1.7 0.0M89.4 164.6l1.7 0.0M92.1 164.7l1.7 0.0M94.8 164.7l1.7 0.0M97.5 164.8l1.7 0.0M100.2 164.8l1.7 0.0M119.1 164.9l1.7 -0.0"/>
<path stroke="#00e070" stroke-opacity=".4" stroke-width="0.95" d="M23.9 193.6l0.0 -1.7"/>
<path stroke="#00e080" stroke-opacity=".4" stroke-width="0.95" d="M23.9 196.3l0.0 -1.7"/>
<path stroke="#00e0a0" stroke-opacity=".4" stroke-width="1.0" d="M89.3 220.4l-1.8 -0.0"/>
<path stroke="#00e0b0" stroke-opacity=".4" stroke-width="0.9" d="M91.3 170.7l1.7 0.0M94.0 170.7l1.7 0.0M96.7 170.8l1.7 0.0M99.4 170.8l1.7 0.0M102.1 170.8l1.7 0.0M104.8 170.8l1.7 0.0M107.5 170.8l1.7 -0.0M110.2 170.8l1.7 -0.0M112.9 170.8l1.7 -0.0M115.6 170.8l1.7 -0.0M118.3 170.8l1.7 -0.0M121.0 170.8l1.7 -0.0M123.7 170.8l1.7 0.0M126.4 170.8l1.7 0.0M129.1 170.8l1.7 0.0M131.8 170.9l1.7 0.1M134.5 171.0l1.7 0.1"/>
<path stroke="#00e0b0" stroke-opacity=".4" stroke-width="1.0" d="M86.6 220.4l-1.8 -0.0M83.9 220.4l-1.8 -0.0M81.2 220.4l-1.8 0.0"/>
<path stroke="#00e0b0" stroke-opacity=".4" stroke-width="1.15" d="M15.6 216.7l0.0 -1.6M18.4 216.1l0.0 -1.6"/>
<path stroke="#00e0c0" stroke-opacity=".4" stroke-width="0.8" d="M64.3 210.1l-1.4 0.0M67.0 210.1l-1.4 0.0M69.7 210.1l-1.4 0.0M72.4 210.1l-1.4 0.0M75.1 210.1l-1.4 0.0M77.8 210.1l-1.4 0.0M80.5 210.1l-1.4 0.0M83.2 210.1l-1.4 0.0M85.9 210.1l-1.4 0.0M88.6 210.1l-1.4 0.0M91.3 210.1l-1.4 0.0M94.0 210.1l-1.4 0.0M96.7 210.1l-1.4 0.0M99.4 210.1l-1.4 0.0M102.1 210.1l-1.4 0.0M104.8 210.1l-1.4 0.0M107.5 210.1l-1.4 0.0M110.2 210.1l-1.4 0.0M112.9 210.1l-1.4 0.0M115.6 210.1l-1.4 0.0M118.3 210.1l-1.4 0.0M121.0 210.1l-1.4 0.0M123.7 210.1l-1.4 0.0M126.4 210.1l-1.4 0.0M129.1 210.1l-1.4 0.0M131.8 210.1l-1.4 0.0M134.5 210.1l-1.4 0.0M137.2 210.1l-1.4 0.0"/>
<path stroke="#00e0c0" stroke-opacity=".4" stroke-width="1.0" d="M78.5 220.4l-1.7 0.0M75.8 220.4l-1.7 -0.0M73.1 220.4l-1.7 0.0"/>
<path stroke="#00e0d0" stroke-opacity=".4" stroke-width="0.8" d="M48.1 202.5l-1.4 0.0M50.8 202.5l-1.4 0.0M53.5 202.5l-1.4 0.0M56.2 202.5l-1.4 0.0M45.4 205.0l-1.4 0.0M48.1 205.0l-1.4 0.0M50.8 205.0l-1.4 0.0M53.5 205.0l-1.4 0.0M56.2 205.0l-1.4 0.0M58.9 205.0l-1.4 0.0M61.6 205.0l-1.4 0.0M64.3 205.0l-1.4 0.0M67.0 205.0l-1.4 0.0M69.7 205.0l-1.4 0.0M72.4 205.0l-1.4 0.0M75.1 205.0l-1.4 0.0M77.8 205.0l-1.4 0.0M80.5 205.0l-1.4 0.0M83.2 205.0l-1.4 0.0M85.9 205.0l-1.4 0.0M88.6 205.0l-1.4 0.0M91.3 205.0l-1.4 0.0M94.0 205.0l-1.4 0.0M96.7 205.0l-1.4 0.0M99.4 205.0l-1.4 0.0M102.1 205.0l-1.4 0.0M104.8 205.0l-1.4 0.0M107.5 205.0l-1.4 0.0M110.2 205.0l-1.4 0.0M112.9 205.0l-1.4 0.0M115.6 205.0l-1.4 0.0M118.3 205.0l-1.4 0.0M121.0 205.0l-1.4 0.0M123.7 205.0l-1.4 0.0M126.4 205.0l-1.4 0.0M129.1 205.0l-1.4 0.0M131.8 205.0l-1.4 0.0M134.5 205.0l-1.4 0.0M137.2 205.0l-1.4 0.0M139.9 205.0l-1.4 0.0M45.4 207.6l-1.4 0.0M48.1 207.6l-1.4 0.0M50.8 207.6l-1.4 0.0M53.5 207.6l-1.4 0.0M56.2 207.6l-1.4 0.0M58.9 207.6l-1.4 0.0M61.6 207.6l-1.4 0.0M64.3 207.6l-1.4 0.0M67.0 207.6l-1.4 0.0M69.7 207.6l-1.4 0.0M72.4 207.6l-1.4 0.0M75.1 207.6l-1.4 0.0M77.8 207.6l-1.4 0.0M80.5 207.6l-1.4 0.0M83.2 207.6l-1.4 0.0M85.9 207.6l-1.4 0.0M88.6 207.6l-1.4 0.0M91.3 207.6l-1.4 0.0M94.0 207.6l-1.4 0.0M96.7 207.6l-1.4 0.0M99.4 207.6l-1.4 0.0M102.1 207.6l-1.4 0.0M104.8 207.6l-1.4 0.0M107.5 207.6l-1.4 0.0M110.2 207.6l-1.4 0.0M112.9 207.6l-1.4 0.0M115.6 207.6l-1.4 0.0M118.3 207.6l-1.4 0.0M121.0 207.6l-1.4 0.0M123.7 207.6l-1.4 0.0M126.4 207.6l-1.4 0.0M129.1 207.6l-1.4 0.0M131.8 207.6l-1.4 0.0M134.5 207.6l-1.4 0.0M137.2 207.6l-1.4 0.0M139.9 207.6l-1.4 0.0M48.1 210.1l-1.4 0.0M50.8 210.1l-1.4 0.0M53.5 210.1l-1.4 0.0M56.2 210.1l-1.4 0.0M58.9 210.1l-1.4 0.0M61.6 210.1l-1.4 0.0"/>
<path stroke="#00e0d0" stroke-opacity=".4" stroke-width="1.2" d="M31.6 203.4l1.4 0.1M33.7 203.6l1.4 0.1M35.9 203.8l1.4 0.1M38.1 204.0l1.4 0.1M40.3 204.2l1.4 0.1"/>
<path stroke="#10e000" stroke-opacity=".4" stroke-width="1.0" d="M149.7 182.3l0.0 1.8M152.0 190.9l-0.0 1.7M152.0 207.1l-0.0 1.8"/>
<path stroke="#20e000" stroke-opacity=".4" stroke-width="1.0" d="M152.0 193.6l-0.0 1.7M152.0 201.7l0.0 1.8M152.0 204.4l-0.0 1.8"/>
<path stroke="#30e000" stroke-opacity=".4" stroke-width="1.0" d="M152.0 196.3l-0.0 1.8M152.0 199.0l0.0 1.8"/>
<path stroke="#00e000" stroke-opacity=".5" stroke-width="0.95" d="M78.6 162.1l2.0 0.0M81.3 162.1l2.0 0.0"/>
<path stroke="#00e000" stroke-opacity=".5" stroke-width="1.0" d="M149.6 212.0l-0.3 1.9"/>
<path stroke="#00e010" stroke-opacity=".5" stroke-width="0.95" d="M84.0 162.1l2.0 0.0M86.7 162.2l2.0 0.0M89.4 162.2l2.0 0.0M92.1 162.2l2.0 0.0"/>
<path stroke="#00e020" stroke-opacity=".5" stroke-width="0.95" d="M94.8 162.2l2.0 0.0M97.5 162.3l2.0 0.0M100.2 162.3l2.0 0.0M102.9 162.3l2.0 0.0"/>
<path stroke="#00e030" stroke-opacity=".5" stroke-width="0.95" d="M105.6 162.3l2.0 0.0M108.3 162.3l1.9 0.0M111.0 162.3l1.9 -0.0"/>
<path stroke="#00e040" stroke-opacity=".5" stroke-width="0.95" d="M21.3 205.2l0.0 -1.9M113.7 162.3l1.9 -0.0M116.4 162.3l1.9 -0.0M119.1 162.3l1.9 -0.0"/>
<path stroke="#00e050" stroke-opacity=".5" stroke-width="1.0" d="M137.9 220.4l-1.9 0.0M135.2 220.4l-2.0 0.0M132.5 220.4l-2.0 -0.0"/>
<path stroke="#00e070" stroke-opacity=".5" stroke-width="1.0" d="M110.9 220.4l-2.0 0.0"/>
<path stroke="#00e070" stroke-opacity=".5" stroke-width="1.15" d="M18.4 213.4l0.0 -1.9"/>
<path stroke="#00e080" stroke-opacity=".5" stroke-width="0.95" d="M21.3 207.9l0.0 -1.8"/>
<path stroke="#00e080" stroke-opacity=".5" stroke-width="1.0" d="M108.2 220.4l-2.0 -0.0M105.5 220.4l-2.0 -0.0"/>
<path stroke="#00e080" stroke-opacity=".5" stroke-width="1.15" d="M15.6 214.0l-0.0 -1.9"/>
<path stroke="#00e090" stroke-opacity=".5" stroke-width="1.0" d="M102.8 220.4l-2.0 -0.0M100.1 220.4l-1.9 0.0M97.4 220.4l-1.9 0.0"/>
<path stroke="#00e090" stroke-opacity=".5" stroke-width="1.15" d="M13.0 214.6l0.0 -1.9"/>
<path stroke="#00e0a0" stroke-opacity=".5" stroke-width="1.0" d="M94.7 220.4l-1.9 -0.0M92.0 220.4l-1.9 0.0"/>
<path stroke="#10e000" stroke-opacity=".5" stroke-width="0.95" d="M70.5 161.9l2.0 0.0M73.2 162.0l2.0 0.0M75.9 162.0l2.0 0.0"/>
<path stroke="#20e000" stroke-opacity=".5" stroke-width="1.0" d="M149.8 185.0l0.0 2.0"/>
<path stroke="#00e000" stroke-opacity=".6" stroke-width="0.95" d="M21.3 202.5l0.0 -2.1"/>
<path stroke="#00e030" stroke-opacity=".6" stroke-width="1.15" d="M18.4 210.7l0.0 -2.1"/>
<path stroke="#00e050" stroke-opacity=".6" stroke-width="1.0" d="M129.8 220.4l-2.0 -0.0M127.1 220.4l-2.1 -0.0M124.4 220.4l-2.1 -0.0M121.7 220.4l-2.1 -0.0"/>
<path stroke="#00e050" stroke-opacity=".6" stroke-width="1.15" d="M13.0 211.9l0.0 -2.1"/>
<path stroke="#00e060" stroke-opacity=".6" stroke-width="1.0" d="M119.0 220.4l-2.1 0.0M116.3 220.4l-2.1 0.0"/>
<path stroke="#00e070" stroke-opacity=".6" stroke-width="1.0" d="M113.6 220.4l-2.1 0.0"/>
<path stroke="#20e000" stroke-opacity=".6" stroke-width="0.95" d="M67.8 161.9l2.1 0.0"/>
<path stroke="#20e000" stroke-opacity=".6" stroke-width="1.0" d="M149.7 209.3l-0.1 2.2"/>
<path stroke="#30e000" stroke-opacity=".6" stroke-width="0.95" d="M62.5 161.8l2.1 0.0M65.2 161.8l2.1 0.0"/>
<path stroke="#30e000" stroke-opacity=".6" stroke-width="1.0" d="M149.8 187.7l0.0 2.1"/>
<path stroke="#40e000" stroke-opacity=".6" stroke-width="0.95" d="M57.1 161.6l2.2 0.1M59.8 161.7l2.1 0.1"/>
<path stroke="#00e000" stroke-opacity=".7" stroke-width="1.15" d="M15.6 208.6l0.0 -2.4"/>
<path stroke="#00e010" stroke-opacity=".7" stroke-width="1.15" d="M13.0 209.2l0.0 -2.3"/>
<path stroke="#00e040" stroke-opacity=".7" stroke-width="1.15" d="M15.6 211.3l0.0 -2.2"/>
<path stroke="#10e000" stroke-opacity=".7" stroke-width="1.15" d="M18.4 208.0l0.0 -2.3"/>
<path stroke="#30e000" stroke-opacity=".7" stroke-width="0.95" d="M21.3 199.8l0.0 -2.2"/>
<path stroke="#40e000" stroke-opacity=".7" stroke-width="1.0" d="M149.8 190.4l-0.0 2.2M149.8 206.6l-0.1 2.4"/>
<path stroke="#50e000" stroke-opacity=".7" stroke-width="0.95" d="M21.3 197.1l0.0 -2.3M54.4 161.5l2.3 0.1"/>
<path stroke="#50e000" stroke-opacity=".7" stroke-width="1.0" d="M149.8 193.1l-0.0 2.3"/>
<path stroke="#60e000" stroke-opacity=".7" stroke-width="0.95" d="M51.7 161.4l2.4 0.1"/>
<path stroke="#60e000" stroke-opacity=".7" stroke-width="1.0" d="M149.8 195.8l-0.0 2.4"/>
<path stroke="#30e000" stroke-opacity=".8" stroke-width="1.15" d="M13.0 206.5l0.0 -2.4"/>
<path stroke="#40e000" stroke-opacity=".8" stroke-width="1.15" d="M15.6 205.9l-0.0 -2.5"/>
<path stroke="#50e000" stroke-opacity=".8" stroke-width="1.0" d="M149.8 201.2l0.0 2.4M149.8 203.9l-0.0 2.4"/>
<path stroke="#50e000" stroke-opacity=".8" stroke-width="1.15" d="M18.4 205.3l-0.0 -2.4"/>
<path stroke="#60d000" stroke-opacity=".8" stroke-width="0.95" d="M21.3 194.4l0.0 -2.4M46.3 161.3l2.6 0.1M49.0 161.4l2.5 0.1"/>
<path stroke="#60d000" stroke-opacity=".8" stroke-width="1.15" d="M13.0 203.8l0.0 -2.6"/>
<path stroke="#60e000" stroke-opacity=".8" stroke-width="1.0" d="M149.8 198.5l0.0 2.4"/>
<path stroke="#70d000" stroke-opacity=".8" stroke-width="0.95" d="M21.3 191.7l0.0 -2.5M23.9 162.5l1.4 -2.2M25.4 160.3l2.3 -1.1M27.8 159.2l2.4 1.1M43.6 161.3l2.6 -0.0"/>
<path stroke="#70d000" stroke-opacity=".8" stroke-width="1.15" d="M18.4 202.6l0.0 -2.5"/>
<path stroke="#80d000" stroke-opacity=".8" stroke-width="0.95" d="M21.3 189.0l0.0 -2.5M30.2 160.3l2.5 0.9M35.5 161.4l2.6 -0.0M38.2 161.4l2.6 -0.1M40.9 161.4l2.6 -0.1"/>
<path stroke="#90d000" stroke-opacity=".8" stroke-width="0.95" d="M21.3 186.3l-0.0 -2.6M21.3 183.6l-0.0 -2.6M21.2 180.9l-0.0 -2.6M21.2 178.2l-0.0 -2.6M21.2 175.5l0.0 -2.6M21.2 172.8l0.1 -2.6M21.3 170.1l0.3 -2.6M21.7 167.4l1.0 -2.4M22.7 165.0l1.2 -2.3M32.8 161.2l2.6 0.2"/>
<path stroke="#70d000" stroke-opacity=".9" stroke-width="1.15" d="M15.6 203.2l-0.0 -2.6"/>
<path stroke="#90d000" stroke-opacity=".9" stroke-width="1.15" d="M18.4 199.9l-0.0 -2.6"/>
<path stroke="#a0d000" stroke-opacity=".9" stroke-width="1.15" d="M15.6 200.5l-0.0 -2.7"/>
<path stroke="#b0d000" stroke-opacity=".9" stroke-width="1.15" d="M13.0 201.1l0.0 -2.7M18.4 197.2l0.0 -2.7"/>
<path stroke="#40e000" stroke-width="1.15" d="M21.7 157.2l0.2 -0.4"/>
<path stroke="#60d000" stroke-width="1.15" d="M14.0 158.0l0.2 -1.2M20.6 159.7l1.1 -2.6"/>
<path stroke="#60e000" stroke-width="1.15" d="M17.7 157.5l0.3 -1.1"/>
<path stroke="#90d000" stroke-width="1.15" d="M17.0 160.1l0.8 -2.7"/>
<path stroke="#a0d000" stroke-width="1.15" d="M19.7 162.2l1.0 -2.6"/>
<path stroke="#b0d000" stroke-width="1.15" d="M13.6 160.6l0.4 -2.8"/>
<path stroke="#c0d000" stroke-width="1.15" d="M18.4 194.5l0.0 -2.8"/>
<path stroke="#d0d000" stroke-width="1.15" d="M19.0 164.8l0.7 -2.7"/>
<path stroke="#d0e000" stroke-width="1.15" d="M15.6 197.8l0.0 -2.8"/>
<path stroke="#e09000" stroke-width="1.15" d="M15.6 170.8l0.1 -2.8"/>
<path stroke="#e0a000" stroke-width="1.15" d="M13.3 163.3l0.3 -2.8M15.6 189.7l-0.0 -2.8M15.7 168.1l0.2 -2.8"/>
<path stroke="#e0b000" stroke-width="1.15" d="M15.6 192.4l0.0 -2.8"/>
<path stroke="#e0c000" stroke-width="1.15" d="M13.0 198.4l0.0 -2.8M15.9 165.4l0.4 -2.8M18.4 186.4l-0.0 -2.8M18.4 183.7l-0.0 -2.8M18.4 181.0l-0.0 -2.8M18.3 178.3l-0.0 -2.8M18.3 175.6l0.0 -2.8M18.4 172.9l0.1 -2.8"/>
<path stroke="#e0d000" stroke-width="1.15" d="M15.6 195.1l0.0 -2.8M18.4 189.1l-0.0 -2.8M18.4 170.2l0.2 -2.8"/>
<path stroke="#e0e000" stroke-width="1.15" d="M16.3 162.7l0.7 -2.8M18.4 191.8l0.0 -2.8M18.6 167.5l0.4 -2.8"/>
<path stroke="#f04010" stroke-width="1.15" d="M13.0 184.9l-0.0 -2.8M13.0 182.2l-0.0 -2.8M13.0 179.5l-0.0 -2.8M13.0 176.8l0.0 -2.8M13.0 174.1l0.0 -2.8M13.0 171.4l0.0 -2.8"/>
<path stroke="#f05010" stroke-width="1.15" d="M13.0 187.6l-0.0 -2.8"/>
<path stroke="#f06010" stroke-width="1.15" d="M13.0 190.3l0.0 -2.8M13.0 168.7l0.1 -2.8"/>
<path stroke="#f07010" stroke-width="1.15" d="M13.1 166.0l0.2 -2.8"/>
<path stroke="#f08010" stroke-width="1.15" d="M13.0 193.0l0.0 -2.8"/>
<path stroke="#f09010" stroke-width="1.15" d="M15.6 184.3l-0.0 -2.8M15.6 181.6l-0.0 -2.8M15.6 178.9l-0.0 -2.8M15.6 176.2l0.0 -2.8M15.6 173.5l0.0 -2.8"/>
<path stroke="#f0a010" stroke-width="1.15" d="M13.0 195.7l0.0 -2.8M15.6 187.0l-0.0 -2.8"/>
</g>
<g fill="none" stroke-linecap="round" filter="url(#soft)">
</g>
<rect x="9.6" y="226.8" width="148.4" height="12.0" fill="url(#jet)"/>
</g>
<g id="panel5">
<rect x="196.4" y="158.6" width="147.3" height="61.9" fill="none" stroke="#d2d2d2" stroke-width="1"/>
<line x1="195.9" y1="158.6" x2="344.2" y2="158.6" stroke="#b6b6b6" stroke-width="1"/>
<g fill="none" stroke-linecap="round" filter="url(#soft)">
<path stroke="#00e000" stroke-opacity=".1" stroke-width="1.1" d="M262.0 197.0l0.1 0.9"/>
<path stroke="#00e0c0" stroke-opacity=".1" stroke-width="1.0" d="M209.8 163.1l-1.2 0.0M330.2 163.1l1.2 0.0"/>
<path stroke="#00e0c0" stroke-opacity=".1" stroke-width="1.1" d="M265.3 216.5l0.0 -1.1"/>
<path stroke="#00e0d0" stroke-opacity=".1" stroke-width="0.8" d="M218.3 166.2l1.4 0.0M221.0 166.2l1.4 0.0M223.7 166.2l1.4 0.0M226.4 166.2l1.4 0.0M229.1 166.2l1.4 0.0M231.8 166.2l1.4 0.0M234.5 166.2l1.4 0.0M237.2 166.2l1.4 0.0M239.9 166.2l1.4 0.0M242.6 166.2l1.4 0.0M245.3 166.2l1.4 0.0M248.0 166.2l1.4 0.0M291.2 166.2l-1.4 0.0M293.9 166.2l-1.4 0.0M296.6 166.2l-1.4 0.0M299.3 166.2l-1.4 0.0M302.0 166.2l-1.4 0.0M304.7 166.2l-1.4 0.0M307.4 166.2l-1.4 0.0M310.1 166.2l-1.4 0.0M312.8 166.2l-1.4 0.0M315.5 166.2l-1.4 0.0M318.2 166.2l-1.4 0.0M320.9 166.2l-1.4 0.0M212.9 168.8l1.4 0.0M215.6 168.8l1.4 0.0M218.3 168.8l1.4 0.0M221.0 168.8l1.4 0.0M223.7 168.8l1.4 0.0M226.4 168.8l1.4 0.0M229.1 168.8l1.4 0.0M231.8 168.8l1.4 0.0M234.5 168.8l1.4 0.0M237.2 168.8l1.4 0.0M239.9 168.8l1.4 0.0M242.6 168.8l1.4 0.0M245.3 168.8l1.4 0.0M248.0 168.8l1.4 0.0M250.7 168.8l1.4 0.0M253.4 168.8l1.4 0.0M285.8 168.8l-1.4 0.0M288.5 168.8l-1.4 0.0M291.2 168.8l-1.4 0.0M293.9 168.8l-1.4 0.0M296.6 168.8l-1.4 0.0M299.3 168.8l-1.4 0.0M302.0 168.8l-1.4 0.0M304.7 168.8l-1.4 0.0M307.4 168.8l-1.4 0.0M310.1 168.8l-1.4 0.0M312.8 168.8l-1.4 0.0M315.5 168.8l-1.4 0.0M318.2 168.8l-1.4 0.0M320.9 168.8l-1.4 0.0M323.6 168.8l-1.4 0.0M326.3 168.8l-1.4 0.0M210.2 171.3l1.4 0.0M212.9 171.3l1.4 0.0M215.6 171.3l1.4 0.0M218.3 171.3l1.4 0.0M221.0 171.3l1.4 0.0M223.7 171.3l1.4 0.0M226.4 171.3l1.4 0.0M229.1 171.3l1.4 0.0M231.8 171.3l1.4 0.0M234.5 171.3l1.4 0.0M237.2 171.3l1.4 0.0M239.9 171.3l1.4 0.0M242.6 171.3l1.4 0.0M245.3 171.3l1.4 0.0M248.0 171.3l1.4 0.0M250.7 171.3l1.4 0.0M253.4 171.3l1.4 0.0M285.8 171.3l-1.4 0.0M288.5 171.3l-1.4 0.0M291.2 171.3l-1.4 0.0M293.9 171.3l-1.4 0.0M296.6 171.3l-1.4 0.0M299.3 171.3l-1.4 0.0M302.0 171.3l-1.4 0.0M304.7 171.3l-1.4 0.0M307.4 171.3l-1.4 0.0M310.1 171.3l-1.4 0.0M312.8 171.3l-1.4 0.0M315.5 171.3l-1.4 0.0M318.2 171.3l-1.4 0.0M320.9 171.3l-1.4 0.0M323.6 171.3l-1.4 0.0M326.3 171.3l-1.4 0.0M329.0 171.3l-1.4 0.0M331.7 171.3l-1.4 0.0M207.5 173.9l1.4 0.0M210.2 173.9l1.4 0.0M212.9 173.9l1.4 0.0M215.6 173.9l1.4 0.0M218.3 173.9l1.4 0.0M221.0 173.9l1.4 0.0M223.7 173.9l1.4 0.0M226.4 173.9l1.4 0.0M229.1 173.9l1.4 0.0M239.9 173.9l1.4 0.0M242.6 173.9l1.4 0.0M245.3 173.9l1.4 0.0M248.0 173.9l1.4 0.0M250.7 173.9l1.4 0.0M253.4 173.9l1.4 0.0M285.8 173.9l-1.4 0.0M288.5 173.9l-1.4 0.0M291.2 173.9l-1.4 0.0M293.9 173.9l-1.4 0.0M296.6 173.9l-1.4 0.0M299.3 173.9l-1.4 0.0M312.8 173.9l-1.4 0.0M315.5 173.9l-1.4 0.0M318.2 173.9l-1.4 0.0M320.9 173.9l-1.4 0.0M323.6 173.9l-1.4 0.0M326.3 173.9l-1.4 0.0M329.0 173.9l-1.4 0.0M331.7 173.9l-1.4 0.0M334.4 173.9l-1.4 0.0M204.8 176.4l1.4 0.0M207.5 176.4l1.4 0.0M210.2 176.4l1.4 0.0M212.9 176.4l1.4 0.0M215.6 176.4l1.4 0.0M218.3 176.4l1.4 0.0M221.0 176.4l1.4 0.0M245.3 176.4l1.4 0.0M248.0 176.4l1.4 0.0M250.7 176.4l1.4 0.0M253.4 176.4l1.4 0.0M256.1 176.4l1.4 0.0M285.8 176.4l-1.4 0.0M288.5 176.4l-1.4 0.0M291.2 176.4l-1.4 0.0M293.9 176.4l-1.4 0.0M318.2 176.4l-1.4 0.0M320.9 176.4l-1.4 0.0M323.6 176.4l-1.4 0.0M326.3 176.4l-1.4 0.0M329.0 176.4l-1.4 0.0M331.7 176.4l-1.4 0.0M334.4 176.4l-1.4 0.0M204.8 179.0l1.4 0.0M207.5 179.0l1.4 0.0M210.2 179.0l1.4 0.0M212.9 179.0l1.4 0.0M215.6 179.0l1.4 0.0M218.3 179.0l1.4 0.0M248.0 179.0l1.4 0.0M250.7 179.0l1.4 0.0M253.4 179.0l1.4 0.0M256.1 179.0l1.4 0.0M285.8 179.0l-1.4 0.0M288.5 179.0l-1.4 0.0M291.2 179.0l-1.4 0.0M320.9 179.0l-1.4 0.0M323.6 179.0l-1.4 0.0M326.3 179.0l-1.4 0.0M329.0 179.0l-1.4 0.0M331.7 179.0l-1.4 0.0M334.4 179.0l-1.4 0.0M337.1 179.0l-1.4 0.0M204.8 181.5l1.4 0.0M207.5 181.5l1.4 0.0M210.2 181.5l1.4 0.0M212.9 181.5l1.4 0.0M215.6 181.5l1.4 0.0M218.3 181.5l1.4 0.0M248.0 181.5l1.4 0.0M250.7 181.5l1.4 0.0M253.4 181.5l1.4 0.0M256.1 181.5l1.4 0.0M285.8 181.5l-1.4 0.0M288.5 181.5l-1.4 0.0M291.2 181.5l-1.4 0.0M320.9 181.5l-1.4 0.0M323.6 181.5l-1.4 0.0M326.3 181.5l-1.4 0.0M329.0 181.5l-1.4 0.0M331.7 181.5l-1.4 0.0M334.4 181.5l-1.4 0.0M337.1 181.5l-1.4 0.0M204.8 184.1l1.4 0.0M207.5 184.1l1.4 0.0M210.2 184.1l1.4 0.0M212.9 184.1l1.4 0.0M215.6 184.1l1.4 0.0M218.3 184.1l1.4 0.0M221.0 184.1l1.4 0.0M248.0 184.1l1.4 0.0M250.7 184.1l1.4 0.0M253.4 184.1l1.4 0.0M256.1 184.1l1.4 0.0M285.8 184.1l-1.4 0.0M288.5 184.1l-1.4 0.0M291.2 184.1l-1.4 0.0M320.9 184.1l-1.4 0.0M323.6 184.1l-1.4 0.0M326.3 184.1l-1.4 0.0M329.0 184.1l-1.4 0.0M331.7 184.1l-1.4 0.0M334.4 184.1l-1.4 0.0M337.1 184.1l-1.4 0.0M204.8 186.6l1.4 0.0M207.5 186.6l1.4 0.0M210.2 186.6l1.4 0.0M212.9 186.6l1.4 0.0M215.6 186.6l1.4 0.0M218.3 186.6l1.4 0.0M221.0 186.6l1.4 0.0M223.7 186.6l1.4 0.0M245.3 186.6l1.4 0.0M248.0 186.6l1.4 0.0M250.7 186.6l1.4 0.0M253.4 186.6l1.4 0.0M256.1 186.6l1.4 0.0M285.8 186.6l-1.4 0.0M288.5 186.6l-1.4 0.0M291.2 186.6l-1.4 0.0M293.9 186.6l-1.4 0.0M318.2 186.6l-1.4 0.0M320.9 186.6l-1.4 0.0M323.6 186.6l-1.4 0.0M326.3 186.6l-1.4 0.0M329.0 186.6l-1.4 0.0M331.7 186.6l-1.4 0.0M334.4 186.6l-1.4 0.0M207.5 189.2l1.4 0.0M210.2 189.2l1.4 0.0M212.9 189.2l1.4 0.0M215.6 189.2l1.4 0.0M218.3 189.2l1.4 0.0M221.0 189.2l1.4 0.0M223.7 189.2l1.4 0.0M226.4 189.2l1.4 0.0M229.1 189.2l1.4 0.0M231.8 189.2l1.4 0.0M234.5 189.2l1.4 0.0M237.2 189.2l1.4 0.0M239.9 189.2l1.4 0.0M242.6 189.2l1.4 0.0M245.3 189.2l1.4 0.0M248.0 189.2l1.4 0.0M250.7 189.2l1.4 0.0M253.4 189.2l1.4 0.0M285.8 189.2l-1.4 0.0M288.5 189.2l-1.4 0.0M291.2 189.2l-1.4 0.0M293.9 189.2l-1.4 0.0M296.6 189.2l-1.4 0.0M299.3 189.2l-1.4 0.0M302.0 189.2l-1.4 0.0M304.7 189.2l-1.4 0.0M307.4 189.2l-1.4 0.0M310.1 189.2l-1.4 0.0M312.8 189.2l-1.4 0.0M315.5 189.2l-1.4 0.0M318.2 189.2l-1.4 0.0M320.9 189.2l-1.4 0.0M323.6 189.2l-1.4 0.0M326.3 189.2l-1.4 0.0M329.0 189.2l-1.4 0.0M331.7 189.2l-1.4 0.0M334.4 189.2l-1.4 0.0M207.5 191.7l1.4 0.0M210.2 191.7l1.4 0.0M212.9 191.7l1.4 0.0M215.6 191.7l1.4 0.0M218.3 191.7l1.4 0.0M221.0 191.7l1.4 0.0M223.7 191.7l1.4 0.0M226.4 191.7l1.4 0.0M229.1 191.7l1.4 0.0M231.8 191.7l1.4 0.0M234.5 191.7l1.4 0.0M237.2 191.7l1.4 0.0M239.9 191.7l1.4 0.0M242.6 191.7l1.4 0.0M245.3 191.7l1.4 0.0M248.0 191.7l1.4 0.0M250.7 191.7l1.4 0.0M253.4 191.7l1.4 0.0M285.8 191.7l-1.4 0.0M288.5 191.7l-1.4 0.0M291.2 191.7l-1.4 0.0M293.9 191.7l-1.4 0.0M296.6 191.7l-1.4 0.0M299.3 191.7l-1.4 0.0M302.0 191.7l-1.4 0.0M304.7 191.7l-1.4 0.0M307.4 191.7l-1.4 0.0M310.1 191.7l-1.4 0.0M312.8 191.7l-1.4 0.0M315.5 191.7l-1.4 0.0M318.2 191.7l-1.4 0.0M320.9 191.7l-1.4 0.0M323.6 191.7l-1.4 0.0M326.3 191.7l-1.4 0.0M329.0 191.7l-1.4 0.0M331.7 191.7l-1.4 0.0M207.5 194.3l1.4 0.0M210.2 194.3l1.4 0.0M212.9 194.3l1.4 0.0M215.6 194.3l1.4 0.0M218.3 194.3l1.4 0.0M221.0 194.3l1.4 0.0M223.7 194.3l1.4 0.0M226.4 194.3l1.4 0.0M229.1 194.3l1.4 0.0M231.8 194.3l1.4 0.0M234.5 194.3l1.4 0.0M237.2 194.3l1.4 0.0M239.9 194.3l1.4 0.0M242.6 194.3l1.4 0.0M245.3 194.3l1.4 0.0M248.0 194.3l1.4 0.0M250.7 194.3l1.4 0.0M253.4 194.3l1.4 0.0M285.8 194.3l-1.4 0.0M288.5 194.3l-1.4 0.0M291.2 194.3l-1.4 0.0M293.9 194.3l-1.4 0.0M296.6 194.3l-1.4 0.0M299.3 194.3l-1.4 0.0M302.0 194.3l-1.4 0.0M304.7 194.3l-1.4 0.0M307.4 194.3l-1.4 0.0M310.1 194.3l-1.4 0.0M312.8 194.3l-1.4 0.0M315.5 194.3l-1.4 0.0M318.2 194.3l-1.4 0.0M320.9 194.3l-1.4 0.0M323.6 194.3l-1.4 0.0M326.3 194.3l-1.4 0.0M329.0 194.3l-1.4 0.0M331.7 194.3l-1.4 0.0M207.5 196.8l1.4 0.0M210.2 196.8l1.4 0.0M212.9 196.8l1.4 0.0M215.6 196.8l1.4 0.0M218.3 196.8l1.4 0.0M221.0 196.8l1.4 0.0M223.7 196.8l1.4 0.0M226.4 196.8l1.4 0.0M229.1 196.8l1.4 0.0M231.8 196.8l1.4 0.0M234.5 196.8l1.4 0.0M237.2 196.8l1.4 0.0M239.9 196.8l1.4 0.0M242.6 196.8l1.4 0.0M245.3 196.8l1.4 0.0M248.0 196.8l1.4 0.0M250.7 196.8l1.4 0.0M288.5 196.8l-1.4 0.0M291.2 196.8l-1.4 0.0M293.9 196.8l-1.4 0.0M296.6 196.8l-1.4 0.0M299.3 196.8l-1.4 0.0M302.0 196.8l-1.4 0.0M304.7 196.8l-1.4 0.0M307.4 196.8l-1.4 0.0M310.1 196.8l-1.4 0.0M312.8 196.8l-1.4 0.0M315.5 196.8l-1.4 0.0M318.2 196.8l-1.4 0.0M320.9 196.8l-1.4 0.0M323.6 196.8l-1.4 0.0M326.3 196.8l-1.4 0.0M329.0 196.8l-1.4 0.0M331.7 196.8l-1.4 0.0M334.4 196.8l-1.4 0.0M204.8 199.4l1.4 0.0M207.5 199.4l1.4 0.0M210.2 199.4l1.4 0.0M212.9 199.4l1.4 0.0M215.6 199.4l1.4 0.0M218.3 199.4l1.4 0.0M221.0 199.4l1.4 0.0M223.7 199.4l1.4 0.0M226.4 199.4l1.4 0.0M229.1 199.4l1.4 0.0M231.8 199.4l1.4 0.0M234.5 199.4l1.4 0.0M237.2 199.4l1.4 0.0M239.9 199.4l1.4 0.0M242.6 199.4l1.4 0.0M245.3 199.4l1.4 0.0M248.0 199.4l1.4 0.0M291.2 199.4l-1.4 0.0M293.9 199.4l-1.4 0.0M296.6 199.4l-1.4 0.0M299.3 199.4l-1.4 0.0M302.0 199.4l-1.4 0.0M304.7 199.4l-1.4 0.0M307.4 199.4l-1.4 0.0M310.1 199.4l-1.4 0.0M312.8 199.4l-1.4 0.0M315.5 199.4l-1.4 0.0M318.2 199.4l-1.4 0.0M320.9 199.4l-1.4 0.0M323.6 199.4l-1.4 0.0M326.3 199.4l-1.4 0.0M329.0 199.4l-1.4 0.0M331.7 199.4l-1.4 0.0M334.4 199.4l-1.4 0.0M337.1 199.4l-1.4 0.0M202.1 201.9l1.4 0.0M204.8 201.9l1.4 0.0M207.5 201.9l1.4 0.0M210.2 201.9l1.4 0.0M212.9 201.9l1.4 0.0M215.6 201.9l1.4 0.0M218.3 201.9l1.4 0.0M221.0 201.9l1.4 0.0M223.7 201.9l1.4 0.0M226.4 201.9l1.4 0.0M229.1 201.9l1.4 0.0M231.8 201.9l1.4 0.0M234.5 201.9l1.4 0.0M237.2 201.9l1.4 0.0M239.9 201.9l1.4 0.0M242.6 201.9l1.4 0.0M245.3 201.9l1.4 0.0M293.9 201.9l-1.4 0.0M296.6 201.9l-1.4 0.0M299.3 201.9l-1.4 0.0M302.0 201.9l-1.4 0.0M304.7 201.9l-1.4 0.0M307.4 201.9l-1.4 0.0M310.1 201.9l-1.4 0.0M312.8 201.9l-1.4 0.0M315.5 201.9l-1.4 0.0M318.2 201.9l-1.4 0.0M320.9 201.9l-1.4 0.0M323.6 201.9l-1.4 0.0M326.3 201.9l-1.4 0.0M329.0 201.9l-1.4 0.0M331.7 201.9l-1.4 0.0M334.4 201.9l-1.4 0.0M337.1 201.9l-1.4 0.0M339.8 201.9l-1.4 0.0M199.4 204.5l1.4 0.0M202.1 204.5l1.4 0.0M204.8 204.5l1.4 0.0M207.5 204.5l1.4 0.0M210.2 204.5l1.4 0.0M212.9 204.5l1.4 0.0M215.6 204.5l1.4 0.0M218.3 204.5l1.4 0.0M221.0 204.5l1.4 0.0M223.7 204.5l1.4 0.0M226.4 204.5l1.4 0.0M229.1 204.5l1.4 0.0M231.8 204.5l1.4 0.0M234.5 204.5l1.4 0.0M237.2 204.5l1.4 0.0M239.9 204.5l1.4 0.0M242.6 204.5l1.4 0.0M296.6 204.5l-1.4 0.0M299.3 204.5l-1.4 0.0M302.0 204.5l-1.4 0.0M304.7 204.5l-1.4 0.0M307.4 204.5l-1.4 0.0M310.1 204.5l-1.4 0.0M312.8 204.5l-1.4 0.0M315.5 204.5l-1.4 0.0M318.2 204.5l-1.4 0.0M320.9 204.5l-1.4 0.0M323.6 204.5l-1.4 0.0M326.3 204.5l-1.4 0.0M329.0 204.5l-1.4 0.0M331.7 204.5l-1.4 0.0M334.4 204.5l-1.4 0.0M337.1 204.5l-1.4 0.0M339.8 204.5l-1.4 0.0M202.1 207.0l1.4 0.0M204.8 207.0l1.4 0.0M207.5 207.0l1.4 0.0M210.2 207.0l1.4 0.0M212.9 207.0l1.4 0.0M215.6 207.0l1.4 0.0M218.3 207.0l1.4 0.0M221.0 207.0l1.4 0.0M223.7 207.0l1.4 0.0M226.4 207.0l1.4 0.0M229.1 207.0l1.4 0.0M231.8 207.0l1.4 0.0M234.5 207.0l1.4 0.0M237.2 207.0l1.4 0.0M239.9 207.0l1.4 0.0M299.3 207.0l-1.4 0.0M302.0 207.0l-1.4 0.0M304.7 207.0l-1.4 0.0M307.4 207.0l-1.4 0.0M310.1 207.0l-1.4 0.0M312.8 207.0l-1.4 0.0M315.5 207.0l-1.4 0.0M318.2 207.0l-1.4 0.0M320.9 207.0l-1.4 0.0M323.6 207.0l-1.4 0.0M326.3 207.0l-1.4 0.0M329.0 207.0l-1.4 0.0M331.7 207.0l-1.4 0.0M334.4 207.0l-1.4 0.0M337.1 207.0l-1.4 0.0M207.5 209.6l1.4 0.0M210.2 209.6l1.4 0.0M212.9 209.6l1.4 0.0M215.6 209.6l1.4 0.0M218.3 209.6l1.4 0.0M221.0 209.6l1.4 0.0M223.7 209.6l1.4 0.0M226.4 209.6l1.4 0.0M229.1 209.6l1.4 0.0M231.8 209.6l1.4 0.0M234.5 209.6l1.4 0.0M304.7 209.6l-1.4 0.0M307.4 209.6l-1.4 0.0M310.1 209.6l-1.4 0.0M312.8 209.6l-1.4 0.0M315.5 209.6l-1.4 0.0M318.2 209.6l-1.4 0.0M320.9 209.6l-1.4 0.0M323.6 209.6l-1.4 0.0M326.3 209.6l-1.4 0.0M329.0 209.6l-1.4 0.0M331.7 209.6l-1.4 0.0M334.4 209.6l-1.4 0.0"/>
<path stroke="#00e0d0" stroke-opacity=".1" stroke-width="1.15" d="M203.7 160.8l-1.2 -0.0M201.0 160.8l-1.1 -0.0M336.3 160.8l1.2 -0.0M339.0 160.8l1.1 -0.0"/>
<path stroke="#00e0d0" stroke-opacity=".1" stroke-width="1.2" d="M276.5 200.9l-0.1 1.1"/>
<path stroke="#00e020" stroke-opacity=".2" stroke-width="1.1" d="M262.5 201.4l0.2 1.2"/>
<path stroke="#00e080" stroke-opacity=".2" stroke-width="1.1" d="M262.7 211.6l0.0 -1.4"/>
<path stroke="#00e0a0" stroke-opacity=".2" stroke-width="1.1" d="M262.7 214.3l0.0 -1.2M277.3 214.0l0.0 -1.2"/>
<path stroke="#00e0b0" stroke-opacity=".2" stroke-width="1.1" d="M270.0 215.5l0.0 -1.3"/>
<path stroke="#00e0c0" stroke-opacity=".2" stroke-width="1.0" d="M215.2 163.1l-1.5 0.0M212.5 163.1l-1.3 0.0M324.8 163.1l1.5 0.0M327.5 163.1l1.3 0.0"/>
<path stroke="#00e0c0" stroke-opacity=".2" stroke-width="1.1" d="M267.6 216.0l0.0 -1.2"/>
<path stroke="#00e0d0" stroke-opacity=".2" stroke-width="0.8" d="M231.8 173.9l1.4 0.0M234.5 173.9l1.4 0.0M237.2 173.9l1.4 0.0M302.0 173.9l-1.4 0.0M304.7 173.9l-1.4 0.0M307.4 173.9l-1.4 0.0M310.1 173.9l-1.4 0.0M223.7 176.4l1.4 0.0M226.4 176.4l1.4 0.0M229.1 176.4l1.4 0.0M231.8 176.4l1.4 0.0M234.5 176.4l1.4 0.0M237.2 176.4l1.4 0.0M239.9 176.4l1.4 0.0M242.6 176.4l1.4 0.0M296.6 176.4l-1.4 0.0M299.3 176.4l-1.4 0.0M302.0 176.4l-1.4 0.0M304.7 176.4l-1.4 0.0M307.4 176.4l-1.4 0.0M310.1 176.4l-1.4 0.0M312.8 176.4l-1.4 0.0M315.5 176.4l-1.4 0.0M221.0 179.0l1.4 0.0M223.7 179.0l1.4 0.0M226.4 179.0l1.4 0.0M229.1 179.0l1.4 0.0M231.8 179.0l1.4 0.0M234.5 179.0l1.4 0.0M237.2 179.0l1.4 0.0M239.9 179.0l1.4 0.0M242.6 179.0l1.4 0.0M245.3 179.0l1.4 0.0M293.9 179.0l-1.4 0.0M296.6 179.0l-1.4 0.0M299.3 179.0l-1.4 0.0M302.0 179.0l-1.4 0.0M304.7 179.0l-1.4 0.0M307.4 179.0l-1.4 0.0M310.1 179.0l-1.4 0.0M312.8 179.0l-1.4 0.0M315.5 179.0l-1.4 0.0M318.2 179.0l-1.4 0.0M221.0 181.5l1.4 0.0M223.7 181.5l1.4 0.0M226.4 181.5l1.4 0.0M229.1 181.5l1.4 0.0M231.8 181.5l1.4 0.0M234.5 181.5l1.4 0.0M237.2 181.5l1.4 0.0M239.9 181.5l1.4 0.0M242.6 181.5l1.4 0.0M245.3 181.5l1.4 0.0M293.9 181.5l-1.4 0.0M296.6 181.5l-1.4 0.0M299.3 181.5l-1.4 0.0M302.0 181.5l-1.4 0.0M304.7 181.5l-1.4 0.0M307.4 181.5l-1.4 0.0M310.1 181.5l-1.4 0.0M312.8 181.5l-1.4 0.0M315.5 181.5l-1.4 0.0M318.2 181.5l-1.4 0.0M223.7 184.1l1.4 0.0M226.4 184.1l1.4 0.0M229.1 184.1l1.4 0.0M231.8 184.1l1.4 0.0M234.5 184.1l1.4 0.0M237.2 184.1l1.4 0.0M239.9 184.1l1.4 0.0M242.6 184.1l1.4 0.0M245.3 184.1l1.4 0.0M293.9 184.1l-1.4 0.0M296.6 184.1l-1.4 0.0M299.3 184.1l-1.4 0.0M302.0 184.1l-1.4 0.0M304.7 184.1l-1.4 0.0M307.4 184.1l-1.4 0.0M310.1 184.1l-1.4 0.0M312.8 184.1l-1.4 0.0M315.5 184.1l-1.4 0.0M318.2 184.1l-1.4 0.0M226.4 186.6l1.4 0.0M229.1 186.6l1.4 0.0M231.8 186.6l1.4 0.0M234.5 186.6l1.4 0.0M237.2 186.6l1.4 0.0M239.9 186.6l1.4 0.0M242.6 186.6l1.4 0.0M296.6 186.6l-1.4 0.0M299.3 186.6l-1.4 0.0M302.0 186.6l-1.4 0.0M304.7 186.6l-1.4 0.0M307.4 186.6l-1.4 0.0M310.1 186.6l-1.4 0.0M312.8 186.6l-1.4 0.0M315.5 186.6l-1.4 0.0"/>
<path stroke="#00e0d0" stroke-opacity=".2" stroke-width="1.0" d="M209.0 190.0l1.6 0.6M322.0 178.0l1.6 0.6M240.0 200.0l1.6 0.6M300.0 204.0l1.6 0.6M268.0 214.0l1.6 0.6M273.0 215.0l1.6 0.6"/>
<path stroke="#00e0d0" stroke-opacity=".2" stroke-width="1.15" d="M209.1 160.8l-1.4 0.0M206.4 160.8l-1.3 0.0M330.9 160.8l1.4 0.0M333.6 160.8l1.3 0.0"/>
<path stroke="#00e0d0" stroke-opacity=".2" stroke-width="1.2" d="M276.6 196.5l0.0 0.9"/>
<path stroke="#60d000" stroke-opacity=".2" stroke-width="1.5" d="M264.2 195.0l-0.0 0.9"/>
<path stroke="#60e000" stroke-opacity=".2" stroke-width="1.15" d="M257.5 158.0l-1.0 0.3M282.5 158.0l1.0 0.3"/>
<path stroke="#00e000" stroke-opacity=".3" stroke-width="1.5" d="M265.1 205.9l0.3 1.4"/>
<path stroke="#00e060" stroke-opacity=".3" stroke-width="1.1" d="M277.3 208.6l0.0 -1.6"/>
<path stroke="#00e070" stroke-opacity=".3" stroke-width="1.1" d="M262.7 208.9l0.0 -1.6"/>
<path stroke="#00e080" stroke-opacity=".3" stroke-width="1.1" d="M277.3 211.3l0.0 -1.4"/>
<path stroke="#00e0a0" stroke-opacity=".3" stroke-width="1.1" d="M274.8 214.5l0.0 -1.5"/>
<path stroke="#00e0a0" stroke-opacity=".3" stroke-width="1.15" d="M225.3 160.7l-1.7 0.0M222.6 160.7l-1.6 0.0M314.7 160.7l1.7 0.0M317.4 160.7l1.6 0.0"/>
<path stroke="#00e0b0" stroke-opacity=".3" stroke-width="1.0" d="M220.6 163.0l-1.7 0.0M217.9 163.0l-1.6 0.0M319.4 163.0l1.7 0.0M322.1 163.0l1.6 0.0"/>
<path stroke="#00e0b0" stroke-opacity=".3" stroke-width="1.1" d="M272.3 215.0l0.0 -1.4"/>
<path stroke="#00e0b0" stroke-opacity=".3" stroke-width="1.15" d="M219.9 160.8l-1.6 0.0M217.2 160.8l-1.6 0.0M320.1 160.8l1.6 0.0M322.8 160.8l1.6 0.0"/>
<path stroke="#00e0c0" stroke-opacity=".3" stroke-width="1.15" d="M214.5 160.8l-1.5 0.0M325.5 160.8l1.5 0.0"/>
<path stroke="#00e0d0" stroke-opacity=".3" stroke-width="1.15" d="M211.8 160.8l-1.5 0.0M328.2 160.8l1.5 0.0"/>
<path stroke="#00e000" stroke-opacity=".4" stroke-width="1.1" d="M262.7 198.1l0.0 -1.8M261.9 165.8l-0.5 -1.8M277.3 184.3l-0.0 -1.8M277.3 181.6l-0.0 -1.8M277.3 178.9l-0.0 -1.8M277.2 176.2l-0.0 -1.8M277.2 173.5l0.0 -1.8M277.3 170.8l0.2 -1.8M280.1 160.4l1.0 -1.5"/>
<path stroke="#00e010" stroke-opacity=".4" stroke-width="1.1" d="M262.7 200.8l-0.0 -1.8M277.3 189.7l0.0 -1.8M277.3 187.0l0.0 -1.8M262.2 199.2l0.2 1.5"/>
<path stroke="#00e020" stroke-opacity=".4" stroke-width="1.1" d="M262.7 203.5l0.0 -1.7M277.3 203.2l-0.0 -1.7M277.3 200.5l0.0 -1.8M277.3 197.8l0.0 -1.8M277.3 195.1l0.0 -1.8M277.3 192.4l0.0 -1.8M277.6 168.1l0.3 -1.8M278.9 162.9l0.7 -1.7"/>
<path stroke="#00e030" stroke-opacity=".4" stroke-width="1.1" d="M278.1 165.5l0.5 -1.8"/>
<path stroke="#00e040" stroke-opacity=".4" stroke-width="1.1" d="M262.7 206.2l0.0 -1.7M277.3 205.9l0.0 -1.7"/>
<path stroke="#00e070" stroke-opacity=".4" stroke-width="1.0" d="M258.3 163.3l-1.5 -0.4M281.7 163.3l1.5 -0.4"/>
<path stroke="#00e070" stroke-opacity=".4" stroke-width="1.15" d="M230.7 160.6l-1.8 0.1M309.3 160.6l1.8 0.1"/>
<path stroke="#00e080" stroke-opacity=".4" stroke-width="1.1" d="M267.6 213.3l-0.0 -1.7"/>
<path stroke="#00e090" stroke-opacity=".4" stroke-width="1.1" d="M265.3 213.8l0.0 -1.6"/>
<path stroke="#00e090" stroke-opacity=".4" stroke-width="1.15" d="M228.0 160.7l-1.7 0.0M312.0 160.7l1.7 0.0"/>
<path stroke="#00e0a0" stroke-opacity=".4" stroke-width="1.0" d="M231.4 163.0l-1.9 -0.0M228.7 163.0l-1.8 -0.0M226.0 163.0l-1.8 0.0M308.6 163.0l1.9 -0.0M311.3 163.0l1.8 -0.0M314.0 163.0l1.8 0.0"/>
<path stroke="#00e0b0" stroke-opacity=".4" stroke-width="1.0" d="M223.3 163.0l-1.8 0.0M316.7 163.0l1.8 0.0"/>
<path stroke="#00e0b0" stroke-opacity=".4" stroke-width="1.1" d="M266.5 210.5l0.4 1.6M270.5 212.0l0.4 1.6M274.0 209.5l0.4 1.6M268.0 215.0l0.4 1.6M272.5 216.0l0.4 1.6"/>
<path stroke="#10e000" stroke-opacity=".4" stroke-width="1.1" d="M262.7 195.4l0.0 -1.8M262.7 192.7l0.0 -1.8M261.2 163.2l-0.7 -1.7"/>
<path stroke="#20e000" stroke-opacity=".4" stroke-width="1.1" d="M262.7 190.0l0.0 -1.8M262.7 187.3l0.0 -1.8M262.4 168.4l-0.3 -1.8M281.8 158.4l1.2 -0.8"/>
<path stroke="#30e000" stroke-opacity=".4" stroke-width="1.1" d="M262.7 184.6l0.0 -1.8M262.7 179.2l0.0 -1.8M262.8 173.8l-0.0 -1.8M262.7 171.1l-0.2 -1.8M260.0 160.7l-1.0 -1.6M258.5 158.5l-1.4 -1.2"/>
<path stroke="#00e030" stroke-opacity=".5" stroke-width="1.15" d="M236.1 160.4l-2.0 0.1M303.9 160.4l2.0 0.1"/>
<path stroke="#00e050" stroke-opacity=".5" stroke-width="1.15" d="M233.4 160.5l-1.9 0.1M306.6 160.5l1.9 0.1"/>
<path stroke="#00e070" stroke-opacity=".5" stroke-width="1.1" d="M272.3 212.3l0.0 -1.9"/>
<path stroke="#00e080" stroke-opacity=".5" stroke-width="1.0" d="M255.7 162.8l-1.9 -0.0M253.0 162.8l-1.9 0.0M250.3 162.8l-1.9 0.0M247.6 162.9l-1.9 0.0M284.3 162.8l1.9 -0.0M287.0 162.8l1.9 0.0M289.7 162.8l1.9 0.0M292.4 162.9l1.9 0.0"/>
<path stroke="#00e080" stroke-opacity=".5" stroke-width="1.1" d="M270.0 212.8l0.0 -1.8M274.8 211.8l0.0 -1.8"/>
<path stroke="#00e090" stroke-opacity=".5" stroke-width="1.0" d="M244.9 162.9l-1.9 0.0M242.2 163.0l-1.9 0.0M239.5 163.0l-1.9 0.0M236.8 163.0l-1.9 -0.0M295.1 162.9l1.9 0.0M297.8 163.0l1.9 0.0M300.5 163.0l1.9 0.0M303.2 163.0l1.9 -0.0"/>
<path stroke="#00e0a0" stroke-opacity=".5" stroke-width="1.0" d="M234.1 163.0l-1.9 -0.0M305.9 163.0l1.9 -0.0"/>
<path stroke="#00e0d0" stroke-opacity=".5" stroke-width="1.2" d="M276.6 198.7l-0.1 1.8"/>
<path stroke="#30e000" stroke-opacity=".5" stroke-width="1.1" d="M262.7 181.9l0.0 -1.8M262.8 176.5l0.0 -1.8"/>
<path stroke="#00e010" stroke-opacity=".6" stroke-width="1.15" d="M238.8 160.4l-2.3 -0.0M301.2 160.4l2.3 -0.0"/>
<path stroke="#00e030" stroke-opacity=".6" stroke-width="1.1" d="M267.6 210.6l0.0 -2.1"/>
<path stroke="#00e040" stroke-opacity=".6" stroke-width="1.1" d="M265.3 211.1l0.0 -2.0"/>
<path stroke="#00e070" stroke-opacity=".6" stroke-width="1.1" d="M274.8 209.1l0.0 -2.1"/>
<path stroke="#30e000" stroke-opacity=".6" stroke-width="1.5" d="M264.7 203.8l0.3 1.9"/>
<path stroke="#00e010" stroke-opacity=".7" stroke-width="1.1" d="M272.3 209.6l0.0 -2.2"/>
<path stroke="#00e020" stroke-opacity=".7" stroke-width="1.1" d="M270.0 210.1l0.0 -2.1"/>
<path stroke="#00e040" stroke-opacity=".7" stroke-width="1.1" d="M274.8 206.4l0.0 -2.3"/>
<path stroke="#10e000" stroke-opacity=".7" stroke-width="1.15" d="M241.5 160.4l-2.5 -0.0M298.5 160.4l2.5 -0.0"/>
<path stroke="#20e000" stroke-opacity=".7" stroke-width="1.1" d="M265.3 208.4l0.0 -2.3"/>
<path stroke="#00e010" stroke-opacity=".8" stroke-width="1.1" d="M274.8 203.7l0.0 -2.5"/>
<path stroke="#20e000" stroke-opacity=".8" stroke-width="1.1" d="M274.8 201.0l0.0 -2.6"/>
<path stroke="#30e000" stroke-opacity=".8" stroke-width="1.15" d="M244.2 160.3l-2.6 0.1M295.8 160.3l2.6 0.1"/>
<path stroke="#40e000" stroke-opacity=".8" stroke-width="1.1" d="M267.6 207.9l-0.0 -2.4"/>
<path stroke="#50e000" stroke-opacity=".8" stroke-width="1.1" d="M270.0 207.4l0.0 -2.4"/>
<path stroke="#50e000" stroke-opacity=".8" stroke-width="1.5" d="M264.4 201.6l0.3 2.1"/>
<path stroke="#60d000" stroke-opacity=".8" stroke-width="1.5" d="M264.2 197.2l0.1 1.9"/>
<path stroke="#60e000" stroke-opacity=".8" stroke-width="1.1" d="M272.3 206.9l0.0 -2.5"/>
<path stroke="#80d000" stroke-opacity=".8" stroke-width="1.1" d="M265.3 205.7l0.0 -2.5"/>
<path stroke="#50e000" stroke-opacity=".9" stroke-width="1.1" d="M274.8 198.3l0.0 -2.7M277.2 158.1l0.8 -1.6"/>
<path stroke="#50e000" stroke-opacity=".9" stroke-width="1.15" d="M246.9 160.0l-2.7 0.3M293.1 160.0l2.7 0.3"/>
<path stroke="#60d000" stroke-opacity=".9" stroke-width="1.1" d="M274.8 195.6l0.0 -2.7M274.8 192.9l0.0 -2.7M275.2 165.9l0.4 -2.7M275.6 163.3l0.7 -2.6"/>
<path stroke="#60d000" stroke-opacity=".9" stroke-width="1.15" d="M249.6 159.7l-2.7 0.4M290.4 159.7l2.7 0.4"/>
<path stroke="#60e000" stroke-opacity=".9" stroke-width="1.5" d="M264.3 199.4l0.2 2.2"/>
<path stroke="#70d000" stroke-opacity=".9" stroke-width="1.1" d="M274.8 190.2l0.0 -2.7M274.8 187.5l0.0 -2.7M274.9 168.6l0.3 -2.7M276.3 160.6l0.9 -2.6"/>
<path stroke="#70d000" stroke-opacity=".9" stroke-width="1.15" d="M254.9 158.6l-2.7 0.6M252.2 159.2l-2.7 0.5M285.1 158.6l2.7 0.6M287.8 159.2l2.7 0.5"/>
<path stroke="#80d000" stroke-opacity=".9" stroke-width="1.1" d="M274.8 184.8l-0.0 -2.7M274.8 182.1l-0.0 -2.7M274.8 179.4l-0.0 -2.7M274.8 176.7l-0.0 -2.7M274.7 174.0l0.0 -2.7M274.8 171.3l0.1 -2.7"/>
<path stroke="#a0d000" stroke-opacity=".9" stroke-width="1.1" d="M267.6 205.2l0.0 -2.6"/>
<path stroke="#b0d000" stroke-opacity=".9" stroke-width="1.1" d="M270.0 204.7l0.0 -2.6M272.3 204.2l0.0 -2.6"/>
<path stroke="#c0d000" stroke-opacity=".9" stroke-width="1.1" d="M265.3 203.0l0.0 -2.6"/>
<path stroke="#d0d000" stroke-opacity=".9" stroke-width="1.1" d="M265.3 200.3l0.0 -2.7M265.3 197.6l0.0 -2.8"/>
<path stroke="#e0d000" stroke-opacity=".9" stroke-width="1.1" d="M270.0 202.0l0.0 -2.7"/>
<path stroke="#e0e000" stroke-opacity=".9" stroke-width="1.1" d="M267.6 202.5l0.0 -2.7M272.3 201.5l0.0 -2.8"/>
<path stroke="#40e000" stroke-width="1.1" d="M265.8 156.7l-0.2 -0.9M270.0 156.1l0.0 -0.5"/>
<path stroke="#50e000" stroke-width="1.1" d="M262.0 157.6l-0.7 -1.1"/>
<path stroke="#60d000" stroke-width="1.1" d="M270.0 158.8l0.0 -2.8"/>
<path stroke="#60e000" stroke-width="1.1" d="M273.2 158.3l0.4 -2.3"/>
<path stroke="#70d000" stroke-width="1.1" d="M266.4 159.4l-0.6 -2.8"/>
<path stroke="#80d000" stroke-width="1.1" d="M263.2 160.1l-1.2 -2.5"/>
<path stroke="#a0d000" stroke-width="1.1" d="M264.1 162.6l-0.9 -2.7M272.9 161.0l0.4 -2.8"/>
<path stroke="#c0d000" stroke-width="1.1" d="M264.7 165.2l-0.6 -2.7M266.9 162.0l-0.5 -2.8M270.0 161.5l0.0 -2.8"/>
<path stroke="#d0e000" stroke-width="1.1" d="M265.3 194.9l0.0 -2.8M265.3 192.2l0.0 -2.8M265.1 167.9l-0.4 -2.8"/>
<path stroke="#e09000" stroke-width="1.1" d="M267.6 194.4l0.0 -2.8M267.6 191.7l0.0 -2.8M267.5 167.4l-0.2 -2.8M270.0 199.3l0.0 -2.8M270.0 164.2l0.0 -2.8M272.3 185.3l-0.0 -2.8M272.3 182.6l-0.0 -2.8M272.3 179.9l-0.0 -2.8M272.3 177.2l-0.0 -2.8M272.3 174.5l0.0 -2.8"/>
<path stroke="#e0a000" stroke-width="1.1" d="M267.6 197.1l-0.0 -2.8M272.3 190.7l0.0 -2.8M272.3 188.0l0.0 -2.8M272.3 171.8l0.1 -2.8M272.3 169.1l0.1 -2.8"/>
<path stroke="#e0b000" stroke-width="1.1" d="M272.3 193.4l0.0 -2.8"/>
<path stroke="#e0c000" stroke-width="1.1" d="M267.6 199.8l0.0 -2.8M267.2 164.7l-0.4 -2.8M272.3 196.1l0.0 -2.8M272.4 166.4l0.2 -2.8"/>
<path stroke="#e0d000" stroke-width="1.1" d="M272.3 198.8l0.0 -2.8"/>
<path stroke="#e0e000" stroke-width="1.1" d="M265.3 189.5l0.0 -2.8M265.3 186.8l0.0 -2.8M265.3 184.1l0.0 -2.8M265.3 181.4l0.0 -2.8M265.3 178.7l0.0 -2.8M265.4 176.0l-0.0 -2.8M265.4 173.3l-0.1 -2.8M265.3 170.6l-0.2 -2.8M272.6 163.7l0.3 -2.8"/>
<path stroke="#f04010" stroke-width="1.1" d="M270.0 185.8l0.0 -2.8M270.0 183.1l0.0 -2.8M270.0 180.4l0.0 -2.8M270.0 177.7l0.0 -2.8M270.0 175.0l0.0 -2.8M270.0 172.3l0.0 -2.8"/>
<path stroke="#f05010" stroke-width="1.1" d="M270.0 191.2l0.0 -2.8M270.0 188.5l0.0 -2.8M270.0 169.6l0.0 -2.8"/>
<path stroke="#f06010" stroke-width="1.1" d="M270.0 193.9l0.0 -2.8M270.0 166.9l0.0 -2.8"/>
<path stroke="#f07010" stroke-width="1.1" d="M270.0 196.6l0.0 -2.8"/>
<path stroke="#f09010" stroke-width="1.1" d="M267.6 186.3l-0.0 -2.8M267.6 183.6l0.0 -2.8M267.6 180.9l0.0 -2.8M267.6 178.2l0.0 -2.8M267.6 175.5l-0.0 -2.8M267.6 172.8l-0.1 -2.8"/>
<path stroke="#f0a010" stroke-width="1.1" d="M267.6 189.0l0.0 -2.8M267.6 170.1l-0.1 -2.8"/>
</g>
<g fill="none" stroke-linecap="round" filter="url(#soft)">
<path stroke="#00e0d0" stroke-opacity=".4" stroke-width="0.9" d="M290.5 156.8l2.0 0.6"/>
</g>
<rect x="195.1" y="221.1" width="1.3" height="1.6" fill="#7a7a7a"/>
<rect x="196.0" y="225.9" width="149.3" height="11.8" fill="url(#jet)"/>
</g>
<g id="panel6">
<rect x="384.5" y="159.0" width="149.5" height="62.8" fill="none" stroke="#c9c9c9" stroke-width="1"/>
<g fill="none" stroke-linecap="round" filter="url(#soft)">
<path stroke="#00d0ff" stroke-opacity=".1" stroke-width="0.8" d="M387.5 217.2l-1.3 0.0M390.2 217.2l-1.3 0.0M392.9 217.2l-1.3 0.0M395.6 217.2l-1.3 0.0M398.3 217.2l-1.3 0.0M401.0 217.2l-1.3 0.0M403.7 217.2l-1.3 0.0M406.4 217.2l-1.3 0.0M409.1 217.2l-1.3 0.0M411.8 217.2l-1.3 0.0M414.5 217.2l-1.3 0.0M417.2 217.2l-1.3 0.0M419.9 217.2l-1.3 0.0M422.6 217.2l-1.3 0.0M425.3 217.2l-1.3 0.0M428.0 217.2l-1.3 0.0M430.7 217.2l-1.3 0.0M433.4 217.2l-1.3 0.0M436.1 217.2l-1.3 0.0M438.8 217.2l-1.3 0.0M441.5 217.2l-1.3 0.0M444.2 217.2l-1.3 0.0M446.9 217.2l-1.3 0.0M449.6 217.2l-1.3 0.0M452.3 217.2l-1.3 0.0M455.0 217.2l-1.3 0.0M457.7 217.2l-1.3 0.0M460.4 217.2l-1.3 0.0M463.1 217.2l-1.3 0.0M465.8 217.2l-1.3 0.0M468.5 217.2l-1.3 0.0M471.2 217.2l-1.3 0.0M473.9 217.2l-1.3 0.0M476.6 217.2l-1.3 0.0M479.3 217.2l-1.3 0.0M482.0 217.2l-1.3 0.0M484.7 217.2l-1.3 0.0M487.4 217.2l-1.3 0.0M490.1 217.2l-1.3 0.0M492.8 217.2l-1.3 0.0M495.5 217.2l-1.3 0.0M498.2 217.2l-1.3 0.0M500.9 217.2l-1.3 0.0M503.6 217.2l-1.3 0.0M387.5 219.8l-1.3 0.0M390.2 219.8l-1.3 0.0M392.9 219.8l-1.3 0.0M395.6 219.8l-1.3 0.0M398.3 219.8l-1.3 0.0M401.0 219.8l-1.3 0.0M403.7 219.8l-1.3 0.0M406.4 219.8l-1.3 0.0M409.1 219.8l-1.3 0.0M411.8 219.8l-1.3 0.0M414.5 219.8l-1.3 0.0M417.2 219.8l-1.3 0.0M419.9 219.8l-1.3 0.0M422.6 219.8l-1.3 0.0M425.3 219.8l-1.3 0.0M460.4 219.8l-1.3 0.0M463.1 219.8l-1.3 0.0M465.8 219.8l-1.3 0.0M468.5 219.8l-1.3 0.0M471.2 219.8l-1.3 0.0M473.9 219.8l-1.3 0.0M476.6 219.8l-1.3 0.0M479.3 219.8l-1.3 0.0M482.0 219.8l-1.3 0.0M484.7 219.8l-1.3 0.0M487.4 219.8l-1.3 0.0M490.1 219.8l-1.3 0.0M492.8 219.8l-1.3 0.0M495.5 219.8l-1.3 0.0M498.2 219.8l-1.3 0.0M500.9 219.8l-1.3 0.0M503.6 219.8l-1.3 0.0M506.3 219.8l-1.3 0.0"/>
<path stroke="#00e000" stroke-opacity=".1" stroke-width="0.9" d="M522.6 208.0l0.1 0.9"/>
<path stroke="#00e030" stroke-opacity=".1" stroke-width="0.95" d="M514.5 190.0l0.2 1.1M516.8 211.4l0.1 1.3"/>
<path stroke="#00e040" stroke-opacity=".1" stroke-width="0.9" d="M520.4 209.0l-0.1 0.9"/>
<path stroke="#00e090" stroke-opacity=".1" stroke-width="0.95" d="M512.1 190.0l0.2 1.1M514.4 211.4l0.1 1.2"/>
<path stroke="#00e0b0" stroke-opacity=".1" stroke-width="0.9" d="M526.8 162.0l0.0 1.1M527.3 205.2l-0.0 0.8M529.6 162.0l0.0 1.1M532.0 162.0l0.0 1.1M532.5 202.5l-0.0 1.2M511.8 189.7l-0.1 -1.1"/>
<path stroke="#00e0b0" stroke-opacity=".1" stroke-width="1.0" d="M521.2 216.6l-0.1 -1.1"/>
<path stroke="#00e0d0" stroke-opacity=".1" stroke-width="0.8" d="M392.9 171.3l-1.3 0.0M395.6 171.3l-1.3 0.0M398.3 171.3l-1.3 0.0M401.0 171.3l-1.3 0.0M403.7 171.3l-1.3 0.0M406.4 171.3l-1.3 0.0M409.1 171.3l-1.3 0.0M411.8 171.3l-1.3 0.0M414.5 171.3l-1.3 0.0M417.2 171.3l-1.3 0.0M419.9 171.3l-1.3 0.0M422.6 171.3l-1.3 0.0M425.3 171.3l-1.3 0.0M428.0 171.3l-1.3 0.0M430.7 171.3l-1.3 0.0M433.4 171.3l-1.3 0.0M436.1 171.3l-1.3 0.0M438.8 171.3l-1.3 0.0M441.5 171.3l-1.3 0.0M444.2 171.3l-1.3 0.0M446.9 171.3l-1.3 0.0M449.6 171.3l-1.3 0.0M452.3 171.3l-1.3 0.0M455.0 171.3l-1.3 0.0M457.7 171.3l-1.3 0.0M460.4 171.3l-1.3 0.0M463.1 171.3l-1.3 0.0M465.8 171.3l-1.3 0.0M468.5 171.3l-1.3 0.0M471.2 171.3l-1.3 0.0M473.9 171.3l-1.3 0.0M476.6 171.3l-1.3 0.0M479.3 171.3l-1.3 0.0M482.0 171.3l-1.3 0.0M484.7 171.3l-1.3 0.0M487.4 171.3l-1.3 0.0M490.1 171.3l-1.3 0.0M492.8 171.3l-1.3 0.0M390.2 173.9l-1.3 0.0M392.9 173.9l-1.3 0.0M395.6 173.9l-1.3 0.0M398.3 173.9l-1.3 0.0M401.0 173.9l-1.3 0.0M403.7 173.9l-1.3 0.0M406.4 173.9l-1.3 0.0M409.1 173.9l-1.3 0.0M411.8 173.9l-1.3 0.0M414.5 173.9l-1.3 0.0M417.2 173.9l-1.3 0.0M419.9 173.9l-1.3 0.0M460.4 173.9l-1.3 0.0M463.1 173.9l-1.3 0.0M465.8 173.9l-1.3 0.0M468.5 173.9l-1.3 0.0M471.2 173.9l-1.3 0.0M473.9 173.9l-1.3 0.0M476.6 173.9l-1.3 0.0M479.3 173.9l-1.3 0.0M482.0 173.9l-1.3 0.0M484.7 173.9l-1.3 0.0M487.4 173.9l-1.3 0.0M490.1 173.9l-1.3 0.0M492.8 173.9l-1.3 0.0M495.5 173.9l-1.3 0.0M498.2 173.9l-1.3 0.0M500.9 173.9l-1.3 0.0M390.2 176.4l-1.3 0.0M392.9 176.4l-1.3 0.0M395.6 176.4l-1.3 0.0M398.3 176.4l-1.3 0.0M401.0 176.4l-1.3 0.0M403.7 176.4l-1.3 0.0M406.4 176.4l-1.3 0.0M409.1 176.4l-1.3 0.0M411.8 176.4l-1.3 0.0M414.5 176.4l-1.3 0.0M473.9 176.4l-1.3 0.0M476.6 176.4l-1.3 0.0M479.3 176.4l-1.3 0.0M482.0 176.4l-1.3 0.0M484.7 176.4l-1.3 0.0M487.4 176.4l-1.3 0.0M490.1 176.4l-1.3 0.0M492.8 176.4l-1.3 0.0M495.5 176.4l-1.3 0.0M498.2 176.4l-1.3 0.0M500.9 176.4l-1.3 0.0M503.6 176.4l-1.3 0.0M506.3 176.4l-1.3 0.0M387.5 179.0l-1.3 0.0M390.2 179.0l-1.3 0.0M392.9 179.0l-1.3 0.0M395.6 179.0l-1.3 0.0M398.3 179.0l-1.3 0.0M401.0 179.0l-1.3 0.0M403.7 179.0l-1.3 0.0M406.4 179.0l-1.3 0.0M409.1 179.0l-1.3 0.0M411.8 179.0l-1.3 0.0M484.7 179.0l-1.3 0.0M487.4 179.0l-1.3 0.0M490.1 179.0l-1.3 0.0M492.8 179.0l-1.3 0.0M495.5 179.0l-1.3 0.0M498.2 179.0l-1.3 0.0M500.9 179.0l-1.3 0.0M503.6 179.0l-1.3 0.0M506.3 179.0l-1.3 0.0M390.2 181.5l-1.3 0.0M392.9 181.5l-1.3 0.0M395.6 181.5l-1.3 0.0M398.3 181.5l-1.3 0.0M401.0 181.5l-1.3 0.0M403.7 181.5l-1.3 0.0M406.4 181.5l-1.3 0.0M409.1 181.5l-1.3 0.0M411.8 181.5l-1.3 0.0M495.5 181.5l-1.3 0.0M498.2 181.5l-1.3 0.0M500.9 181.5l-1.3 0.0M503.6 181.5l-1.3 0.0M506.3 181.5l-1.3 0.0M509.0 181.5l-1.3 0.0M390.2 184.1l-1.3 0.0M392.9 184.1l-1.3 0.0M395.6 184.1l-1.3 0.0M398.3 184.1l-1.3 0.0M401.0 184.1l-1.3 0.0M403.7 184.1l-1.3 0.0M406.4 184.1l-1.3 0.0M409.1 184.1l-1.3 0.0M411.8 184.1l-1.3 0.0M500.9 184.1l-1.3 0.0M503.6 184.1l-1.3 0.0M506.3 184.1l-1.3 0.0M509.0 184.1l-1.3 0.0M392.9 186.6l-1.3 0.0M395.6 186.6l-1.3 0.0M398.3 186.6l-1.3 0.0M401.0 186.6l-1.3 0.0M403.7 186.6l-1.3 0.0M406.4 186.6l-1.3 0.0M409.1 186.6l-1.3 0.0M411.8 186.6l-1.3 0.0M414.5 186.6l-1.3 0.0M503.6 186.6l-1.3 0.0M506.3 186.6l-1.3 0.0M509.0 186.6l-1.3 0.0M392.9 189.2l-1.3 0.0M395.6 189.2l-1.3 0.0M398.3 189.2l-1.3 0.0M401.0 189.2l-1.3 0.0M403.7 189.2l-1.3 0.0M406.4 189.2l-1.3 0.0M409.1 189.2l-1.3 0.0M411.8 189.2l-1.3 0.0M414.5 189.2l-1.3 0.0M417.2 189.2l-1.3 0.0M506.3 189.2l-1.3 0.0M509.0 189.2l-1.3 0.0M395.6 191.7l-1.3 0.0M398.3 191.7l-1.3 0.0M401.0 191.7l-1.3 0.0M403.7 191.7l-1.3 0.0M406.4 191.7l-1.3 0.0M409.1 191.7l-1.3 0.0M411.8 191.7l-1.3 0.0M414.5 191.7l-1.3 0.0M417.2 191.7l-1.3 0.0M509.0 191.7l-1.3 0.0M398.3 194.3l-1.3 0.0M401.0 194.3l-1.3 0.0M403.7 194.3l-1.3 0.0M406.4 194.3l-1.3 0.0M409.1 194.3l-1.3 0.0M411.8 194.3l-1.3 0.0M414.5 194.3l-1.3 0.0M417.2 194.3l-1.3 0.0M419.9 194.3l-1.3 0.0M506.3 194.3l-1.3 0.0M509.0 194.3l-1.3 0.0M401.0 196.8l-1.3 0.0M403.7 196.8l-1.3 0.0M406.4 196.8l-1.3 0.0M409.1 196.8l-1.3 0.0M411.8 196.8l-1.3 0.0M414.5 196.8l-1.3 0.0M417.2 196.8l-1.3 0.0M419.9 196.8l-1.3 0.0M422.6 196.8l-1.3 0.0M506.3 196.8l-1.3 0.0M509.0 196.8l-1.3 0.0M403.7 199.4l-1.3 0.0M406.4 199.4l-1.3 0.0M409.1 199.4l-1.3 0.0M411.8 199.4l-1.3 0.0M414.5 199.4l-1.3 0.0M417.2 199.4l-1.3 0.0M419.9 199.4l-1.3 0.0M422.6 199.4l-1.3 0.0M425.3 199.4l-1.3 0.0M428.0 199.4l-1.3 0.0M500.9 199.4l-1.3 0.0M503.6 199.4l-1.3 0.0M506.3 199.4l-1.3 0.0M509.0 199.4l-1.3 0.0M406.4 201.9l-1.3 0.0M409.1 201.9l-1.3 0.0M411.8 201.9l-1.3 0.0M414.5 201.9l-1.3 0.0M417.2 201.9l-1.3 0.0M419.9 201.9l-1.3 0.0M422.6 201.9l-1.3 0.0M425.3 201.9l-1.3 0.0M428.0 201.9l-1.3 0.0M430.7 201.9l-1.3 0.0M433.4 201.9l-1.3 0.0M436.1 201.9l-1.3 0.0M495.5 201.9l-1.3 0.0M498.2 201.9l-1.3 0.0M500.9 201.9l-1.3 0.0M503.6 201.9l-1.3 0.0M506.3 201.9l-1.3 0.0M509.0 201.9l-1.3 0.0M411.8 204.5l-1.3 0.0M414.5 204.5l-1.3 0.0M417.2 204.5l-1.3 0.0M419.9 204.5l-1.3 0.0M422.6 204.5l-1.3 0.0M425.3 204.5l-1.3 0.0M428.0 204.5l-1.3 0.0M430.7 204.5l-1.3 0.0M433.4 204.5l-1.3 0.0M436.1 204.5l-1.3 0.0M438.8 204.5l-1.3 0.0M441.5 204.5l-1.3 0.0M444.2 204.5l-1.3 0.0M446.9 204.5l-1.3 0.0M449.6 204.5l-1.3 0.0M482.0 204.5l-1.3 0.0M484.7 204.5l-1.3 0.0M487.4 204.5l-1.3 0.0M490.1 204.5l-1.3 0.0M492.8 204.5l-1.3 0.0M495.5 204.5l-1.3 0.0M498.2 204.5l-1.3 0.0M500.9 204.5l-1.3 0.0M503.6 204.5l-1.3 0.0M506.3 204.5l-1.3 0.0M417.2 207.0l-1.3 0.0M419.9 207.0l-1.3 0.0M422.6 207.0l-1.3 0.0M425.3 207.0l-1.3 0.0M428.0 207.0l-1.3 0.0M430.7 207.0l-1.3 0.0M433.4 207.0l-1.3 0.0M436.1 207.0l-1.3 0.0M438.8 207.0l-1.3 0.0M441.5 207.0l-1.3 0.0M444.2 207.0l-1.3 0.0M446.9 207.0l-1.3 0.0M449.6 207.0l-1.3 0.0M452.3 207.0l-1.3 0.0M455.0 207.0l-1.3 0.0M457.7 207.0l-1.3 0.0M460.4 207.0l-1.3 0.0M463.1 207.0l-1.3 0.0M465.8 207.0l-1.3 0.0M468.5 207.0l-1.3 0.0M471.2 207.0l-1.3 0.0M473.9 207.0l-1.3 0.0M476.6 207.0l-1.3 0.0M479.3 207.0l-1.3 0.0M482.0 207.0l-1.3 0.0M484.7 207.0l-1.3 0.0M487.4 207.0l-1.3 0.0M490.1 207.0l-1.3 0.0M492.8 207.0l-1.3 0.0M495.5 207.0l-1.3 0.0M498.2 207.0l-1.3 0.0M500.9 207.0l-1.3 0.0M503.6 207.0l-1.3 0.0M506.3 207.0l-1.3 0.0M428.0 209.6l-1.3 0.0M430.7 209.6l-1.3 0.0M433.4 209.6l-1.3 0.0M436.1 209.6l-1.3 0.0M438.8 209.6l-1.3 0.0M441.5 209.6l-1.3 0.0M444.2 209.6l-1.3 0.0M446.9 209.6l-1.3 0.0M449.6 209.6l-1.3 0.0M452.3 209.6l-1.3 0.0M455.0 209.6l-1.3 0.0M457.7 209.6l-1.3 0.0M460.4 209.6l-1.3 0.0M463.1 209.6l-1.3 0.0M465.8 209.6l-1.3 0.0M468.5 209.6l-1.3 0.0M471.2 209.6l-1.3 0.0M473.9 209.6l-1.3 0.0M476.6 209.6l-1.3 0.0M479.3 209.6l-1.3 0.0M482.0 209.6l-1.3 0.0M484.7 209.6l-1.3 0.0M487.4 209.6l-1.3 0.0M490.1 209.6l-1.3 0.0M492.8 209.6l-1.3 0.0M495.5 209.6l-1.3 0.0M498.2 209.6l-1.3 0.0M500.9 209.6l-1.3 0.0M441.5 212.1l-1.3 0.0M444.2 212.1l-1.3 0.0M446.9 212.1l-1.3 0.0M449.6 212.1l-1.3 0.0M452.3 212.1l-1.3 0.0M455.0 212.1l-1.3 0.0M457.7 212.1l-1.3 0.0M460.4 212.1l-1.3 0.0M463.1 212.1l-1.3 0.0M465.8 212.1l-1.3 0.0M468.5 212.1l-1.3 0.0M471.2 212.1l-1.3 0.0M473.9 212.1l-1.3 0.0M476.6 212.1l-1.3 0.0M479.3 212.1l-1.3 0.0M482.0 212.1l-1.3 0.0M484.7 212.1l-1.3 0.0M487.4 212.1l-1.3 0.0"/>
<path stroke="#00e0d0" stroke-opacity=".1" stroke-width="0.9" d="M394.0 163.8l-1.2 -0.0M419.2 166.4l-1.3 0.0M416.5 166.4l-1.2 -0.0M413.8 166.4l-1.2 -0.0M411.1 166.4l-1.1 -0.0M408.4 166.4l-1.1 -0.0M444.3 168.9l-1.3 0.0M441.6 168.9l-1.2 0.0M438.9 169.0l-1.2 0.0M436.2 169.0l-1.1 0.0M433.5 169.0l-1.1 0.0"/>
<path stroke="#00e0d0" stroke-opacity=".1" stroke-width="1.0" d="M389.8 161.0l-1.2 0.0"/>
<path stroke="#00e0d0" stroke-opacity=".1" stroke-width="1.1" d="M452.0 201.6l0.8 0.2M458.4 203.0l1.0 0.2"/>
<path stroke="#00e0d0" stroke-opacity=".1" stroke-width="1.3" d="M467.6 202.2l0.8 0.3M445.5 201.8l0.8 0.3"/>
<path stroke="#00e0f0" stroke-opacity=".1" stroke-width="0.8" d="M438.8 214.7l-1.3 0.0M441.5 214.7l-1.3 0.0M444.2 214.7l-1.3 0.0M446.9 214.7l-1.3 0.0M449.6 214.7l-1.3 0.0M452.3 214.7l-1.3 0.0M455.0 214.7l-1.3 0.0M457.7 214.7l-1.3 0.0M460.4 214.7l-1.3 0.0M463.1 214.7l-1.3 0.0M465.8 214.7l-1.3 0.0M468.5 214.7l-1.3 0.0M471.2 214.7l-1.3 0.0M473.9 214.7l-1.3 0.0M476.6 214.7l-1.3 0.0"/>
<path stroke="#30e000" stroke-opacity=".1" stroke-width="1.0" d="M524.4 206.0l0.1 0.9"/>
<path stroke="#00d0ff" stroke-opacity=".2" stroke-width="0.8" d="M428.0 219.8l-1.3 0.0M430.7 219.8l-1.3 0.0M433.4 219.8l-1.3 0.0M436.1 219.8l-1.3 0.0M438.8 219.8l-1.3 0.0M441.5 219.8l-1.3 0.0M444.2 219.8l-1.3 0.0M446.9 219.8l-1.3 0.0M449.6 219.8l-1.3 0.0M452.3 219.8l-1.3 0.0M455.0 219.8l-1.3 0.0M457.7 219.8l-1.3 0.0"/>
<path stroke="#00e000" stroke-opacity=".2" stroke-width="1.25" d="M526.5 208.8l-0.1 -1.2"/>
<path stroke="#00e070" stroke-opacity=".2" stroke-width="1.0" d="M519.3 214.3l-0.1 -1.3"/>
<path stroke="#00e080" stroke-opacity=".2" stroke-width="0.9" d="M510.6 178.6l-0.2 -1.2"/>
<path stroke="#00e0a0" stroke-opacity=".2" stroke-width="0.9" d="M514.4 217.8l-1.1 0.4"/>
<path stroke="#00e0a0" stroke-opacity=".2" stroke-width="1.55" d="M522.5 216.1l-0.1 -1.2"/>
<path stroke="#00e0b0" stroke-opacity=".2" stroke-width="0.9" d="M527.3 202.5l-0.0 1.5M530.1 202.5l-0.0 1.4M532.0 164.7l-0.0 1.3M532.0 167.4l-0.0 1.4M532.0 170.1l-0.0 1.4M532.0 172.8l-0.0 1.4M532.0 175.5l-0.0 1.4M532.0 178.2l0.0 1.4M532.0 180.9l0.0 1.4M532.0 183.6l0.0 1.4M532.0 186.3l0.0 1.4M532.1 189.0l0.0 1.4M532.2 191.7l0.1 1.4M532.3 194.4l0.1 1.3M532.4 197.1l0.0 1.3M532.5 199.8l0.0 1.3M511.6 187.0l-0.1 -1.3"/>
<path stroke="#00e0c0" stroke-opacity=".2" stroke-width="0.9" d="M432.7 166.4l-1.4 0.0M463.2 168.8l-1.4 0.0"/>
<path stroke="#00e0d0" stroke-opacity=".2" stroke-width="0.8" d="M422.6 173.9l-1.3 0.0M425.3 173.9l-1.3 0.0M428.0 173.9l-1.3 0.0M430.7 173.9l-1.3 0.0M433.4 173.9l-1.3 0.0M436.1 173.9l-1.3 0.0M438.8 173.9l-1.3 0.0M441.5 173.9l-1.3 0.0M444.2 173.9l-1.3 0.0M446.9 173.9l-1.3 0.0M449.6 173.9l-1.3 0.0M452.3 173.9l-1.3 0.0M455.0 173.9l-1.3 0.0M457.7 173.9l-1.3 0.0M417.2 176.4l-1.3 0.0M419.9 176.4l-1.3 0.0M422.6 176.4l-1.3 0.0M425.3 176.4l-1.3 0.0M428.0 176.4l-1.3 0.0M430.7 176.4l-1.3 0.0M433.4 176.4l-1.3 0.0M436.1 176.4l-1.3 0.0M438.8 176.4l-1.3 0.0M441.5 176.4l-1.3 0.0M444.2 176.4l-1.3 0.0M446.9 176.4l-1.3 0.0M449.6 176.4l-1.3 0.0M452.3 176.4l-1.3 0.0M455.0 176.4l-1.3 0.0M457.7 176.4l-1.3 0.0M460.4 176.4l-1.3 0.0M463.1 176.4l-1.3 0.0M465.8 176.4l-1.3 0.0M468.5 176.4l-1.3 0.0M471.2 176.4l-1.3 0.0M414.5 179.0l-1.3 0.0M417.2 179.0l-1.3 0.0M419.9 179.0l-1.3 0.0M422.6 179.0l-1.3 0.0M425.3 179.0l-1.3 0.0M428.0 179.0l-1.3 0.0M430.7 179.0l-1.3 0.0M433.4 179.0l-1.3 0.0M436.1 179.0l-1.3 0.0M438.8 179.0l-1.3 0.0M441.5 179.0l-1.3 0.0M444.2 179.0l-1.3 0.0M446.9 179.0l-1.3 0.0M449.6 179.0l-1.3 0.0M452.3 179.0l-1.3 0.0M455.0 179.0l-1.3 0.0M457.7 179.0l-1.3 0.0M460.4 179.0l-1.3 0.0M463.1 179.0l-1.3 0.0M465.8 179.0l-1.3 0.0M468.5 179.0l-1.3 0.0M471.2 179.0l-1.3 0.0M473.9 179.0l-1.3 0.0M476.6 179.0l-1.3 0.0M479.3 179.0l-1.3 0.0M482.0 179.0l-1.3 0.0M414.5 181.5l-1.3 0.0M417.2 181.5l-1.3 0.0M419.9 181.5l-1.3 0.0M422.6 181.5l-1.3 0.0M425.3 181.5l-1.3 0.0M428.0 181.5l-1.3 0.0M430.7 181.5l-1.3 0.0M433.4 181.5l-1.3 0.0M436.1 181.5l-1.3 0.0M438.8 181.5l-1.3 0.0M441.5 181.5l-1.3 0.0M444.2 181.5l-1.3 0.0M460.4 181.5l-1.3 0.0M463.1 181.5l-1.3 0.0M465.8 181.5l-1.3 0.0M468.5 181.5l-1.3 0.0M471.2 181.5l-1.3 0.0M473.9 181.5l-1.3 0.0M476.6 181.5l-1.3 0.0M479.3 181.5l-1.3 0.0M482.0 181.5l-1.3 0.0M484.7 181.5l-1.3 0.0M487.4 181.5l-1.3 0.0M490.1 181.5l-1.3 0.0M492.8 181.5l-1.3 0.0M414.5 184.1l-1.3 0.0M417.2 184.1l-1.3 0.0M419.9 184.1l-1.3 0.0M422.6 184.1l-1.3 0.0M425.3 184.1l-1.3 0.0M428.0 184.1l-1.3 0.0M430.7 184.1l-1.3 0.0M433.4 184.1l-1.3 0.0M436.1 184.1l-1.3 0.0M476.6 184.1l-1.3 0.0M479.3 184.1l-1.3 0.0M482.0 184.1l-1.3 0.0M484.7 184.1l-1.3 0.0M487.4 184.1l-1.3 0.0M490.1 184.1l-1.3 0.0M492.8 184.1l-1.3 0.0M495.5 184.1l-1.3 0.0M498.2 184.1l-1.3 0.0M417.2 186.6l-1.3 0.0M419.9 186.6l-1.3 0.0M422.6 186.6l-1.3 0.0M425.3 186.6l-1.3 0.0M428.0 186.6l-1.3 0.0M430.7 186.6l-1.3 0.0M433.4 186.6l-1.3 0.0M436.1 186.6l-1.3 0.0M482.0 186.6l-1.3 0.0M484.7 186.6l-1.3 0.0M487.4 186.6l-1.3 0.0M490.1 186.6l-1.3 0.0M492.8 186.6l-1.3 0.0M495.5 186.6l-1.3 0.0M498.2 186.6l-1.3 0.0M500.9 186.6l-1.3 0.0M419.9 189.2l-1.3 0.0M422.6 189.2l-1.3 0.0M425.3 189.2l-1.3 0.0M428.0 189.2l-1.3 0.0M430.7 189.2l-1.3 0.0M433.4 189.2l-1.3 0.0M436.1 189.2l-1.3 0.0M487.4 189.2l-1.3 0.0M490.1 189.2l-1.3 0.0M492.8 189.2l-1.3 0.0M495.5 189.2l-1.3 0.0M498.2 189.2l-1.3 0.0M500.9 189.2l-1.3 0.0M503.6 189.2l-1.3 0.0M419.9 191.7l-1.3 0.0M422.6 191.7l-1.3 0.0M425.3 191.7l-1.3 0.0M428.0 191.7l-1.3 0.0M430.7 191.7l-1.3 0.0M433.4 191.7l-1.3 0.0M436.1 191.7l-1.3 0.0M438.8 191.7l-1.3 0.0M487.4 191.7l-1.3 0.0M490.1 191.7l-1.3 0.0M492.8 191.7l-1.3 0.0M495.5 191.7l-1.3 0.0M498.2 191.7l-1.3 0.0M500.9 191.7l-1.3 0.0M503.6 191.7l-1.3 0.0M506.3 191.7l-1.3 0.0M422.6 194.3l-1.3 0.0M425.3 194.3l-1.3 0.0M428.0 194.3l-1.3 0.0M430.7 194.3l-1.3 0.0M433.4 194.3l-1.3 0.0M436.1 194.3l-1.3 0.0M438.8 194.3l-1.3 0.0M441.5 194.3l-1.3 0.0M487.4 194.3l-1.3 0.0M490.1 194.3l-1.3 0.0M492.8 194.3l-1.3 0.0M495.5 194.3l-1.3 0.0M498.2 194.3l-1.3 0.0M500.9 194.3l-1.3 0.0M503.6 194.3l-1.3 0.0M425.3 196.8l-1.3 0.0M428.0 196.8l-1.3 0.0M430.7 196.8l-1.3 0.0M433.4 196.8l-1.3 0.0M436.1 196.8l-1.3 0.0M438.8 196.8l-1.3 0.0M441.5 196.8l-1.3 0.0M444.2 196.8l-1.3 0.0M446.9 196.8l-1.3 0.0M482.0 196.8l-1.3 0.0M484.7 196.8l-1.3 0.0M487.4 196.8l-1.3 0.0M490.1 196.8l-1.3 0.0M492.8 196.8l-1.3 0.0M495.5 196.8l-1.3 0.0M498.2 196.8l-1.3 0.0M500.9 196.8l-1.3 0.0M503.6 196.8l-1.3 0.0M430.7 199.4l-1.3 0.0M433.4 199.4l-1.3 0.0M436.1 199.4l-1.3 0.0M438.8 199.4l-1.3 0.0M441.5 199.4l-1.3 0.0M444.2 199.4l-1.3 0.0M446.9 199.4l-1.3 0.0M449.6 199.4l-1.3 0.0M452.3 199.4l-1.3 0.0M455.0 199.4l-1.3 0.0M457.7 199.4l-1.3 0.0M460.4 199.4l-1.3 0.0M463.1 199.4l-1.3 0.0M465.8 199.4l-1.3 0.0M468.5 199.4l-1.3 0.0M471.2 199.4l-1.3 0.0M473.9 199.4l-1.3 0.0M476.6 199.4l-1.3 0.0M479.3 199.4l-1.3 0.0M482.0 199.4l-1.3 0.0M484.7 199.4l-1.3 0.0M487.4 199.4l-1.3 0.0M490.1 199.4l-1.3 0.0M492.8 199.4l-1.3 0.0M495.5 199.4l-1.3 0.0M498.2 199.4l-1.3 0.0M438.8 201.9l-1.3 0.0M441.5 201.9l-1.3 0.0M444.2 201.9l-1.3 0.0M446.9 201.9l-1.3 0.0M449.6 201.9l-1.3 0.0M452.3 201.9l-1.3 0.0M455.0 201.9l-1.3 0.0M457.7 201.9l-1.3 0.0M460.4 201.9l-1.3 0.0M463.1 201.9l-1.3 0.0M465.8 201.9l-1.3 0.0M468.5 201.9l-1.3 0.0M471.2 201.9l-1.3 0.0M473.9 201.9l-1.3 0.0M476.6 201.9l-1.3 0.0M479.3 201.9l-1.3 0.0M482.0 201.9l-1.3 0.0M484.7 201.9l-1.3 0.0M487.4 201.9l-1.3 0.0M490.1 201.9l-1.3 0.0M492.8 201.9l-1.3 0.0M452.3 204.5l-1.3 0.0M455.0 204.5l-1.3 0.0M457.7 204.5l-1.3 0.0M460.4 204.5l-1.3 0.0M463.1 204.5l-1.3 0.0M465.8 204.5l-1.3 0.0M468.5 204.5l-1.3 0.0M471.2 204.5l-1.3 0.0M473.9 204.5l-1.3 0.0M476.6 204.5l-1.3 0.0M479.3 204.5l-1.3 0.0"/>
<path stroke="#00e0d0" stroke-opacity=".2" stroke-width="0.9" d="M404.8 163.8l-1.4 0.0M402.1 163.8l-1.4 0.0M399.4 163.8l-1.3 0.0M396.7 163.8l-1.3 0.0M430.0 166.4l-1.4 0.0M427.3 166.4l-1.4 0.0M424.6 166.4l-1.4 0.0M421.9 166.4l-1.3 0.0M460.5 168.8l-1.4 0.0M457.8 168.8l-1.4 0.0M455.1 168.9l-1.4 0.0M452.4 168.9l-1.4 0.0M449.7 168.9l-1.4 0.0M447.0 168.9l-1.3 0.0"/>
<path stroke="#00e0d0" stroke-opacity=".2" stroke-width="1.0" d="M395.2 161.0l-1.5 -0.0M392.5 161.0l-1.4 0.0"/>
<path stroke="#00e0d0" stroke-opacity=".2" stroke-width="1.3" d="M460.2 206.3l1.2 0.1"/>
<path stroke="#60e000" stroke-opacity=".2" stroke-width="1.0" d="M525.4 203.0l0.2 0.9"/>
<path stroke="#00e030" stroke-opacity=".3" stroke-width="0.9" d="M509.4 169.3l-0.3 -1.3"/>
<path stroke="#00e030" stroke-opacity=".3" stroke-width="0.95" d="M516.6 208.8l0.2 1.7"/>
<path stroke="#00e060" stroke-opacity=".3" stroke-width="1.0" d="M519.0 211.6l-0.1 -1.5M520.9 213.9l-0.2 -1.5"/>
<path stroke="#00e070" stroke-opacity=".3" stroke-width="1.55" d="M525.8 214.8l-0.2 -1.5"/>
<path stroke="#00e080" stroke-opacity=".3" stroke-width="0.9" d="M529.2 216.2l0.8 0.2"/>
<path stroke="#00e080" stroke-opacity=".3" stroke-width="1.55" d="M524.8 215.2l-0.2 -1.4"/>
<path stroke="#00e090" stroke-opacity=".3" stroke-width="0.95" d="M514.2 208.8l0.2 1.6"/>
<path stroke="#00e090" stroke-opacity=".3" stroke-width="1.55" d="M523.7 215.7l-0.1 -1.3"/>
<path stroke="#00e0a0" stroke-opacity=".3" stroke-width="0.9" d="M516.5 216.9l-1.3 0.6"/>
<path stroke="#00e0b0" stroke-opacity=".3" stroke-width="0.9" d="M529.6 164.7l-0.0 1.6M529.6 183.6l0.0 1.7M529.6 186.3l0.0 1.6M529.7 189.0l0.1 1.6M529.8 191.7l0.1 1.6M529.9 194.4l0.1 1.6M530.0 197.1l0.1 1.5M530.1 199.8l0.0 1.5M511.3 184.3l-0.1 -1.4"/>
<path stroke="#00e0c0" stroke-opacity=".3" stroke-width="0.9" d="M421.0 163.7l-1.6 0.0M418.3 163.7l-1.6 0.0M415.6 163.7l-1.6 0.0M412.9 163.7l-1.5 0.0M410.2 163.7l-1.5 0.0M407.5 163.8l-1.5 0.0M454.3 166.2l-1.6 0.0M451.6 166.2l-1.6 0.0M448.9 166.2l-1.6 0.0M446.2 166.3l-1.6 0.0M443.5 166.3l-1.5 0.0M440.8 166.3l-1.5 0.0M438.1 166.3l-1.5 0.0M435.4 166.3l-1.5 0.0M495.6 168.6l-1.7 0.0M492.9 168.6l-1.6 0.0M490.2 168.6l-1.6 0.0M487.5 168.6l-1.6 0.0M484.8 168.7l-1.6 0.0M482.1 168.7l-1.6 0.0M479.4 168.7l-1.6 0.0M476.7 168.7l-1.5 0.0M474.0 168.7l-1.5 0.0M471.3 168.7l-1.5 0.0M468.6 168.8l-1.5 0.0M465.9 168.8l-1.5 0.0"/>
<path stroke="#00e0c0" stroke-opacity=".3" stroke-width="1.0" d="M403.3 161.0l-1.6 -0.0M400.6 161.0l-1.6 -0.0M397.9 161.0l-1.5 -0.0"/>
<path stroke="#00e0d0" stroke-opacity=".3" stroke-width="0.8" d="M446.9 181.5l-1.3 0.0M449.6 181.5l-1.3 0.0M452.3 181.5l-1.3 0.0M455.0 181.5l-1.3 0.0M457.7 181.5l-1.3 0.0M438.8 184.1l-1.3 0.0M441.5 184.1l-1.3 0.0M444.2 184.1l-1.3 0.0M446.9 184.1l-1.3 0.0M449.6 184.1l-1.3 0.0M452.3 184.1l-1.3 0.0M455.0 184.1l-1.3 0.0M457.7 184.1l-1.3 0.0M460.4 184.1l-1.3 0.0M463.1 184.1l-1.3 0.0M465.8 184.1l-1.3 0.0M468.5 184.1l-1.3 0.0M471.2 184.1l-1.3 0.0M473.9 184.1l-1.3 0.0M438.8 186.6l-1.3 0.0M441.5 186.6l-1.3 0.0M444.2 186.6l-1.3 0.0M446.9 186.6l-1.3 0.0M449.6 186.6l-1.3 0.0M452.3 186.6l-1.3 0.0M455.0 186.6l-1.3 0.0M457.7 186.6l-1.3 0.0M460.4 186.6l-1.3 0.0M463.1 186.6l-1.3 0.0M465.8 186.6l-1.3 0.0M468.5 186.6l-1.3 0.0M471.2 186.6l-1.3 0.0M473.9 186.6l-1.3 0.0M476.6 186.6l-1.3 0.0M479.3 186.6l-1.3 0.0M438.8 189.2l-1.3 0.0M441.5 189.2l-1.3 0.0M444.2 189.2l-1.3 0.0M446.9 189.2l-1.3 0.0M449.6 189.2l-1.3 0.0M452.3 189.2l-1.3 0.0M455.0 189.2l-1.3 0.0M457.7 189.2l-1.3 0.0M460.4 189.2l-1.3 0.0M463.1 189.2l-1.3 0.0M465.8 189.2l-1.3 0.0M468.5 189.2l-1.3 0.0M471.2 189.2l-1.3 0.0M473.9 189.2l-1.3 0.0M476.6 189.2l-1.3 0.0M479.3 189.2l-1.3 0.0M482.0 189.2l-1.3 0.0M484.7 189.2l-1.3 0.0M441.5 191.7l-1.3 0.0M444.2 191.7l-1.3 0.0M446.9 191.7l-1.3 0.0M449.6 191.7l-1.3 0.0M452.3 191.7l-1.3 0.0M455.0 191.7l-1.3 0.0M457.7 191.7l-1.3 0.0M460.4 191.7l-1.3 0.0M463.1 191.7l-1.3 0.0M465.8 191.7l-1.3 0.0M468.5 191.7l-1.3 0.0M471.2 191.7l-1.3 0.0M473.9 191.7l-1.3 0.0M476.6 191.7l-1.3 0.0M479.3 191.7l-1.3 0.0M482.0 191.7l-1.3 0.0M484.7 191.7l-1.3 0.0M444.2 194.3l-1.3 0.0M446.9 194.3l-1.3 0.0M449.6 194.3l-1.3 0.0M452.3 194.3l-1.3 0.0M455.0 194.3l-1.3 0.0M457.7 194.3l-1.3 0.0M460.4 194.3l-1.3 0.0M463.1 194.3l-1.3 0.0M465.8 194.3l-1.3 0.0M468.5 194.3l-1.3 0.0M471.2 194.3l-1.3 0.0M473.9 194.3l-1.3 0.0M476.6 194.3l-1.3 0.0M479.3 194.3l-1.3 0.0M482.0 194.3l-1.3 0.0M484.7 194.3l-1.3 0.0M449.6 196.8l-1.3 0.0M452.3 196.8l-1.3 0.0M455.0 196.8l-1.3 0.0M457.7 196.8l-1.3 0.0M460.4 196.8l-1.3 0.0M463.1 196.8l-1.3 0.0M465.8 196.8l-1.3 0.0M468.5 196.8l-1.3 0.0M471.2 196.8l-1.3 0.0M473.9 196.8l-1.3 0.0M476.6 196.8l-1.3 0.0M479.3 196.8l-1.3 0.0"/>
<path stroke="#00e0d0" stroke-opacity=".3" stroke-width="1.1" d="M454.1 202.2l1.3 0.3M456.3 202.6l1.2 0.2"/>
<path stroke="#00e0d0" stroke-opacity=".3" stroke-width="1.3" d="M473.7 204.6l1.4 0.4M458.0 206.0l1.4 0.2"/>
<path stroke="#00e000" stroke-opacity=".4" stroke-width="1.25" d="M526.2 206.1l-0.2 -1.6"/>
<path stroke="#00e060" stroke-opacity=".4" stroke-width="0.9" d="M520.1 211.3l-0.3 1.3"/>
<path stroke="#00e060" stroke-opacity=".4" stroke-width="1.0" d="M518.8 208.9l-0.3 -1.7"/>
<path stroke="#00e070" stroke-opacity=".4" stroke-width="0.9" d="M527.0 215.5l1.6 0.5"/>
<path stroke="#00e080" stroke-opacity=".4" stroke-width="0.9" d="M510.2 175.9l-0.3 -1.6M518.2 215.4l-1.1 1.1"/>
<path stroke="#00e090" stroke-opacity=".4" stroke-width="0.95" d="M512.7 192.6l0.3 1.5M513.9 206.1l0.2 1.8"/>
<path stroke="#00e0a0" stroke-opacity=".4" stroke-width="1.0" d="M414.1 161.0l-1.8 0.0"/>
<path stroke="#00e0b0" stroke-opacity=".4" stroke-width="0.9" d="M527.1 194.4l0.1 1.8M527.2 197.1l0.1 1.8M527.3 199.8l0.0 1.8M529.6 167.4l-0.0 1.7M529.6 170.1l-0.0 1.7M529.6 172.8l-0.0 1.7M529.6 175.5l-0.0 1.7M529.6 178.2l0.0 1.7M529.6 180.9l0.0 1.7M437.2 163.5l-1.8 0.0M434.5 163.6l-1.8 0.0M431.8 163.6l-1.8 0.0M478.6 166.0l-1.8 0.0M475.9 166.0l-1.8 0.0M473.2 166.0l-1.8 0.0M470.5 166.1l-1.8 0.0M467.8 166.1l-1.7 0.0M465.1 166.1l-1.7 0.0M462.4 166.1l-1.7 0.0M459.7 166.2l-1.7 0.0M457.0 166.2l-1.7 0.0M511.0 181.6l-0.2 -1.6M510.6 179.0l-0.3 -1.7M510.2 176.3l-0.3 -1.7M509.6 173.7l-0.7 -1.6M508.4 171.3l-1.2 -1.3M506.3 169.6l-1.7 -0.4M503.7 169.0l-1.7 -0.2"/>
<path stroke="#00e0b0" stroke-opacity=".4" stroke-width="1.0" d="M411.4 161.0l-1.8 0.0M408.7 161.0l-1.7 0.0M406.0 161.0l-1.7 -0.0"/>
<path stroke="#00e0c0" stroke-opacity=".4" stroke-width="0.9" d="M429.1 163.6l-1.7 0.0M426.4 163.6l-1.7 0.0M423.7 163.6l-1.7 0.0M501.0 168.7l-1.7 -0.1M498.3 168.6l-1.7 -0.0"/>
<path stroke="#00e0d0" stroke-opacity=".4" stroke-width="1.3" d="M447.5 202.6l1.2 0.5"/>
<path stroke="#00e000" stroke-opacity=".5" stroke-width="1.0" d="M513.5 188.0l-0.4 -1.9M512.9 185.4l-0.4 -1.9M512.3 182.7l-0.3 -1.9M511.9 180.1l-0.3 -1.9M511.4 177.4l-0.3 -1.9M510.9 174.8l-0.4 -1.9M510.4 172.1l-0.4 -1.9"/>
<path stroke="#00e000" stroke-opacity=".5" stroke-width="1.25" d="M525.9 203.4l-0.3 -1.9"/>
<path stroke="#00e010" stroke-opacity=".5" stroke-width="1.0" d="M515.6 195.8l-0.5 -1.9M514.8 193.2l-0.5 -1.9M514.1 190.6l-0.5 -1.9M509.9 169.5l-0.4 -1.9M509.3 166.8l-0.4 -1.9M503.9 159.9l-1.8 -0.8M520.6 211.2l-0.2 -1.9"/>
<path stroke="#00e020" stroke-opacity=".5" stroke-width="0.9" d="M522.9 210.3l0.3 1.4"/>
<path stroke="#00e020" stroke-opacity=".5" stroke-width="1.0" d="M516.9 201.1l-0.5 -1.9M516.3 198.4l-0.5 -1.9M508.8 164.2l-0.5 -1.9"/>
<path stroke="#00e020" stroke-opacity=".5" stroke-width="1.55" d="M523.4 213.0l-0.2 -1.8"/>
<path stroke="#00e030" stroke-opacity=".5" stroke-width="0.95" d="M515.1 192.6l0.3 1.7M516.3 206.1l0.2 2.0"/>
<path stroke="#00e030" stroke-opacity=".5" stroke-width="1.0" d="M508.0 161.6l-0.9 -1.7"/>
<path stroke="#00e040" stroke-opacity=".5" stroke-width="1.0" d="M517.6 203.7l-0.5 -1.8M506.5 159.6l-1.9 0.5"/>
<path stroke="#00e050" stroke-opacity=".5" stroke-width="0.9" d="M525.1 214.2l1.4 1.0"/>
<path stroke="#00e050" stroke-opacity=".5" stroke-width="1.0" d="M518.2 206.3l-0.4 -1.8"/>
<path stroke="#00e050" stroke-opacity=".5" stroke-width="1.55" d="M522.2 213.4l-0.2 -1.7"/>
<path stroke="#00e070" stroke-opacity=".5" stroke-width="0.9" d="M519.4 213.5l-0.8 1.4"/>
<path stroke="#00e070" stroke-opacity=".5" stroke-width="1.0" d="M427.6 161.0l-2.0 0.0"/>
<path stroke="#00e080" stroke-opacity=".5" stroke-width="0.9" d="M509.7 173.3l-0.6 -1.9"/>
<path stroke="#00e080" stroke-opacity=".5" stroke-width="1.0" d="M424.9 161.0l-2.0 0.0"/>
<path stroke="#00e090" stroke-opacity=".5" stroke-width="0.9" d="M456.1 163.4l-2.0 0.0M453.4 163.4l-2.0 0.0M450.7 163.4l-2.0 0.0M507.7 168.3l-1.6 -1.3"/>
<path stroke="#00e090" stroke-opacity=".5" stroke-width="0.95" d="M513.1 195.3l0.2 1.9M513.3 198.0l0.1 1.9M513.5 200.7l0.1 1.9M513.6 203.4l0.2 1.9"/>
<path stroke="#00e090" stroke-opacity=".5" stroke-width="1.0" d="M422.2 161.0l-2.0 0.0M419.5 161.0l-1.9 0.0"/>
<path stroke="#00e0a0" stroke-opacity=".5" stroke-width="0.9" d="M448.0 163.5l-2.0 0.0M445.3 163.5l-1.9 0.0M442.6 163.5l-1.9 0.0M505.5 166.8l-1.9 -0.5M502.9 166.2l-2.0 -0.2M500.2 166.0l-1.9 -0.1M497.5 165.9l-1.9 -0.0M494.8 165.9l-1.9 0.0"/>
<path stroke="#00e0a0" stroke-opacity=".5" stroke-width="1.0" d="M416.8 161.0l-1.9 0.0"/>
<path stroke="#00e0b0" stroke-opacity=".5" stroke-width="0.9" d="M526.8 164.7l-0.0 1.8M526.8 167.4l-0.0 1.9M526.8 170.1l-0.0 1.9M526.8 172.8l-0.0 1.9M526.8 175.5l-0.0 1.9M526.8 178.2l0.0 1.9M526.8 180.9l0.0 1.9M526.8 183.6l0.0 1.9M526.8 186.3l0.0 1.9M526.9 189.0l0.1 1.9M527.0 191.7l0.1 1.9M439.9 163.5l-1.9 0.0M492.1 165.9l-1.9 0.0M489.4 165.9l-1.9 0.0M486.7 165.9l-1.9 0.0M484.0 166.0l-1.9 0.0M481.3 166.0l-1.9 0.0"/>
<path stroke="#00e0d0" stroke-opacity=".5" stroke-width="1.1" d="M505.4 203.0l1.6 1.2"/>
<path stroke="#00e0d0" stroke-opacity=".5" stroke-width="1.3" d="M469.6 203.1l1.5 0.6M471.7 203.9l1.5 0.6M449.6 203.4l1.4 0.5M451.6 204.2l1.4 0.5M453.7 204.9l1.5 0.5M455.8 205.6l1.5 0.3"/>
<path stroke="#40e000" stroke-opacity=".5" stroke-width="1.0" d="M501.4 158.8l-0.0 -0.0"/>
<path stroke="#00e000" stroke-opacity=".6" stroke-width="1.25" d="M525.5 200.8l-0.3 -2.1"/>
<path stroke="#00e000" stroke-opacity=".6" stroke-width="1.55" d="M524.5 212.5l-0.2 -1.9"/>
<path stroke="#00e030" stroke-opacity=".6" stroke-width="0.9" d="M508.8 166.7l-1.2 -1.7M523.6 212.4l1.1 1.5"/>
<path stroke="#00e030" stroke-opacity=".6" stroke-width="0.95" d="M515.5 195.3l0.2 2.2M515.7 198.0l0.1 2.2M515.9 200.7l0.1 2.2M516.0 203.4l0.2 2.2"/>
<path stroke="#00e040" stroke-opacity=".6" stroke-width="1.0" d="M532.7 211.4l0.7 -0.0"/>
<path stroke="#00e050" stroke-opacity=".6" stroke-width="1.0" d="M438.4 160.9l-2.2 0.0M435.7 160.9l-2.2 0.0"/>
<path stroke="#00e060" stroke-opacity=".6" stroke-width="0.9" d="M480.4 163.2l-2.2 0.0"/>
<path stroke="#00e060" stroke-opacity=".6" stroke-width="1.0" d="M433.0 160.9l-2.1 0.0"/>
<path stroke="#00e070" stroke-opacity=".6" stroke-width="0.9" d="M477.7 163.2l-2.2 0.0M475.0 163.2l-2.2 0.0M472.3 163.3l-2.2 0.0"/>
<path stroke="#00e070" stroke-opacity=".6" stroke-width="1.0" d="M430.3 160.9l-2.1 0.0"/>
<path stroke="#00e080" stroke-opacity=".6" stroke-width="0.9" d="M469.6 163.3l-2.2 0.0M466.9 163.3l-2.1 0.0M464.2 163.3l-2.1 0.0M461.5 163.3l-2.1 0.0M508.9 170.7l-0.8 -1.9"/>
<path stroke="#00e090" stroke-opacity=".6" stroke-width="0.9" d="M458.8 163.4l-2.1 0.0"/>
<path stroke="#10e000" stroke-opacity=".6" stroke-width="1.55" d="M525.5 212.1l-0.2 -2.0"/>
<path stroke="#30e000" stroke-opacity=".6" stroke-width="1.0" d="M520.3 208.5l-0.4 -2.1"/>
<path stroke="#00e000" stroke-opacity=".7" stroke-width="1.0" d="M524.8 208.3l1.0 1.5"/>
<path stroke="#00e020" stroke-opacity=".7" stroke-width="1.0" d="M449.2 160.7l-2.4 0.0M446.5 160.7l-2.4 0.0M531.3 208.5l2.1 0.1"/>
<path stroke="#00e030" stroke-opacity=".7" stroke-width="0.9" d="M507.1 164.6l-2.1 -1.0"/>
<path stroke="#00e030" stroke-opacity=".7" stroke-width="1.0" d="M443.8 160.8l-2.3 0.0M530.4 211.4l2.0 -0.0"/>
<path stroke="#00e040" stroke-opacity=".7" stroke-width="0.9" d="M504.7 163.5l-2.4 -0.3M502.0 163.3l-2.4 -0.0"/>
<path stroke="#00e040" stroke-opacity=".7" stroke-width="1.0" d="M441.1 160.8l-2.3 0.0"/>
<path stroke="#00e050" stroke-opacity=".7" stroke-width="0.9" d="M499.3 163.2l-2.4 -0.0M496.6 163.2l-2.3 -0.0M493.9 163.2l-2.3 -0.0"/>
<path stroke="#00e060" stroke-opacity=".7" stroke-width="0.9" d="M491.2 163.2l-2.3 0.0M488.5 163.2l-2.3 0.0M485.8 163.2l-2.3 0.0M483.1 163.2l-2.3 0.0"/>
<path stroke="#00e0d0" stroke-opacity=".7" stroke-width="1.5" d="M504.0 203.6l0.6 4.6"/>
<path stroke="#10e000" stroke-opacity=".7" stroke-width="1.25" d="M525.1 198.1l-0.3 -2.2"/>
<path stroke="#10e000" stroke-opacity=".7" stroke-width="1.55" d="M521.9 210.7l-0.3 -2.2"/>
<path stroke="#30e000" stroke-opacity=".7" stroke-width="1.0" d="M525.9 205.2l0.9 1.6"/>
<path stroke="#40e000" stroke-opacity=".7" stroke-width="1.0" d="M519.8 205.9l-0.5 -2.2"/>
<path stroke="#60d000" stroke-opacity=".7" stroke-width="1.0" d="M518.6 200.6l-0.5 -2.3"/>
<path stroke="#60e000" stroke-opacity=".7" stroke-width="1.0" d="M519.2 203.2l-0.5 -2.3"/>
<path stroke="#00e000" stroke-opacity=".8" stroke-width="1.0" d="M457.3 160.6l-2.5 0.0M454.6 160.6l-2.5 0.0"/>
<path stroke="#00e010" stroke-opacity=".8" stroke-width="1.0" d="M451.9 160.6l-2.5 0.0M529.0 208.3l2.2 0.2M526.1 210.1l1.8 1.1"/>
<path stroke="#00e020" stroke-opacity=".8" stroke-width="1.0" d="M528.1 211.2l2.1 0.2"/>
<path stroke="#10e000" stroke-opacity=".8" stroke-width="1.0" d="M460.0 160.6l-2.6 0.0M527.1 207.2l1.9 1.1"/>
<path stroke="#10e000" stroke-opacity=".8" stroke-width="1.25" d="M524.7 195.4l-0.3 -2.4"/>
<path stroke="#20e000" stroke-opacity=".8" stroke-width="1.0" d="M465.4 160.6l-2.6 -0.0M462.7 160.6l-2.6 -0.0"/>
<path stroke="#40e000" stroke-opacity=".8" stroke-width="1.0" d="M508.4 159.6l-2.0 -0.9M506.2 158.5l-0.5 -0.5"/>
<path stroke="#60d000" stroke-opacity=".8" stroke-width="1.0" d="M511.0 163.6l-0.7 -2.3"/>
<path stroke="#60e000" stroke-opacity=".8" stroke-width="1.0" d="M510.2 161.0l-1.6 -1.5"/>
<path stroke="#70d000" stroke-opacity=".8" stroke-width="1.0" d="M518.0 198.0l-0.6 -2.4M517.3 195.3l-0.6 -2.4M516.7 192.7l-0.6 -2.4M512.1 168.8l-0.5 -2.4M511.6 166.2l-0.6 -2.4"/>
<path stroke="#80d000" stroke-opacity=".8" stroke-width="1.0" d="M516.1 190.1l-0.5 -2.4M515.5 187.4l-0.5 -2.4M515.0 184.8l-0.4 -2.4M514.5 182.1l-0.4 -2.4M514.1 179.5l-0.4 -2.4M513.7 176.8l-0.4 -2.4M513.2 174.1l-0.5 -2.4M512.7 171.5l-0.5 -2.4"/>
<path stroke="#80d000" stroke-opacity=".8" stroke-width="1.55" d="M523.1 210.3l-0.3 -2.3"/>
<path stroke="#a0d000" stroke-opacity=".8" stroke-width="1.55" d="M525.2 209.4l-0.3 -2.4"/>
<path stroke="#c0d000" stroke-opacity=".8" stroke-width="1.55" d="M524.2 209.8l-0.3 -2.4"/>
<path stroke="#10e000" stroke-opacity=".9" stroke-width="1.25" d="M524.3 192.8l-0.3 -2.6M524.0 190.1l-0.2 -2.7"/>
<path stroke="#20e000" stroke-opacity=".9" stroke-width="1.25" d="M523.8 187.4l-0.2 -2.7M523.6 184.7l-0.1 -2.8M523.5 182.0l-0.1 -2.8"/>
<path stroke="#30e000" stroke-opacity=".9" stroke-width="1.0" d="M468.1 160.6l-2.7 -0.0"/>
<path stroke="#30e000" stroke-opacity=".9" stroke-width="1.25" d="M523.4 179.3l-0.1 -2.8M523.3 176.6l-0.1 -2.8"/>
<path stroke="#40e000" stroke-opacity=".9" stroke-width="1.0" d="M473.5 160.6l-2.7 -0.0M470.8 160.6l-2.7 -0.0"/>
<path stroke="#50e000" stroke-opacity=".9" stroke-width="1.0" d="M478.9 160.6l-2.7 0.0M476.2 160.6l-2.7 0.0"/>
<path stroke="#60d000" stroke-opacity=".9" stroke-width="1.0" d="M503.0 158.4l-2.6 0.8M487.0 160.6l-2.8 0.0"/>
<path stroke="#60d000" stroke-opacity=".9" stroke-width="1.55" d="M521.6 208.1l-0.5 -2.6"/>
<path stroke="#60e000" stroke-opacity=".9" stroke-width="1.0" d="M484.3 160.6l-2.8 0.0M481.6 160.6l-2.8 0.0"/>
<path stroke="#70d000" stroke-opacity=".9" stroke-width="1.0" d="M500.4 159.2l-2.7 0.6M492.4 160.4l-2.8 0.1M489.7 160.5l-2.8 0.1"/>
<path stroke="#a0d000" stroke-opacity=".9" stroke-width="1.55" d="M521.1 205.4l-0.5 -2.7"/>
<path stroke="#e0a000" stroke-opacity=".9" stroke-width="1.55" d="M522.3 204.9l-0.5 -2.7M524.5 204.0l-0.4 -2.7"/>
<path stroke="#e0b000" stroke-opacity=".9" stroke-width="1.55" d="M523.9 207.2l-0.4 -2.6"/>
<path stroke="#e0e000" stroke-opacity=".9" stroke-width="1.55" d="M522.7 207.6l-0.4 -2.6M524.8 206.7l-0.3 -2.7"/>
<path stroke="#f08010" stroke-opacity=".9" stroke-width="1.55" d="M523.5 204.5l-0.4 -2.7"/>
<path stroke="#30e000" stroke-width="1.25" d="M523.3 173.9l-0.0 -2.8"/>
<path stroke="#40e000" stroke-width="1.25" d="M523.2 171.2l-0.0 -2.8M523.2 168.5l-0.0 -2.8M523.2 165.8l0.0 -2.8"/>
<path stroke="#50e000" stroke-width="1.25" d="M523.2 163.1l0.0 -2.8M523.2 160.4l0.0 -2.8"/>
<path stroke="#60d000" stroke-width="1.55" d="M514.2 157.1l0.2 -1.1M517.1 156.5l0.3 -1.3M519.4 155.9l0.4 -1.5"/>
<path stroke="#60e000" stroke-width="1.25" d="M523.2 157.7l0.0 -2.8M523.2 155.0l0.0 -2.8M523.3 152.3l0.0 -1.7"/>
<path stroke="#70d000" stroke-width="1.0" d="M497.8 159.8l-2.8 0.4M495.1 160.2l-2.8 0.2"/>
<path stroke="#70d000" stroke-width="1.55" d="M510.6 158.5l-0.6 -1.9"/>
<path stroke="#c0d000" stroke-width="1.55" d="M518.8 158.5l0.7 -2.8"/>
<path stroke="#d0d000" stroke-width="1.55" d="M512.2 160.4l-1.6 -2.0"/>
<path stroke="#e0a000" stroke-width="1.55" d="M517.2 186.9l-0.5 -2.8M516.7 184.3l-0.4 -2.8M516.3 181.6l-0.4 -2.8M515.9 178.9l-0.4 -2.8M515.5 176.3l-0.4 -2.8M515.1 173.6l-0.5 -2.8M518.9 161.2l-0.0 -2.8"/>
<path stroke="#e0b000" stroke-width="1.55" d="M518.9 194.8l-0.6 -2.8M518.3 192.2l-0.6 -2.8M517.7 189.6l-0.6 -2.8M514.6 170.9l-0.6 -2.8M514.1 168.3l-0.6 -2.8"/>
<path stroke="#e0c000" stroke-width="1.55" d="M519.5 197.5l-0.6 -2.8M513.5 165.6l-0.6 -2.8M512.9 163.0l-0.7 -2.7"/>
<path stroke="#e0d000" stroke-width="1.55" d="M520.0 200.1l-0.6 -2.8"/>
<path stroke="#e0e000" stroke-width="1.55" d="M520.6 202.8l-0.6 -2.8M514.3 159.8l0.0 -2.8M516.5 159.1l0.6 -2.8"/>
<path stroke="#f01010" stroke-width="1.55" d="M521.1 191.2l-0.5 -2.8M520.6 188.5l-0.5 -2.8M520.2 185.9l-0.4 -2.8M519.8 183.2l-0.4 -2.8M519.5 180.5l-0.3 -2.8M519.1 177.9l-0.3 -2.8M518.8 175.2l-0.4 -2.8M518.5 172.5l-0.4 -2.8"/>
<path stroke="#f02010" stroke-width="1.55" d="M522.1 196.5l-0.5 -2.8M521.6 193.9l-0.5 -2.8M518.1 169.8l-0.4 -2.8M517.7 167.2l-0.5 -2.8"/>
<path stroke="#f03010" stroke-width="1.55" d="M518.7 186.4l-0.4 -2.8M518.2 183.7l-0.4 -2.8M517.9 181.1l-0.4 -2.8M517.5 178.4l-0.4 -2.8M517.1 175.7l-0.4 -2.8M516.8 173.0l-0.5 -2.8M522.6 199.2l-0.5 -2.8M517.2 164.5l-0.4 -2.8"/>
<path stroke="#f04010" stroke-width="1.55" d="M520.2 194.3l-0.6 -2.8M519.7 191.7l-0.6 -2.8M519.2 189.1l-0.5 -2.8M516.3 170.4l-0.5 -2.8M515.8 167.7l-0.5 -2.8"/>
<path stroke="#f05010" stroke-width="1.55" d="M521.3 199.6l-0.5 -2.8M520.8 197.0l-0.6 -2.8M515.3 165.1l-0.6 -2.8M523.1 201.8l-0.5 -2.8M522.8 193.4l-0.5 -2.8M522.3 190.7l-0.5 -2.8M521.9 188.0l-0.4 -2.8M521.5 185.4l-0.3 -2.8M521.2 182.7l-0.3 -2.8M521.0 180.0l-0.3 -2.8M520.7 177.3l-0.3 -2.8M520.5 174.6l-0.3 -2.8M520.2 171.9l-0.3 -2.8M519.9 169.3l-0.4 -2.8"/>
<path stroke="#f06010" stroke-width="1.55" d="M516.8 161.8l-0.3 -2.8M523.8 198.7l-0.5 -2.8M523.3 196.0l-0.5 -2.8M519.5 166.6l-0.4 -2.8M519.2 163.9l-0.3 -2.8"/>
<path stroke="#f07010" stroke-width="1.55" d="M514.8 162.4l-0.5 -2.8"/>
<path stroke="#f08010" stroke-width="1.55" d="M521.8 202.3l-0.5 -2.8M524.1 201.4l-0.4 -2.8"/>
</g>
<g fill="none" stroke-linecap="round" filter="url(#soft)">
</g>
<rect x="383.9" y="227.1" width="152.0" height="12.0" fill="url(#jet)"/>
</g>
<text class="tk" x="8.0" y="107.6" textLength="5.0" lengthAdjust="spacingAndGlyphs">0</text>
<text class="tk" x="72.0" y="107.6" textLength="18.0" lengthAdjust="spacingAndGlyphs">0.22</text>
<text class="tk" x="148.4" y="107.6" textLength="18.6" lengthAdjust="spacingAndGlyphs">0.43</text>
<text class="tk" x="195.0" y="107.6" textLength="5.0" lengthAdjust="spacingAndGlyphs">0</text>
<text class="tk" x="258.6" y="107.6" textLength="18.4" lengthAdjust="spacingAndGlyphs">0.22</text>
<text class="tk" x="335.0" y="107.6" textLength="18.4" lengthAdjust="spacingAndGlyphs">0.44</text>
<text class="tk" x="385.2" y="108.4" textLength="5.0" lengthAdjust="spacingAndGlyphs">0</text>
<text class="tk" x="449.2" y="108.4" textLength="18.3" lengthAdjust="spacingAndGlyphs">0.18</text>
<text class="tk" x="525.6" y="108.4" textLength="18.4" lengthAdjust="spacingAndGlyphs">0.37</text>
<text class="tk" x="8.0" y="254.2" textLength="5.0" lengthAdjust="spacingAndGlyphs">0</text>
<text class="tk" x="72.0" y="254.2" textLength="18.0" lengthAdjust="spacingAndGlyphs">0.22</text>
<text class="tk" x="148.4" y="254.2" textLength="18.6" lengthAdjust="spacingAndGlyphs">0.44</text>
<text class="tk" x="194.4" y="254.0" textLength="5.0" lengthAdjust="spacingAndGlyphs">0</text>
<text class="tk" x="258.6" y="254.0" textLength="19.4" lengthAdjust="spacingAndGlyphs">0.20</text>
<text class="tk" x="336.0" y="254.0" textLength="19.0" lengthAdjust="spacingAndGlyphs">0.40</text>
<text class="tk" x="382.2" y="255.2" textLength="5.2" lengthAdjust="spacingAndGlyphs">0</text>
<text class="tk" x="447.6" y="255.2" textLength="19.0" lengthAdjust="spacingAndGlyphs">0.18</text>
<text class="tk" x="526.4" y="255.2" textLength="18.6" lengthAdjust="spacingAndGlyphs">0.35</text>
<text class="cp" x="68.6" y="135.0" textLength="37.4" lengthAdjust="spacingAndGlyphs">t = 10 s</text>
<text class="cp" x="255.6" y="135.0" textLength="37.4" lengthAdjust="spacingAndGlyphs">t = 13 s</text>
<text class="cp" x="445.6" y="135.0" textLength="37.4" lengthAdjust="spacingAndGlyphs">t = 10 s</text>
<text class="cp" x="68.6" y="282.0" textLength="37.4" lengthAdjust="spacingAndGlyphs">t = 25 s</text>
<text class="cp" x="255.6" y="282.0" textLength="37.8" lengthAdjust="spacingAndGlyphs">t = 40 s</text>
<text class="cp" x="445.4" y="282.2" textLength="37.6" lengthAdjust="spacingAndGlyphs">t = 60 s</text>
</svg>
</body></html>
